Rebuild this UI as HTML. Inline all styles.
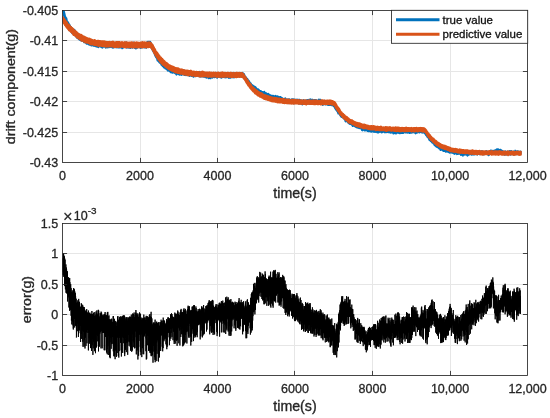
<!DOCTYPE html>
<html><head><meta charset="utf-8"><title>drift prediction</title>
<style>
html,body{margin:0;padding:0;background:#fff;}
svg{display:block}
text{font-family:"Liberation Sans",sans-serif;fill:#262626;}
.tk{font-size:12.5px;stroke:#262626;stroke-width:0.3px}
.lb{font-size:14.2px;stroke:#262626;stroke-width:0.35px}
.lg{font-size:11.5px;fill:#111;stroke:#111;stroke-width:0.3px}
</style></head><body>
<svg width="550" height="418" viewBox="0 0 550 418">
<rect width="550" height="418" fill="#fff"/>
<defs><clipPath id="c0"><rect x="62.5" y="10.5" width="465.0" height="152.0"/></clipPath><clipPath id="c1"><rect x="62.5" y="223.5" width="465.0" height="152.0"/></clipPath></defs>
<path d="M140.5,10.5V162.5M217.5,10.5V162.5M294.5,10.5V162.5M372.5,10.5V162.5M450.5,10.5V162.5M62.5,40.5H527.5M62.5,71.5H527.5M62.5,101.5H527.5M62.5,132.5H527.5" stroke="#e6e6e6" stroke-width="1" fill="none"/>
<g clip-path="url(#c0)"><path d="M62.5,6.6 L63.2,8.6 L63.8,10.8 L64.5,13.5 L65.1,16.2 L65.8,17.6 L66.4,18.2 L67.1,21.4 L67.7,21.7 L68.4,23.1 L69.1,24.2 L69.7,25.1 L70.4,26.7 L71.0,26.8 L71.7,28.3 L72.3,29.2 L73.0,29.1 L73.6,30.0 L74.3,29.6 L74.9,30.5 L75.6,32.0 L76.3,32.6 L76.9,33.2 L77.6,34.0 L78.2,33.7 L78.9,34.9 L79.5,34.8 L80.2,35.3 L80.8,36.0 L81.5,35.8 L82.2,36.8 L82.8,36.3 L83.5,37.8 L84.1,38.7 L84.8,38.2 L85.4,38.4 L86.1,39.0 L86.7,39.2 L87.4,39.0 L88.1,38.9 L88.7,39.9 L89.4,40.9 L90.0,40.2 L90.7,40.8 L91.3,41.2 L92.0,41.0 L92.6,40.6 L93.3,41.0 L93.9,41.8 L94.6,41.6 L95.3,42.8 L95.9,42.2 L96.6,42.1 L97.2,42.0 L97.9,42.3 L98.5,42.5 L99.2,42.5 L99.8,42.0 L100.5,41.7 L101.2,42.6 L101.8,42.3 L102.5,42.8 L103.1,42.9 L103.8,42.4 L104.4,42.3 L105.1,42.1 L105.7,42.5 L106.4,42.9 L107.1,42.9 L107.7,42.7 L108.4,43.1 L109.0,43.2 L109.7,42.7 L110.3,42.8 L111.0,42.7 L111.6,42.2 L112.3,42.1 L112.9,43.0 L113.6,43.2 L114.3,42.6 L114.9,43.9 L115.6,43.2 L116.2,43.7 L116.9,43.0 L117.5,42.7 L118.2,44.2 L118.8,43.7 L119.5,43.7 L120.2,42.8 L120.8,42.9 L121.5,43.4 L122.1,44.5 L122.8,43.6 L123.4,42.8 L124.1,42.8 L124.7,43.0 L125.4,42.8 L126.1,42.1 L126.7,43.5 L127.4,43.0 L128.0,44.6 L128.7,43.6 L129.3,43.0 L130.0,44.0 L130.6,43.9 L131.3,43.4 L131.9,43.3 L132.6,44.5 L133.3,42.4 L133.9,43.1 L134.6,43.3 L135.2,44.2 L135.9,43.6 L136.5,43.3 L137.2,43.5 L137.8,43.5 L138.5,43.3 L139.2,43.3 L139.8,43.3 L140.5,43.4 L141.1,43.2 L141.8,43.7 L142.4,42.5 L143.1,43.7 L143.7,43.4 L144.4,43.0 L145.1,43.5 L145.7,43.7 L146.4,43.7 L147.0,42.2 L147.7,41.7 L148.3,42.4 L149.0,41.5 L149.6,42.2 L150.3,41.8 L150.9,43.0 L151.6,44.4 L152.3,45.0 L152.9,46.9 L153.6,47.8 L154.2,49.2 L154.9,51.0 L155.5,51.7 L156.2,54.1 L156.8,55.2 L157.5,55.6 L158.2,56.6 L158.8,56.7 L159.5,58.9 L160.1,59.1 L160.8,59.7 L161.4,60.9 L162.1,61.2 L162.7,62.2 L163.4,62.5 L164.1,63.7 L164.7,63.7 L165.4,65.0 L166.0,64.6 L166.7,65.6 L167.3,66.1 L168.0,65.8 L168.6,66.4 L169.3,66.8 L169.9,67.0 L170.6,68.9 L171.3,68.0 L171.9,68.5 L172.6,68.4 L173.2,68.9 L173.9,68.8 L174.5,69.2 L175.2,69.5 L175.8,70.7 L176.5,70.3 L177.2,69.5 L177.8,69.9 L178.5,69.9 L179.1,71.0 L179.8,70.6 L180.4,70.4 L181.1,70.6 L181.7,70.4 L182.4,70.4 L183.1,69.9 L183.7,70.1 L184.4,71.1 L185.0,70.6 L185.7,71.3 L186.3,71.4 L187.0,71.9 L187.6,71.7 L188.3,70.8 L189.0,71.1 L189.6,72.1 L190.3,71.3 L190.9,71.7 L191.6,72.7 L192.2,72.9 L192.9,72.8 L193.5,73.3 L194.2,72.3 L194.8,72.3 L195.5,72.8 L196.2,71.8 L196.8,72.2 L197.5,72.0 L198.1,72.4 L198.8,72.9 L199.4,71.8 L200.1,73.4 L200.7,72.6 L201.4,72.3 L202.1,73.2 L202.7,73.6 L203.4,72.8 L204.0,73.3 L204.7,73.1 L205.3,73.7 L206.0,73.0 L206.6,74.0 L207.3,73.7 L208.0,74.0 L208.6,73.8 L209.3,74.1 L209.9,74.3 L210.6,74.5 L211.2,73.5 L211.9,72.8 L212.5,74.0 L213.2,73.5 L213.8,73.2 L214.5,74.4 L215.2,73.7 L215.8,72.6 L216.5,73.1 L217.1,73.9 L217.8,73.8 L218.4,73.4 L219.1,73.3 L219.7,73.3 L220.4,73.6 L221.1,73.5 L221.7,73.7 L222.4,73.6 L223.0,74.4 L223.7,74.2 L224.3,73.8 L225.0,73.3 L225.6,74.2 L226.3,73.8 L227.0,73.8 L227.6,73.4 L228.3,74.2 L228.9,73.8 L229.6,73.5 L230.2,74.1 L230.9,74.2 L231.5,73.3 L232.2,72.9 L232.8,74.0 L233.5,72.9 L234.2,73.5 L234.8,73.1 L235.5,73.0 L236.1,73.3 L236.8,73.9 L237.4,73.3 L238.1,73.6 L238.7,73.2 L239.4,74.6 L240.1,73.1 L240.7,72.8 L241.4,72.8 L242.0,73.6 L242.7,72.8 L243.3,74.2 L244.0,74.0 L244.6,75.3 L245.3,76.7 L246.0,77.2 L246.6,78.6 L247.3,78.7 L247.9,80.1 L248.6,80.5 L249.2,81.3 L249.9,82.7 L250.5,83.1 L251.2,84.1 L251.8,85.3 L252.5,85.1 L253.2,85.8 L253.8,86.6 L254.5,86.5 L255.1,86.8 L255.8,87.5 L256.4,88.4 L257.1,89.3 L257.7,89.1 L258.4,89.4 L259.1,90.1 L259.7,90.8 L260.4,91.3 L261.0,91.0 L261.7,91.8 L262.3,91.9 L263.0,92.2 L263.6,93.5 L264.3,91.6 L265.0,93.5 L265.6,93.0 L266.3,93.2 L266.9,93.8 L267.6,94.1 L268.2,93.6 L268.9,94.8 L269.5,94.6 L270.2,95.0 L270.8,95.3 L271.5,95.9 L272.2,95.8 L272.8,95.6 L273.5,96.1 L274.1,96.1 L274.8,96.8 L275.4,95.7 L276.1,96.4 L276.7,96.5 L277.4,96.1 L278.1,96.7 L278.7,96.7 L279.4,97.7 L280.0,96.8 L280.7,96.9 L281.3,97.8 L282.0,97.9 L282.6,98.6 L283.3,99.6 L284.0,99.3 L284.6,98.8 L285.3,98.1 L285.9,99.3 L286.6,99.4 L287.2,99.4 L287.9,99.5 L288.5,99.3 L289.2,99.1 L289.8,100.0 L290.5,99.7 L291.2,100.2 L291.8,99.1 L292.5,99.2 L293.1,99.9 L293.8,99.2 L294.4,99.9 L295.1,99.5 L295.7,100.3 L296.4,99.6 L297.1,99.5 L297.7,99.8 L298.4,99.6 L299.0,100.1 L299.7,99.6 L300.3,101.3 L301.0,100.3 L301.6,101.7 L302.3,101.2 L303.0,100.5 L303.6,100.0 L304.3,100.8 L304.9,100.7 L305.6,100.5 L306.2,100.5 L306.9,100.1 L307.5,99.8 L308.2,100.0 L308.8,99.7 L309.5,101.5 L310.2,99.1 L310.8,100.3 L311.5,100.0 L312.1,99.4 L312.8,99.9 L313.4,100.1 L314.1,100.0 L314.7,99.9 L315.4,99.8 L316.1,99.9 L316.7,100.8 L317.4,100.9 L318.0,100.6 L318.7,99.5 L319.3,100.5 L320.0,99.4 L320.6,100.1 L321.3,100.7 L322.0,100.8 L322.6,101.0 L323.3,101.6 L323.9,100.7 L324.6,100.7 L325.2,101.2 L325.9,100.8 L326.5,101.1 L327.2,101.1 L327.8,101.3 L328.5,101.1 L329.2,101.8 L329.8,101.9 L330.5,101.9 L331.1,101.3 L331.8,102.8 L332.4,101.9 L333.1,103.3 L333.7,103.8 L334.4,103.8 L335.1,104.5 L335.7,106.7 L336.4,106.8 L337.0,107.5 L337.7,109.0 L338.3,110.8 L339.0,110.8 L339.6,111.0 L340.3,112.3 L341.0,113.3 L341.6,114.3 L342.3,114.0 L342.9,114.5 L343.6,115.1 L344.2,116.6 L344.9,117.1 L345.5,117.6 L346.2,117.8 L346.8,118.6 L347.5,118.8 L348.2,119.5 L348.8,120.1 L349.5,120.7 L350.1,121.1 L350.8,121.3 L351.4,121.4 L352.1,123.0 L352.7,122.0 L353.4,122.8 L354.1,122.9 L354.7,123.1 L355.4,124.0 L356.0,124.3 L356.7,124.2 L357.3,124.2 L358.0,124.1 L358.6,125.0 L359.3,125.4 L360.0,125.0 L360.6,125.9 L361.3,125.9 L361.9,127.7 L362.6,127.3 L363.2,126.4 L363.9,127.5 L364.5,127.7 L365.2,127.5 L365.8,126.5 L366.5,128.0 L367.2,127.9 L367.8,128.2 L368.5,128.5 L369.1,127.9 L369.8,128.4 L370.4,128.6 L371.1,128.5 L371.7,128.5 L372.4,127.8 L373.1,128.9 L373.7,129.0 L374.4,129.4 L375.0,129.5 L375.7,128.6 L376.3,128.8 L377.0,129.4 L377.6,129.1 L378.3,129.6 L379.0,128.9 L379.6,128.7 L380.3,129.8 L380.9,129.2 L381.6,129.3 L382.2,128.8 L382.9,129.2 L383.5,129.5 L384.2,128.9 L384.8,129.6 L385.5,129.9 L386.2,129.6 L386.8,129.2 L387.5,129.1 L388.1,129.1 L388.8,130.0 L389.4,129.6 L390.1,129.0 L390.7,129.8 L391.4,129.6 L392.1,129.4 L392.7,130.0 L393.4,130.0 L394.0,130.8 L394.7,130.3 L395.3,129.9 L396.0,129.9 L396.6,129.3 L397.3,129.6 L398.0,130.5 L398.6,129.9 L399.3,130.6 L399.9,130.3 L400.6,130.5 L401.2,129.6 L401.9,129.9 L402.5,129.6 L403.2,129.9 L403.8,130.2 L404.5,129.4 L405.2,129.0 L405.8,129.6 L406.5,129.9 L407.1,129.4 L407.8,129.5 L408.4,129.9 L409.1,129.1 L409.7,130.0 L410.4,130.4 L411.1,129.8 L411.7,130.4 L412.4,129.0 L413.0,130.1 L413.7,129.0 L414.3,129.8 L415.0,129.7 L415.6,129.8 L416.3,129.2 L417.0,130.2 L417.6,129.3 L418.3,129.0 L418.9,129.9 L419.6,129.9 L420.2,129.8 L420.9,129.1 L421.5,129.5 L422.2,129.3 L422.9,130.0 L423.5,129.2 L424.2,130.3 L424.8,130.3 L425.5,131.7 L426.1,132.0 L426.8,133.3 L427.4,134.2 L428.1,135.5 L428.7,135.7 L429.4,136.8 L430.1,137.7 L430.7,137.9 L431.4,138.3 L432.0,139.5 L432.7,139.3 L433.3,140.6 L434.0,141.1 L434.6,142.5 L435.3,142.9 L436.0,144.4 L436.6,144.0 L437.3,143.8 L437.9,144.9 L438.6,144.8 L439.2,146.1 L439.9,145.7 L440.5,147.1 L441.2,146.5 L441.9,147.6 L442.5,147.3 L443.2,148.3 L443.8,147.7 L444.5,147.8 L445.1,148.1 L445.8,149.3 L446.4,149.0 L447.1,149.2 L447.7,149.7 L448.4,150.0 L449.1,149.7 L449.7,149.9 L450.4,149.1 L451.0,150.1 L451.7,150.4 L452.3,149.5 L453.0,150.6 L453.6,150.5 L454.3,150.5 L455.0,150.8 L455.6,150.8 L456.3,150.8 L456.9,151.2 L457.6,151.5 L458.2,151.1 L458.9,150.9 L459.5,151.0 L460.2,151.5 L460.9,152.2 L461.5,152.0 L462.2,151.5 L462.8,152.2 L463.5,151.6 L464.1,151.3 L464.8,151.7 L465.4,152.1 L466.1,152.3 L466.7,151.4 L467.4,152.8 L468.1,152.6 L468.7,152.3 L469.4,152.2 L470.0,152.1 L470.7,151.6 L471.3,151.9 L472.0,152.2 L472.6,152.2 L473.3,152.2 L474.0,152.1 L474.6,151.2 L475.3,151.2 L475.9,151.9 L476.6,152.0 L477.2,152.4 L477.9,151.1 L478.5,151.8 L479.2,151.3 L479.9,151.9 L480.5,151.3 L481.2,151.3 L481.8,151.0 L482.5,151.2 L483.1,152.7 L483.8,151.8 L484.4,152.1 L485.1,151.6 L485.7,151.7 L486.4,151.0 L487.1,151.5 L487.7,151.7 L488.4,151.6 L489.0,152.1 L489.7,151.9 L490.3,151.5 L491.0,150.3 L491.6,150.9 L492.3,150.8 L493.0,150.6 L493.6,150.9 L494.3,151.2 L494.9,150.2 L495.6,150.4 L496.2,149.8 L496.9,149.2 L497.5,149.4 L498.2,149.2 L498.9,149.8 L499.5,150.5 L500.2,149.7 L500.8,149.7 L501.5,151.1 L502.1,150.6 L502.8,151.3 L503.4,151.3 L504.1,151.8 L504.7,152.1 L505.4,151.3 L506.1,152.3 L506.7,152.2 L507.4,151.4 L508.0,151.4 L508.7,152.3 L509.3,151.3 L510.0,150.9 L510.6,151.7 L511.3,151.0 L512.0,151.7 L512.6,151.9 L513.3,151.4 L513.9,152.2 L514.6,152.0 L515.2,150.5 L515.9,151.6 L516.5,151.9 L517.2,151.1 L517.9,151.2 L518.5,151.6 L519.2,152.1 L519.8,151.6 L520.5,151.4 L520.8,151.7 L520.8,153.8 L520.5,153.6 L519.8,154.4 L519.2,154.0 L518.5,153.5 L517.9,153.7 L517.2,154.3 L516.5,154.3 L515.9,154.0 L515.2,153.5 L514.6,154.4 L513.9,154.6 L513.3,154.0 L512.6,154.4 L512.0,154.2 L511.3,153.6 L510.6,154.7 L510.0,153.8 L509.3,154.3 L508.7,154.6 L508.0,154.0 L507.4,154.1 L506.7,153.8 L506.1,154.8 L505.4,154.3 L504.7,154.9 L504.1,154.6 L503.4,153.9 L502.8,154.0 L502.1,153.2 L501.5,153.6 L500.8,152.5 L500.2,152.3 L499.5,153.1 L498.9,152.7 L498.2,152.5 L497.5,152.4 L496.9,151.7 L496.2,152.5 L495.6,153.4 L494.9,153.2 L494.3,153.5 L493.6,152.8 L493.0,153.5 L492.3,153.3 L491.6,153.3 L491.0,153.5 L490.3,154.0 L489.7,154.1 L489.0,155.1 L488.4,155.3 L487.7,154.0 L487.1,153.5 L486.4,153.5 L485.7,154.1 L485.1,153.9 L484.4,154.4 L483.8,153.9 L483.1,154.6 L482.5,153.9 L481.8,153.9 L481.2,154.2 L480.5,153.7 L479.9,154.5 L479.2,153.7 L478.5,153.4 L477.9,153.6 L477.2,154.7 L476.6,154.1 L475.9,154.0 L475.3,154.4 L474.6,153.6 L474.0,154.7 L473.3,154.4 L472.6,154.7 L472.0,154.0 L471.3,154.8 L470.7,153.8 L470.0,154.1 L469.4,154.5 L468.7,154.9 L468.1,155.1 L467.4,155.7 L466.7,153.6 L466.1,154.8 L465.4,154.4 L464.8,154.8 L464.1,154.5 L463.5,154.5 L462.8,155.8 L462.2,154.2 L461.5,154.3 L460.9,155.1 L460.2,153.4 L459.5,153.8 L458.9,153.2 L458.2,154.0 L457.6,153.3 L456.9,154.2 L456.3,153.6 L455.6,152.6 L455.0,153.6 L454.3,154.0 L453.6,153.2 L453.0,152.8 L452.3,153.0 L451.7,152.6 L451.0,152.7 L450.4,152.1 L449.7,152.8 L449.1,152.4 L448.4,152.2 L447.7,151.6 L447.1,151.6 L446.4,151.5 L445.8,151.9 L445.1,150.9 L444.5,150.9 L443.8,151.1 L443.2,151.1 L442.5,149.9 L441.9,149.6 L441.2,149.7 L440.5,150.1 L439.9,148.6 L439.2,148.7 L438.6,148.0 L437.9,147.3 L437.3,147.1 L436.6,146.8 L436.0,146.4 L435.3,145.6 L434.6,145.4 L434.0,143.9 L433.3,143.4 L432.7,142.5 L432.0,142.6 L431.4,140.7 L430.7,141.2 L430.1,140.3 L429.4,140.1 L428.7,138.6 L428.1,137.3 L427.4,137.1 L426.8,135.8 L426.1,135.2 L425.5,134.1 L424.8,133.6 L424.2,132.7 L423.5,132.4 L422.9,132.4 L422.2,132.8 L421.5,132.3 L420.9,131.8 L420.2,132.1 L419.6,132.7 L418.9,132.4 L418.3,131.6 L417.6,131.4 L417.0,132.9 L416.3,132.3 L415.6,133.5 L415.0,132.4 L414.3,132.6 L413.7,132.3 L413.0,132.4 L412.4,131.9 L411.7,132.9 L411.1,132.4 L410.4,132.8 L409.7,133.1 L409.1,131.9 L408.4,132.6 L407.8,132.8 L407.1,132.2 L406.5,132.6 L405.8,132.4 L405.2,132.6 L404.5,132.0 L403.8,132.5 L403.2,133.2 L402.5,133.1 L401.9,133.2 L401.2,133.0 L400.6,133.0 L399.9,133.4 L399.3,133.1 L398.6,132.7 L398.0,133.0 L397.3,131.9 L396.6,131.7 L396.0,133.7 L395.3,133.3 L394.7,132.7 L394.0,133.5 L393.4,133.7 L392.7,132.3 L392.1,132.7 L391.4,132.7 L390.7,132.8 L390.1,132.7 L389.4,131.7 L388.8,132.3 L388.1,132.3 L387.5,132.2 L386.8,132.1 L386.2,132.3 L385.5,132.1 L384.8,132.5 L384.2,131.8 L383.5,131.8 L382.9,132.0 L382.2,132.3 L381.6,132.5 L380.9,131.8 L380.3,131.9 L379.6,131.9 L379.0,132.2 L378.3,132.6 L377.6,132.5 L377.0,132.4 L376.3,131.7 L375.7,131.9 L375.0,132.1 L374.4,131.6 L373.7,131.9 L373.1,131.5 L372.4,131.1 L371.7,131.8 L371.1,131.1 L370.4,131.7 L369.8,131.3 L369.1,130.7 L368.5,131.4 L367.8,131.2 L367.2,130.8 L366.5,130.2 L365.8,130.1 L365.2,130.6 L364.5,130.5 L363.9,129.7 L363.2,129.0 L362.6,130.5 L361.9,130.1 L361.3,128.7 L360.6,128.4 L360.0,127.8 L359.3,128.3 L358.6,128.0 L358.0,126.8 L357.3,127.8 L356.7,127.5 L356.0,127.0 L355.4,126.8 L354.7,126.3 L354.1,125.5 L353.4,126.0 L352.7,126.2 L352.1,125.0 L351.4,124.5 L350.8,123.9 L350.1,124.2 L349.5,123.8 L348.8,123.2 L348.2,122.9 L347.5,121.7 L346.8,121.5 L346.2,121.0 L345.5,121.5 L344.9,119.5 L344.2,118.9 L343.6,118.3 L342.9,117.6 L342.3,117.1 L341.6,117.2 L341.0,116.4 L340.3,115.4 L339.6,114.3 L339.0,113.5 L338.3,113.6 L337.7,111.9 L337.0,110.9 L336.4,110.1 L335.7,109.3 L335.1,108.3 L334.4,106.6 L333.7,106.3 L333.1,105.7 L332.4,104.5 L331.8,105.4 L331.1,104.7 L330.5,105.0 L329.8,105.1 L329.2,105.2 L328.5,104.9 L327.8,105.0 L327.2,104.2 L326.5,104.3 L325.9,104.0 L325.2,104.7 L324.6,103.6 L323.9,103.2 L323.3,104.7 L322.6,105.0 L322.0,103.5 L321.3,103.7 L320.6,102.7 L320.0,102.3 L319.3,102.6 L318.7,103.1 L318.0,103.2 L317.4,102.9 L316.7,103.6 L316.1,103.0 L315.4,103.1 L314.7,102.8 L314.1,103.3 L313.4,103.1 L312.8,102.8 L312.1,102.6 L311.5,103.1 L310.8,103.5 L310.2,102.8 L309.5,104.0 L308.8,102.4 L308.2,103.3 L307.5,103.4 L306.9,103.8 L306.2,103.5 L305.6,103.0 L304.9,103.1 L304.3,103.9 L303.6,103.3 L303.0,103.2 L302.3,104.5 L301.6,104.1 L301.0,103.7 L300.3,103.7 L299.7,103.2 L299.0,103.8 L298.4,102.7 L297.7,103.0 L297.1,103.1 L296.4,103.2 L295.7,103.2 L295.1,102.6 L294.4,103.4 L293.8,102.6 L293.1,103.4 L292.5,102.7 L291.8,102.1 L291.2,102.6 L290.5,102.7 L289.8,102.9 L289.2,102.4 L288.5,103.3 L287.9,102.3 L287.2,102.6 L286.6,102.5 L285.9,102.6 L285.3,101.4 L284.6,101.6 L284.0,102.0 L283.3,102.2 L282.6,101.7 L282.0,101.3 L281.3,101.4 L280.7,100.9 L280.0,100.3 L279.4,101.3 L278.7,100.7 L278.1,99.5 L277.4,99.6 L276.7,100.2 L276.1,99.2 L275.4,99.2 L274.8,99.8 L274.1,98.6 L273.5,98.7 L272.8,99.0 L272.2,98.7 L271.5,99.0 L270.8,99.1 L270.2,98.3 L269.5,97.7 L268.9,97.8 L268.2,97.4 L267.6,96.8 L266.9,97.1 L266.3,97.2 L265.6,95.6 L265.0,96.7 L264.3,95.5 L263.6,96.1 L263.0,95.6 L262.3,95.4 L261.7,95.3 L261.0,94.3 L260.4,93.9 L259.7,93.1 L259.1,93.4 L258.4,93.0 L257.7,92.4 L257.1,92.0 L256.4,91.2 L255.8,90.5 L255.1,90.1 L254.5,89.5 L253.8,90.2 L253.2,88.9 L252.5,88.8 L251.8,87.8 L251.2,87.4 L250.5,86.7 L249.9,86.0 L249.2,84.7 L248.6,84.6 L247.9,83.5 L247.3,81.9 L246.6,82.2 L246.0,80.5 L245.3,79.4 L244.6,79.1 L244.0,78.1 L243.3,77.5 L242.7,76.8 L242.0,76.4 L241.4,76.6 L240.7,76.7 L240.1,76.4 L239.4,76.8 L238.7,76.5 L238.1,76.2 L237.4,76.2 L236.8,76.9 L236.1,77.3 L235.5,76.9 L234.8,76.6 L234.2,77.6 L233.5,77.2 L232.8,77.5 L232.2,76.7 L231.5,77.1 L230.9,77.4 L230.2,77.9 L229.6,77.1 L228.9,78.1 L228.3,77.2 L227.6,76.7 L227.0,77.4 L226.3,76.8 L225.6,77.5 L225.0,77.2 L224.3,77.3 L223.7,77.1 L223.0,77.0 L222.4,76.8 L221.7,77.8 L221.1,77.6 L220.4,77.4 L219.7,76.4 L219.1,76.9 L218.4,76.4 L217.8,76.9 L217.1,77.9 L216.5,76.6 L215.8,76.7 L215.2,77.2 L214.5,77.4 L213.8,77.0 L213.2,76.7 L212.5,77.7 L211.9,76.6 L211.2,77.0 L210.6,78.3 L209.9,78.3 L209.3,77.5 L208.6,78.3 L208.0,77.7 L207.3,76.9 L206.6,77.8 L206.0,76.9 L205.3,77.3 L204.7,76.8 L204.0,76.9 L203.4,76.7 L202.7,76.5 L202.1,76.5 L201.4,75.9 L200.7,76.2 L200.1,76.7 L199.4,75.6 L198.8,76.3 L198.1,76.0 L197.5,74.6 L196.8,76.0 L196.2,76.2 L195.5,76.4 L194.8,75.9 L194.2,75.8 L193.5,76.9 L192.9,76.3 L192.2,75.8 L191.6,76.1 L190.9,75.7 L190.3,75.1 L189.6,76.1 L189.0,75.2 L188.3,75.3 L187.6,74.9 L187.0,75.4 L186.3,74.6 L185.7,75.2 L185.0,74.5 L184.4,75.0 L183.7,74.4 L183.1,74.4 L182.4,74.1 L181.7,75.0 L181.1,73.8 L180.4,74.5 L179.8,74.9 L179.1,74.6 L178.5,74.1 L177.8,73.9 L177.2,73.1 L176.5,74.7 L175.8,73.7 L175.2,73.3 L174.5,73.0 L173.9,72.6 L173.2,72.2 L172.6,72.8 L171.9,72.6 L171.3,71.9 L170.6,72.4 L169.9,71.0 L169.3,71.0 L168.6,69.9 L168.0,70.9 L167.3,69.7 L166.7,69.4 L166.0,68.4 L165.4,68.7 L164.7,67.8 L164.1,67.7 L163.4,66.6 L162.7,66.4 L162.1,65.3 L161.4,64.9 L160.8,63.4 L160.1,63.1 L159.5,62.6 L158.8,61.7 L158.2,60.0 L157.5,60.7 L156.8,58.1 L156.2,57.6 L155.5,56.3 L154.9,54.9 L154.2,53.0 L153.6,52.1 L152.9,50.9 L152.3,49.4 L151.6,48.3 L150.9,47.4 L150.3,45.7 L149.6,46.1 L149.0,46.2 L148.3,46.1 L147.7,46.2 L147.0,46.4 L146.4,47.8 L145.7,47.7 L145.1,47.6 L144.4,47.6 L143.7,47.4 L143.1,47.4 L142.4,47.2 L141.8,47.2 L141.1,47.8 L140.5,48.0 L139.8,47.4 L139.2,47.3 L138.5,47.2 L137.8,47.1 L137.2,47.8 L136.5,47.1 L135.9,48.6 L135.2,47.8 L134.6,48.0 L133.9,47.2 L133.3,46.7 L132.6,47.8 L131.9,47.2 L131.3,47.4 L130.6,48.0 L130.0,47.9 L129.3,47.8 L128.7,47.6 L128.0,47.7 L127.4,47.2 L126.7,47.7 L126.1,45.9 L125.4,47.1 L124.7,47.2 L124.1,47.3 L123.4,46.8 L122.8,48.0 L122.1,48.4 L121.5,47.1 L120.8,47.3 L120.2,47.6 L119.5,47.5 L118.8,47.6 L118.2,47.6 L117.5,47.1 L116.9,47.6 L116.2,47.1 L115.6,47.4 L114.9,47.2 L114.3,46.8 L113.6,47.7 L112.9,47.8 L112.3,46.4 L111.6,46.1 L111.0,47.2 L110.3,46.8 L109.7,46.7 L109.0,47.4 L108.4,47.4 L107.7,46.4 L107.1,47.6 L106.4,46.6 L105.7,47.8 L105.1,46.9 L104.4,46.4 L103.8,46.3 L103.1,46.7 L102.5,47.7 L101.8,46.0 L101.2,47.2 L100.5,46.4 L99.8,46.0 L99.2,45.8 L98.5,47.3 L97.9,46.2 L97.2,46.8 L96.6,46.6 L95.9,46.0 L95.3,46.3 L94.6,45.9 L93.9,45.9 L93.3,45.8 L92.6,45.3 L92.0,45.3 L91.3,45.6 L90.7,45.1 L90.0,44.4 L89.4,44.8 L88.7,44.5 L88.1,43.7 L87.4,43.8 L86.7,43.9 L86.1,43.0 L85.4,42.7 L84.8,42.2 L84.1,42.4 L83.5,41.2 L82.8,40.5 L82.2,40.9 L81.5,40.6 L80.8,40.3 L80.2,40.3 L79.5,39.0 L78.9,39.3 L78.2,38.5 L77.6,38.2 L76.9,37.7 L76.3,37.0 L75.6,36.2 L74.9,34.9 L74.3,33.9 L73.6,33.6 L73.0,33.2 L72.3,33.5 L71.7,32.4 L71.0,30.7 L70.4,31.0 L69.7,28.7 L69.1,29.2 L68.4,26.8 L67.7,25.9 L67.1,25.4 L66.4,22.8 L65.8,21.5 L65.1,20.5 L64.5,18.3 L63.8,15.4 L63.2,12.8 L62.5,11.2Z" fill="#0072bd" stroke="#0072bd" stroke-width="1.8" stroke-linejoin="round"/>
<path d="M62.5,16.8 L63.2,17.7 L63.8,18.7 L64.5,19.5 L65.1,20.3 L65.8,21.4 L66.4,21.8 L67.1,22.9 L67.7,24.1 L68.4,24.6 L69.1,24.9 L69.7,26.0 L70.4,26.8 L71.0,27.0 L71.7,28.0 L72.3,28.1 L73.0,29.0 L73.6,29.7 L74.3,30.6 L74.9,30.7 L75.6,31.3 L76.3,31.7 L76.9,32.5 L77.6,33.4 L78.2,33.5 L78.9,33.9 L79.5,34.4 L80.2,35.0 L80.8,34.8 L81.5,35.0 L82.2,35.8 L82.8,36.1 L83.5,36.5 L84.1,37.0 L84.8,36.7 L85.4,37.8 L86.1,37.7 L86.7,37.8 L87.4,38.3 L88.1,38.4 L88.7,38.9 L89.4,38.6 L90.0,38.9 L90.7,39.9 L91.3,39.5 L92.0,39.8 L92.6,40.1 L93.3,40.4 L93.9,40.3 L94.6,40.0 L95.3,40.5 L95.9,40.7 L96.6,40.9 L97.2,41.0 L97.9,40.7 L98.5,40.8 L99.2,41.3 L99.8,40.9 L100.5,41.4 L101.2,41.6 L101.8,41.2 L102.5,41.4 L103.1,41.2 L103.8,41.7 L104.4,41.3 L105.1,41.7 L105.7,41.7 L106.4,42.1 L107.1,41.9 L107.7,42.0 L108.4,42.0 L109.0,42.2 L109.7,41.7 L110.3,42.2 L111.0,42.1 L111.6,42.0 L112.3,42.0 L112.9,41.6 L113.6,42.1 L114.3,42.3 L114.9,42.4 L115.6,42.3 L116.2,42.0 L116.9,42.2 L117.5,41.9 L118.2,42.0 L118.8,42.2 L119.5,41.9 L120.2,42.7 L120.8,42.4 L121.5,42.2 L122.1,42.1 L122.8,42.6 L123.4,42.5 L124.1,42.9 L124.7,42.1 L125.4,42.5 L126.1,42.3 L126.7,42.3 L127.4,42.4 L128.0,42.4 L128.7,43.0 L129.3,42.6 L130.0,42.6 L130.6,42.6 L131.3,42.3 L131.9,42.3 L132.6,43.0 L133.3,42.7 L133.9,42.7 L134.6,42.3 L135.2,42.8 L135.9,42.6 L136.5,42.3 L137.2,42.4 L137.8,42.6 L138.5,42.7 L139.2,42.8 L139.8,43.0 L140.5,42.8 L141.1,42.3 L141.8,42.8 L142.4,42.0 L143.1,42.7 L143.7,42.5 L144.4,42.2 L145.1,43.0 L145.7,42.5 L146.4,42.7 L147.0,42.4 L147.7,42.7 L148.3,42.5 L149.0,42.2 L149.6,42.4 L150.3,42.8 L150.9,42.9 L151.6,44.2 L152.3,44.4 L152.9,45.9 L153.6,47.0 L154.2,48.4 L154.9,49.2 L155.5,50.7 L156.2,51.8 L156.8,52.3 L157.5,53.2 L158.2,54.2 L158.8,55.3 L159.5,56.0 L160.1,57.2 L160.8,57.5 L161.4,58.2 L162.1,58.7 L162.7,59.5 L163.4,60.6 L164.1,60.8 L164.7,61.5 L165.4,62.4 L166.0,62.7 L166.7,63.1 L167.3,63.6 L168.0,64.2 L168.6,64.9 L169.3,65.1 L169.9,65.4 L170.6,65.8 L171.3,66.2 L171.9,66.3 L172.6,66.7 L173.2,66.8 L173.9,67.3 L174.5,67.5 L175.2,68.1 L175.8,67.9 L176.5,68.3 L177.2,68.3 L177.8,68.3 L178.5,68.5 L179.1,69.2 L179.8,69.3 L180.4,69.6 L181.1,69.3 L181.7,69.7 L182.4,69.6 L183.1,70.3 L183.7,70.1 L184.4,70.2 L185.0,70.4 L185.7,70.7 L186.3,70.7 L187.0,70.4 L187.6,70.8 L188.3,70.8 L189.0,70.9 L189.6,71.3 L190.3,71.1 L190.9,70.6 L191.6,71.5 L192.2,71.6 L192.9,72.0 L193.5,71.6 L194.2,71.6 L194.8,72.4 L195.5,71.9 L196.2,71.8 L196.8,72.2 L197.5,72.0 L198.1,71.9 L198.8,72.0 L199.4,72.7 L200.1,72.3 L200.7,72.1 L201.4,71.8 L202.1,72.2 L202.7,71.5 L203.4,72.7 L204.0,72.1 L204.7,72.4 L205.3,72.5 L206.0,72.5 L206.6,72.4 L207.3,72.4 L208.0,72.9 L208.6,73.0 L209.3,72.3 L209.9,72.7 L210.6,72.7 L211.2,72.5 L211.9,72.9 L212.5,72.8 L213.2,72.6 L213.8,72.6 L214.5,72.8 L215.2,72.6 L215.8,72.8 L216.5,72.9 L217.1,73.2 L217.8,72.4 L218.4,72.5 L219.1,72.9 L219.7,72.9 L220.4,73.1 L221.1,72.6 L221.7,72.8 L222.4,72.3 L223.0,73.3 L223.7,72.8 L224.3,72.9 L225.0,72.8 L225.6,72.9 L226.3,72.9 L227.0,72.9 L227.6,72.8 L228.3,72.8 L228.9,73.2 L229.6,73.2 L230.2,72.8 L230.9,72.8 L231.5,73.0 L232.2,73.3 L232.8,73.3 L233.5,72.8 L234.2,73.1 L234.8,73.3 L235.5,73.0 L236.1,73.0 L236.8,72.7 L237.4,73.0 L238.1,73.2 L238.7,73.0 L239.4,72.8 L240.1,73.2 L240.7,73.2 L241.4,72.9 L242.0,72.9 L242.7,73.6 L243.3,73.9 L244.0,75.1 L244.6,76.0 L245.3,77.0 L246.0,78.2 L246.6,79.0 L247.3,80.2 L247.9,80.9 L248.6,82.5 L249.2,82.7 L249.9,83.7 L250.5,84.4 L251.2,85.4 L251.8,86.6 L252.5,87.0 L253.2,87.6 L253.8,88.2 L254.5,89.1 L255.1,89.2 L255.8,89.9 L256.4,90.3 L257.1,91.0 L257.7,91.3 L258.4,91.8 L259.1,92.1 L259.7,92.8 L260.4,93.1 L261.0,93.1 L261.7,93.3 L262.3,93.9 L263.0,94.3 L263.6,94.6 L264.3,95.0 L265.0,95.4 L265.6,95.2 L266.3,95.8 L266.9,95.8 L267.6,96.3 L268.2,96.3 L268.9,96.5 L269.5,96.8 L270.2,97.1 L270.8,97.0 L271.5,97.4 L272.2,97.6 L272.8,97.4 L273.5,98.0 L274.1,98.0 L274.8,97.8 L275.4,97.9 L276.1,98.0 L276.7,98.2 L277.4,98.8 L278.1,98.3 L278.7,99.0 L279.4,98.5 L280.0,98.7 L280.7,98.8 L281.3,98.9 L282.0,98.9 L282.6,99.2 L283.3,98.8 L284.0,99.3 L284.6,99.6 L285.3,99.3 L285.9,99.9 L286.6,99.5 L287.2,99.5 L287.9,100.0 L288.5,99.4 L289.2,99.8 L289.8,100.0 L290.5,100.2 L291.2,99.9 L291.8,99.6 L292.5,100.2 L293.1,100.0 L293.8,99.8 L294.4,100.1 L295.1,99.7 L295.7,100.2 L296.4,100.1 L297.1,100.2 L297.7,100.2 L298.4,100.0 L299.0,100.3 L299.7,100.5 L300.3,101.0 L301.0,100.3 L301.6,100.3 L302.3,100.5 L303.0,100.4 L303.6,100.6 L304.3,100.3 L304.9,100.7 L305.6,100.3 L306.2,100.4 L306.9,100.4 L307.5,100.9 L308.2,100.8 L308.8,100.2 L309.5,100.5 L310.2,100.4 L310.8,101.2 L311.5,100.6 L312.1,100.7 L312.8,100.6 L313.4,100.3 L314.1,100.7 L314.7,100.5 L315.4,100.7 L316.1,100.3 L316.7,100.8 L317.4,100.9 L318.0,100.7 L318.7,100.7 L319.3,100.8 L320.0,100.8 L320.6,100.6 L321.3,100.3 L322.0,100.2 L322.6,100.6 L323.3,100.4 L323.9,100.8 L324.6,100.5 L325.2,100.8 L325.9,101.0 L326.5,100.8 L327.2,100.4 L327.8,100.4 L328.5,100.9 L329.2,100.6 L329.8,100.3 L330.5,100.7 L331.1,100.6 L331.8,101.0 L332.4,101.0 L333.1,101.3 L333.7,101.7 L334.4,102.0 L335.1,102.7 L335.7,103.6 L336.4,105.1 L337.0,106.0 L337.7,107.0 L338.3,108.2 L339.0,108.5 L339.6,109.9 L340.3,111.0 L341.0,111.9 L341.6,112.5 L342.3,113.8 L342.9,113.8 L343.6,114.5 L344.2,115.0 L344.9,115.7 L345.5,116.2 L346.2,116.7 L346.8,117.0 L347.5,117.8 L348.2,118.2 L348.8,118.8 L349.5,119.3 L350.1,119.6 L350.8,119.9 L351.4,120.4 L352.1,120.3 L352.7,120.9 L353.4,121.2 L354.1,122.0 L354.7,122.0 L355.4,122.3 L356.0,122.5 L356.7,122.7 L357.3,123.1 L358.0,122.9 L358.6,123.7 L359.3,123.2 L360.0,123.5 L360.6,124.2 L361.3,124.0 L361.9,124.4 L362.6,124.6 L363.2,124.4 L363.9,125.1 L364.5,124.5 L365.2,125.2 L365.8,125.0 L366.5,125.4 L367.2,125.6 L367.8,125.4 L368.5,126.2 L369.1,126.0 L369.8,126.4 L370.4,126.2 L371.1,126.0 L371.7,126.1 L372.4,126.4 L373.1,126.0 L373.7,126.1 L374.4,126.2 L375.0,126.8 L375.7,126.6 L376.3,126.8 L377.0,126.9 L377.6,126.5 L378.3,126.9 L379.0,127.0 L379.6,127.1 L380.3,127.1 L380.9,126.5 L381.6,126.9 L382.2,127.4 L382.9,127.6 L383.5,127.3 L384.2,127.5 L384.8,127.6 L385.5,127.1 L386.2,127.1 L386.8,127.4 L387.5,127.3 L388.1,127.5 L388.8,127.4 L389.4,127.1 L390.1,127.3 L390.7,127.2 L391.4,128.2 L392.1,127.9 L392.7,127.6 L393.4,127.5 L394.0,127.9 L394.7,127.6 L395.3,127.3 L396.0,127.4 L396.6,127.7 L397.3,127.6 L398.0,127.5 L398.6,127.6 L399.3,127.8 L399.9,128.0 L400.6,127.9 L401.2,128.2 L401.9,127.7 L402.5,127.9 L403.2,127.9 L403.8,128.1 L404.5,128.2 L405.2,127.8 L405.8,128.0 L406.5,127.6 L407.1,128.2 L407.8,127.9 L408.4,128.2 L409.1,128.0 L409.7,128.3 L410.4,128.1 L411.1,127.8 L411.7,128.1 L412.4,128.2 L413.0,128.5 L413.7,127.9 L414.3,128.1 L415.0,128.1 L415.6,128.2 L416.3,127.8 L417.0,127.9 L417.6,128.4 L418.3,128.1 L418.9,127.9 L419.6,128.1 L420.2,127.8 L420.9,128.1 L421.5,128.0 L422.2,128.3 L422.9,128.0 L423.5,128.3 L424.2,128.3 L424.8,128.8 L425.5,129.5 L426.1,130.1 L426.8,131.3 L427.4,132.2 L428.1,133.1 L428.7,133.7 L429.4,134.9 L430.1,135.2 L430.7,136.7 L431.4,137.0 L432.0,137.9 L432.7,138.6 L433.3,138.4 L434.0,139.4 L434.6,140.3 L435.3,141.0 L436.0,140.8 L436.6,141.5 L437.3,142.4 L437.9,142.5 L438.6,143.0 L439.2,143.3 L439.9,143.9 L440.5,144.2 L441.2,144.8 L441.9,144.8 L442.5,145.1 L443.2,145.7 L443.8,145.4 L444.5,145.6 L445.1,145.8 L445.8,146.7 L446.4,146.3 L447.1,146.9 L447.7,146.9 L448.4,147.3 L449.1,147.5 L449.7,147.5 L450.4,147.9 L451.0,148.4 L451.7,148.4 L452.3,148.8 L453.0,148.7 L453.6,149.0 L454.3,149.1 L455.0,148.8 L455.6,149.0 L456.3,149.4 L456.9,149.1 L457.6,149.4 L458.2,149.6 L458.9,149.8 L459.5,149.4 L460.2,150.1 L460.9,149.6 L461.5,149.8 L462.2,150.0 L462.8,149.9 L463.5,150.4 L464.1,150.2 L464.8,150.4 L465.4,150.2 L466.1,150.3 L466.7,150.5 L467.4,150.2 L468.1,150.6 L468.7,151.1 L469.4,150.7 L470.0,150.7 L470.7,150.8 L471.3,151.0 L472.0,150.5 L472.6,150.2 L473.3,150.8 L474.0,150.8 L474.6,150.9 L475.3,150.9 L475.9,150.7 L476.6,151.0 L477.2,151.5 L477.9,150.9 L478.5,151.2 L479.2,150.8 L479.9,151.0 L480.5,151.2 L481.2,151.4 L481.8,151.2 L482.5,151.2 L483.1,151.4 L483.8,151.2 L484.4,151.7 L485.1,151.2 L485.7,151.5 L486.4,151.3 L487.1,151.6 L487.7,151.4 L488.4,151.2 L489.0,151.3 L489.7,150.9 L490.3,151.4 L491.0,151.4 L491.6,151.0 L492.3,151.2 L493.0,151.7 L493.6,151.4 L494.3,151.7 L494.9,151.2 L495.6,151.6 L496.2,151.4 L496.9,151.3 L497.5,151.5 L498.2,151.9 L498.9,151.3 L499.5,151.1 L500.2,151.6 L500.8,151.5 L501.5,151.8 L502.1,151.6 L502.8,151.9 L503.4,151.8 L504.1,151.3 L504.7,151.7 L505.4,151.7 L506.1,151.8 L506.7,151.7 L507.4,151.8 L508.0,151.3 L508.7,151.7 L509.3,151.6 L510.0,151.8 L510.6,152.2 L511.3,151.6 L512.0,151.7 L512.6,151.7 L513.3,151.5 L513.9,152.0 L514.6,152.0 L515.2,151.9 L515.9,151.5 L516.5,152.0 L517.2,151.7 L517.9,151.9 L518.5,151.6 L519.2,152.0 L519.8,151.8 L520.5,151.7 L520.8,151.8 L520.8,154.7 L520.5,154.7 L519.8,154.6 L519.2,155.0 L518.5,154.7 L517.9,154.3 L517.2,154.2 L516.5,154.4 L515.9,154.0 L515.2,154.8 L514.6,154.7 L513.9,155.0 L513.3,154.3 L512.6,154.4 L512.0,154.5 L511.3,154.5 L510.6,154.2 L510.0,154.6 L509.3,154.5 L508.7,154.0 L508.0,155.1 L507.4,154.3 L506.7,154.4 L506.1,154.7 L505.4,154.3 L504.7,154.8 L504.1,154.4 L503.4,154.4 L502.8,154.8 L502.1,154.1 L501.5,154.7 L500.8,154.4 L500.2,153.9 L499.5,154.6 L498.9,154.6 L498.2,155.0 L497.5,154.0 L496.9,154.5 L496.2,154.0 L495.6,154.8 L494.9,154.1 L494.3,154.5 L493.6,154.4 L493.0,154.3 L492.3,154.5 L491.6,154.8 L491.0,154.3 L490.3,154.0 L489.7,154.1 L489.0,154.2 L488.4,154.3 L487.7,154.2 L487.1,154.3 L486.4,154.3 L485.7,154.3 L485.1,154.1 L484.4,154.2 L483.8,154.6 L483.1,154.5 L482.5,154.7 L481.8,154.3 L481.2,154.6 L480.5,154.3 L479.9,153.7 L479.2,153.9 L478.5,154.1 L477.9,153.7 L477.2,154.4 L476.6,153.9 L475.9,153.7 L475.3,154.0 L474.6,153.9 L474.0,154.0 L473.3,154.0 L472.6,153.5 L472.0,153.8 L471.3,153.9 L470.7,153.7 L470.0,153.8 L469.4,153.1 L468.7,153.6 L468.1,153.2 L467.4,153.0 L466.7,153.1 L466.1,153.2 L465.4,153.4 L464.8,153.1 L464.1,153.1 L463.5,152.8 L462.8,153.0 L462.2,152.9 L461.5,152.7 L460.9,152.9 L460.2,152.9 L459.5,152.3 L458.9,152.3 L458.2,152.5 L457.6,152.4 L456.9,151.8 L456.3,152.0 L455.6,151.8 L455.0,151.6 L454.3,151.9 L453.6,151.8 L453.0,151.3 L452.3,151.6 L451.7,151.2 L451.0,151.4 L450.4,151.1 L449.7,151.0 L449.1,150.0 L448.4,150.2 L447.7,150.1 L447.1,149.6 L446.4,149.3 L445.8,149.3 L445.1,149.1 L444.5,149.0 L443.8,148.5 L443.2,148.5 L442.5,148.2 L441.9,147.2 L441.2,147.9 L440.5,146.8 L439.9,146.9 L439.2,146.6 L438.6,146.0 L437.9,145.6 L437.3,145.2 L436.6,145.0 L436.0,144.1 L435.3,143.9 L434.6,143.1 L434.0,142.6 L433.3,141.8 L432.7,141.5 L432.0,140.6 L431.4,140.4 L430.7,139.4 L430.1,138.7 L429.4,138.0 L428.7,137.0 L428.1,136.7 L427.4,135.2 L426.8,134.2 L426.1,133.2 L425.5,132.0 L424.8,131.9 L424.2,131.6 L423.5,131.3 L422.9,131.1 L422.2,131.6 L421.5,131.0 L420.9,131.3 L420.2,131.0 L419.6,130.6 L418.9,131.3 L418.3,131.2 L417.6,131.5 L417.0,131.2 L416.3,131.1 L415.6,131.0 L415.0,131.4 L414.3,131.3 L413.7,131.4 L413.0,131.0 L412.4,131.0 L411.7,131.6 L411.1,131.0 L410.4,130.9 L409.7,131.0 L409.1,131.0 L408.4,130.8 L407.8,131.0 L407.1,131.2 L406.5,130.5 L405.8,131.3 L405.2,131.0 L404.5,131.2 L403.8,131.2 L403.2,131.0 L402.5,131.1 L401.9,130.9 L401.2,131.3 L400.6,131.3 L399.9,131.0 L399.3,131.2 L398.6,131.1 L398.0,130.7 L397.3,130.8 L396.6,131.2 L396.0,131.0 L395.3,131.0 L394.7,130.8 L394.0,130.9 L393.4,130.6 L392.7,130.6 L392.1,130.6 L391.4,130.9 L390.7,130.5 L390.1,130.5 L389.4,130.3 L388.8,130.3 L388.1,130.4 L387.5,130.5 L386.8,130.8 L386.2,131.1 L385.5,130.7 L384.8,130.2 L384.2,130.4 L383.5,130.1 L382.9,130.3 L382.2,130.1 L381.6,130.3 L380.9,130.3 L380.3,130.1 L379.6,130.2 L379.0,130.2 L378.3,130.1 L377.6,129.8 L377.0,130.0 L376.3,130.0 L375.7,130.3 L375.0,129.6 L374.4,129.1 L373.7,129.5 L373.1,129.6 L372.4,129.4 L371.7,129.5 L371.1,128.9 L370.4,129.4 L369.8,129.3 L369.1,128.5 L368.5,128.9 L367.8,128.4 L367.2,128.7 L366.5,128.2 L365.8,128.2 L365.2,128.3 L364.5,128.0 L363.9,128.4 L363.2,127.9 L362.6,127.9 L361.9,127.5 L361.3,127.4 L360.6,127.5 L360.0,126.7 L359.3,126.9 L358.6,126.6 L358.0,126.6 L357.3,126.2 L356.7,126.0 L356.0,125.8 L355.4,125.7 L354.7,124.9 L354.1,124.8 L353.4,124.3 L352.7,124.2 L352.1,123.7 L351.4,123.5 L350.8,122.9 L350.1,122.8 L349.5,122.1 L348.8,122.6 L348.2,121.8 L347.5,120.9 L346.8,120.4 L346.2,120.3 L345.5,119.6 L344.9,118.9 L344.2,118.6 L343.6,117.9 L342.9,117.4 L342.3,116.8 L341.6,115.4 L341.0,115.1 L340.3,114.5 L339.6,113.4 L339.0,112.1 L338.3,111.5 L337.7,110.6 L337.0,109.4 L336.4,108.7 L335.7,107.5 L335.1,106.2 L334.4,105.4 L333.7,105.0 L333.1,104.4 L332.4,104.2 L331.8,104.6 L331.1,104.0 L330.5,104.0 L329.8,104.2 L329.2,104.3 L328.5,104.1 L327.8,104.0 L327.2,103.9 L326.5,104.3 L325.9,104.0 L325.2,104.1 L324.6,103.9 L323.9,104.0 L323.3,104.2 L322.6,104.1 L322.0,104.2 L321.3,104.4 L320.6,104.5 L320.0,104.0 L319.3,103.8 L318.7,104.2 L318.0,104.1 L317.4,104.2 L316.7,104.1 L316.1,103.7 L315.4,104.2 L314.7,103.6 L314.1,104.2 L313.4,104.0 L312.8,104.0 L312.1,103.9 L311.5,104.1 L310.8,104.1 L310.2,103.3 L309.5,103.7 L308.8,104.0 L308.2,103.6 L307.5,103.9 L306.9,103.9 L306.2,104.6 L305.6,103.7 L304.9,104.0 L304.3,103.8 L303.6,103.9 L303.0,104.0 L302.3,103.6 L301.6,104.0 L301.0,103.9 L300.3,103.7 L299.7,103.7 L299.0,103.6 L298.4,103.8 L297.7,103.6 L297.1,103.6 L296.4,103.4 L295.7,103.6 L295.1,103.5 L294.4,103.3 L293.8,103.7 L293.1,103.7 L292.5,103.4 L291.8,103.6 L291.2,103.7 L290.5,103.1 L289.8,103.5 L289.2,103.2 L288.5,103.3 L287.9,102.7 L287.2,103.4 L286.6,102.9 L285.9,102.8 L285.3,103.0 L284.6,103.2 L284.0,102.8 L283.3,102.9 L282.6,102.9 L282.0,102.3 L281.3,102.5 L280.7,102.5 L280.0,102.5 L279.4,102.5 L278.7,102.4 L278.1,102.1 L277.4,102.4 L276.7,101.8 L276.1,101.6 L275.4,101.9 L274.8,101.6 L274.1,101.4 L273.5,101.4 L272.8,101.4 L272.2,100.9 L271.5,101.3 L270.8,100.9 L270.2,100.6 L269.5,100.6 L268.9,99.9 L268.2,99.7 L267.6,100.0 L266.9,99.6 L266.3,99.2 L265.6,99.4 L265.0,98.8 L264.3,99.1 L263.6,98.4 L263.0,97.9 L262.3,97.7 L261.7,97.3 L261.0,97.1 L260.4,96.1 L259.7,96.6 L259.1,96.1 L258.4,95.5 L257.7,95.4 L257.1,94.8 L256.4,93.8 L255.8,93.8 L255.1,93.4 L254.5,92.5 L253.8,91.6 L253.2,91.5 L252.5,90.5 L251.8,89.7 L251.2,89.1 L250.5,88.2 L249.9,87.6 L249.2,86.3 L248.6,85.8 L247.9,84.9 L247.3,83.7 L246.6,82.9 L246.0,81.6 L245.3,80.4 L244.6,79.5 L244.0,78.4 L243.3,77.6 L242.7,77.4 L242.0,77.1 L241.4,77.0 L240.7,76.8 L240.1,76.8 L239.4,76.9 L238.7,76.8 L238.1,76.8 L237.4,76.9 L236.8,77.1 L236.1,77.3 L235.5,76.8 L234.8,77.1 L234.2,76.7 L233.5,76.6 L232.8,76.9 L232.2,76.9 L231.5,77.2 L230.9,77.0 L230.2,76.6 L229.6,77.0 L228.9,76.7 L228.3,76.6 L227.6,76.9 L227.0,76.6 L226.3,76.3 L225.6,76.8 L225.0,76.7 L224.3,76.9 L223.7,76.6 L223.0,76.9 L222.4,76.6 L221.7,76.6 L221.1,77.1 L220.4,76.4 L219.7,76.5 L219.1,77.0 L218.4,76.8 L217.8,76.8 L217.1,76.4 L216.5,76.9 L215.8,76.3 L215.2,76.5 L214.5,76.3 L213.8,76.5 L213.2,76.4 L212.5,76.6 L211.9,76.8 L211.2,76.5 L210.6,76.7 L209.9,76.6 L209.3,76.3 L208.6,76.7 L208.0,76.9 L207.3,76.5 L206.6,75.8 L206.0,76.3 L205.3,76.4 L204.7,76.2 L204.0,76.4 L203.4,76.4 L202.7,76.2 L202.1,76.3 L201.4,76.5 L200.7,76.0 L200.1,76.5 L199.4,76.4 L198.8,76.1 L198.1,75.7 L197.5,75.9 L196.8,76.1 L196.2,76.1 L195.5,75.9 L194.8,75.9 L194.2,75.7 L193.5,75.6 L192.9,75.5 L192.2,75.8 L191.6,75.5 L190.9,75.1 L190.3,74.9 L189.6,75.2 L189.0,75.4 L188.3,75.3 L187.6,75.3 L187.0,74.8 L186.3,74.6 L185.7,74.7 L185.0,74.6 L184.4,74.6 L183.7,74.4 L183.1,74.3 L182.4,73.8 L181.7,73.5 L181.1,73.8 L180.4,73.7 L179.8,73.3 L179.1,73.1 L178.5,72.9 L177.8,73.1 L177.2,72.5 L176.5,72.5 L175.8,72.5 L175.2,72.3 L174.5,71.8 L173.9,71.4 L173.2,71.3 L172.6,70.8 L171.9,70.8 L171.3,70.2 L170.6,70.1 L169.9,69.6 L169.3,69.4 L168.6,69.0 L168.0,68.3 L167.3,68.1 L166.7,67.6 L166.0,66.9 L165.4,66.7 L164.7,65.9 L164.1,65.3 L163.4,65.0 L162.7,64.7 L162.1,63.6 L161.4,63.1 L160.8,62.5 L160.1,61.7 L159.5,60.7 L158.8,59.9 L158.2,59.1 L157.5,58.2 L156.8,57.0 L156.2,56.1 L155.5,55.2 L154.9,53.7 L154.2,53.0 L153.6,51.4 L152.9,50.3 L152.3,49.2 L151.6,48.3 L150.9,47.2 L150.3,47.0 L149.6,47.0 L149.0,47.1 L148.3,47.2 L147.7,47.0 L147.0,47.0 L146.4,47.5 L145.7,47.3 L145.1,47.2 L144.4,47.1 L143.7,47.1 L143.1,47.1 L142.4,47.6 L141.8,47.2 L141.1,47.2 L140.5,47.2 L139.8,47.2 L139.2,47.3 L138.5,47.3 L137.8,47.5 L137.2,47.2 L136.5,47.4 L135.9,47.5 L135.2,46.9 L134.6,47.4 L133.9,46.9 L133.3,47.2 L132.6,47.5 L131.9,46.9 L131.3,46.9 L130.6,47.4 L130.0,47.2 L129.3,47.2 L128.7,47.4 L128.0,46.5 L127.4,47.2 L126.7,47.2 L126.1,46.9 L125.4,47.5 L124.7,46.7 L124.1,47.0 L123.4,46.8 L122.8,46.9 L122.1,46.5 L121.5,46.5 L120.8,46.9 L120.2,46.8 L119.5,46.7 L118.8,46.9 L118.2,46.8 L117.5,47.1 L116.9,46.6 L116.2,46.8 L115.6,47.0 L114.9,46.9 L114.3,47.2 L113.6,46.2 L112.9,46.7 L112.3,46.2 L111.6,46.4 L111.0,46.5 L110.3,46.5 L109.7,46.1 L109.0,46.4 L108.4,46.7 L107.7,46.4 L107.1,46.4 L106.4,46.3 L105.7,46.8 L105.1,46.2 L104.4,46.0 L103.8,46.0 L103.1,46.1 L102.5,46.4 L101.8,46.1 L101.2,45.9 L100.5,45.7 L99.8,45.8 L99.2,45.6 L98.5,46.1 L97.9,45.3 L97.2,45.5 L96.6,45.1 L95.9,45.3 L95.3,45.1 L94.6,45.0 L93.9,44.7 L93.3,44.7 L92.6,44.2 L92.0,44.2 L91.3,44.5 L90.7,44.2 L90.0,44.0 L89.4,43.5 L88.7,42.8 L88.1,42.9 L87.4,42.6 L86.7,42.7 L86.1,42.4 L85.4,42.4 L84.8,41.7 L84.1,41.8 L83.5,41.0 L82.8,40.8 L82.2,40.5 L81.5,40.7 L80.8,39.6 L80.2,39.4 L79.5,39.1 L78.9,38.4 L78.2,38.3 L77.6,37.8 L76.9,37.4 L76.3,36.8 L75.6,35.8 L74.9,35.5 L74.3,34.6 L73.6,34.9 L73.0,33.9 L72.3,32.8 L71.7,32.6 L71.0,32.0 L70.4,31.1 L69.7,30.4 L69.1,30.4 L68.4,29.2 L67.7,28.5 L67.1,27.9 L66.4,27.0 L65.8,25.9 L65.1,25.2 L64.5,24.0 L63.8,23.2 L63.2,22.2 L62.5,21.6Z" fill="#d95319" stroke="#d95319" stroke-width="2.0" stroke-linejoin="round"/>
</g>
<path d="M140.5,162.5v-4.6M140.5,10.5v4.6M217.5,162.5v-4.6M217.5,10.5v4.6M294.5,162.5v-4.6M294.5,10.5v4.6M372.5,162.5v-4.6M372.5,10.5v4.6M450.5,162.5v-4.6M450.5,10.5v4.6M62.5,40.5h4.6M527.5,40.5h-4.6M62.5,71.5h4.6M527.5,71.5h-4.6M62.5,101.5h4.6M527.5,101.5h-4.6M62.5,132.5h4.6M527.5,132.5h-4.6" stroke="#262626" stroke-width="0.85" fill="none"/>
<rect x="62.5" y="10.5" width="465.0" height="152.0" fill="none" stroke="#262626" stroke-width="0.85"/>
<text class="tk" x="58.2" y="14.9" text-anchor="end">-0.405</text>
<text class="tk" x="58.2" y="44.9" text-anchor="end">-0.41</text>
<text class="tk" x="58.2" y="75.9" text-anchor="end">-0.415</text>
<text class="tk" x="58.2" y="105.9" text-anchor="end">-0.42</text>
<text class="tk" x="58.2" y="136.9" text-anchor="end">-0.425</text>
<text class="tk" x="58.2" y="166.9" text-anchor="end">-0.43</text>
<text class="tk" x="62.5" y="179.5" text-anchor="middle">0</text>
<text class="tk" x="140.0" y="179.5" text-anchor="middle">2000</text>
<text class="tk" x="217.5" y="179.5" text-anchor="middle">4000</text>
<text class="tk" x="295.0" y="179.5" text-anchor="middle">6000</text>
<text class="tk" x="372.5" y="179.5" text-anchor="middle">8000</text>
<text class="tk" x="450.0" y="179.5" text-anchor="middle">10,000</text>
<text class="tk" x="527.5" y="179.5" text-anchor="middle">12,000</text>
<rect x="391.5" y="10.3" width="136.2" height="33" fill="#fff" stroke="#262626" stroke-width="0.85"/>
<path d="M396,19.8H439.5" stroke="#0072bd" stroke-width="3.1"/>
<path d="M396,34.3H439.5" stroke="#d95319" stroke-width="3.1"/>
<text class="lg" x="442.5" y="23.6">true value</text>
<text class="lg" x="442.5" y="38.2">predictive value</text>
<text class="lb" x="295" y="197.5" text-anchor="middle">time(s)</text>
<text class="lb" transform="translate(15.0,86.6) rotate(-90) scale(1,0.93)" text-anchor="middle">drift component(g)</text>
<path d="M140.5,223.5V375.5M217.5,223.5V375.5M294.5,223.5V375.5M372.5,223.5V375.5M450.5,223.5V375.5M62.5,253.5H527.5M62.5,284.5H527.5M62.5,314.5H527.5M62.5,345.5H527.5" stroke="#e6e6e6" stroke-width="1" fill="none"/>
<path d="M62.5,262.8 L62.6,264.7 L62.6,262.7 L62.7,271.7 L62.7,264.3 L62.8,258.6 L62.8,262.2 L62.9,261.6 L62.9,259.8 L63.0,274.9 L63.0,257.8 L63.1,257.8 L63.1,265.3 L63.2,254.8 L63.2,253.6 L63.3,268.1 L63.3,276.8 L63.4,273.8 L63.4,256.7 L63.5,256.1 L63.5,266.4 L63.6,257.6 L63.6,253.5 L63.7,258.2 L63.7,266.7 L63.8,259.9 L63.8,261.3 L63.9,262.0 L63.9,256.5 L64.0,263.9 L64.0,255.7 L64.1,265.9 L64.1,260.1 L64.2,267.0 L64.2,274.9 L64.3,266.0 L64.3,256.6 L64.4,272.7 L64.4,257.3 L64.5,265.1 L64.5,266.6 L64.6,265.3 L64.6,270.4 L64.7,286.1 L64.7,267.5 L64.8,258.6 L64.8,268.9 L64.9,277.7 L64.9,266.8 L65.0,259.8 L65.0,274.5 L65.1,285.3 L65.1,279.3 L65.2,270.7 L65.2,284.6 L65.3,284.0 L65.4,289.0 L65.4,289.4 L65.5,280.4 L65.5,276.6 L65.6,283.3 L65.6,284.8 L65.7,275.7 L65.7,269.4 L65.8,284.5 L65.8,270.2 L65.9,264.4 L65.9,270.7 L66.0,284.6 L66.0,292.8 L66.1,278.5 L66.1,285.4 L66.2,281.9 L66.2,280.7 L66.3,281.8 L66.3,286.1 L66.4,276.6 L66.4,267.5 L66.5,292.8 L66.5,283.0 L66.6,269.4 L66.6,285.0 L66.7,280.8 L66.7,279.9 L66.8,271.7 L66.8,271.1 L66.9,287.8 L66.9,279.4 L67.0,293.8 L67.0,279.3 L67.1,272.0 L67.1,285.5 L67.2,276.6 L67.2,283.1 L67.3,271.2 L67.3,288.6 L67.4,274.4 L67.4,278.2 L67.5,279.3 L67.5,282.1 L67.6,291.0 L67.6,301.5 L67.7,279.7 L67.7,280.1 L67.8,287.7 L67.8,279.1 L67.9,277.3 L67.9,294.8 L68.0,288.1 L68.0,281.4 L68.1,277.1 L68.1,283.3 L68.2,281.9 L68.3,279.6 L68.3,296.5 L68.4,296.1 L68.4,280.7 L68.5,287.3 L68.5,284.7 L68.6,285.1 L68.6,290.1 L68.7,277.7 L68.7,292.2 L68.8,296.5 L68.8,295.7 L68.9,295.9 L68.9,307.5 L69.0,284.3 L69.0,279.8 L69.1,280.0 L69.1,281.6 L69.2,279.7 L69.2,298.1 L69.3,291.0 L69.3,285.6 L69.4,283.9 L69.4,279.1 L69.5,280.2 L69.5,292.9 L69.6,289.5 L69.6,286.1 L69.7,278.0 L69.7,310.9 L69.8,296.4 L69.8,293.3 L69.9,291.1 L69.9,282.2 L70.0,293.9 L70.0,308.7 L70.1,287.7 L70.1,289.5 L70.2,298.5 L70.2,285.8 L70.3,294.6 L70.3,310.0 L70.4,300.0 L70.4,301.8 L70.5,300.6 L70.5,286.4 L70.6,299.3 L70.6,295.7 L70.7,309.1 L70.7,284.1 L70.8,296.1 L70.8,292.8 L70.9,299.6 L70.9,297.1 L71.0,308.8 L71.1,315.8 L71.1,288.1 L71.2,288.2 L71.2,300.1 L71.3,306.2 L71.3,302.2 L71.4,308.0 L71.4,320.5 L71.5,316.8 L71.5,310.7 L71.6,316.2 L71.6,293.8 L71.7,292.1 L71.7,295.3 L71.8,305.8 L71.8,324.4 L71.9,319.9 L71.9,320.2 L72.0,304.3 L72.0,306.3 L72.1,298.5 L72.1,302.9 L72.2,295.9 L72.2,292.4 L72.3,294.0 L72.3,290.4 L72.4,311.1 L72.4,312.5 L72.5,293.8 L72.5,310.0 L72.6,319.4 L72.6,309.0 L72.7,305.7 L72.7,321.5 L72.8,300.8 L72.8,301.0 L72.9,312.8 L72.9,298.7 L73.0,325.4 L73.0,315.7 L73.1,298.5 L73.1,294.1 L73.2,297.7 L73.2,311.1 L73.3,329.5 L73.3,312.9 L73.4,328.3 L73.4,320.6 L73.5,298.5 L73.5,295.8 L73.6,288.1 L73.6,312.4 L73.7,302.9 L73.7,298.0 L73.8,295.1 L73.8,314.3 L73.9,306.5 L74.0,305.9 L74.0,288.8 L74.1,296.0 L74.1,289.3 L74.2,313.4 L74.2,311.5 L74.3,297.8 L74.3,292.8 L74.4,318.7 L74.4,289.9 L74.5,318.5 L74.5,307.4 L74.6,297.9 L74.6,304.9 L74.7,327.5 L74.7,291.6 L74.8,291.3 L74.8,318.7 L74.9,293.4 L74.9,300.3 L75.0,312.0 L75.0,307.6 L75.1,301.1 L75.1,302.7 L75.2,307.5 L75.2,314.9 L75.3,318.8 L75.3,292.8 L75.4,298.5 L75.4,315.8 L75.5,314.9 L75.5,325.8 L75.6,315.1 L75.6,296.2 L75.7,312.2 L75.7,307.9 L75.8,320.2 L75.8,323.5 L75.9,307.6 L75.9,316.6 L76.0,314.1 L76.0,315.0 L76.1,305.9 L76.1,315.1 L76.2,298.7 L76.2,298.9 L76.3,303.5 L76.3,304.0 L76.4,337.5 L76.4,337.0 L76.5,336.3 L76.5,317.0 L76.6,318.2 L76.6,320.8 L76.7,302.9 L76.8,310.9 L76.8,307.7 L76.9,307.6 L76.9,326.3 L77.0,307.1 L77.0,320.6 L77.1,302.5 L77.1,303.7 L77.2,320.2 L77.2,305.2 L77.3,331.2 L77.3,309.2 L77.4,315.4 L77.4,319.8 L77.5,314.0 L77.5,304.1 L77.6,318.8 L77.6,307.0 L77.7,301.6 L77.7,300.4 L77.8,319.7 L77.8,312.5 L77.9,306.3 L77.9,302.2 L78.0,323.5 L78.0,319.0 L78.1,318.4 L78.1,310.3 L78.2,305.5 L78.2,310.0 L78.3,317.1 L78.3,316.1 L78.4,303.9 L78.4,337.0 L78.5,314.8 L78.5,334.3 L78.6,316.1 L78.6,313.6 L78.7,298.9 L78.7,306.6 L78.8,317.5 L78.8,333.2 L78.9,324.5 L78.9,317.3 L79.0,328.3 L79.0,311.3 L79.1,323.1 L79.1,304.7 L79.2,320.2 L79.2,314.5 L79.3,303.7 L79.3,321.4 L79.4,306.3 L79.4,330.5 L79.5,301.8 L79.5,309.4 L79.6,321.0 L79.7,323.7 L79.7,322.8 L79.8,312.8 L79.8,319.1 L79.9,309.1 L79.9,313.3 L80.0,314.4 L80.0,313.1 L80.1,307.9 L80.1,323.6 L80.2,318.5 L80.2,311.5 L80.3,310.9 L80.3,306.6 L80.4,315.0 L80.4,312.2 L80.5,324.9 L80.5,307.1 L80.6,309.4 L80.6,342.0 L80.7,310.6 L80.7,311.8 L80.8,325.5 L80.8,309.5 L80.9,308.3 L80.9,312.1 L81.0,313.3 L81.0,315.8 L81.1,321.4 L81.1,308.1 L81.2,309.5 L81.2,325.8 L81.3,303.2 L81.3,333.9 L81.4,318.4 L81.4,324.1 L81.5,310.5 L81.5,316.4 L81.6,323.6 L81.6,338.9 L81.7,304.0 L81.7,314.1 L81.8,318.3 L81.8,319.4 L81.9,330.6 L81.9,320.5 L82.0,323.4 L82.0,309.9 L82.1,307.3 L82.1,317.7 L82.2,317.5 L82.2,316.1 L82.3,325.8 L82.3,306.7 L82.4,320.0 L82.5,325.5 L82.5,325.0 L82.6,323.6 L82.6,312.4 L82.7,312.0 L82.7,304.9 L82.8,341.7 L82.8,309.4 L82.9,308.9 L82.9,334.1 L83.0,346.8 L83.0,322.3 L83.1,330.1 L83.1,311.0 L83.2,318.3 L83.2,328.4 L83.3,313.6 L83.3,329.8 L83.4,325.9 L83.4,306.8 L83.5,328.4 L83.5,319.6 L83.6,328.8 L83.6,331.6 L83.7,322.8 L83.7,324.7 L83.8,314.1 L83.8,313.0 L83.9,318.7 L83.9,316.2 L84.0,320.2 L84.0,307.2 L84.1,346.6 L84.1,307.2 L84.2,314.1 L84.2,311.7 L84.3,339.7 L84.3,332.0 L84.4,331.6 L84.4,334.6 L84.5,336.4 L84.5,330.6 L84.6,312.2 L84.6,309.8 L84.7,312.6 L84.7,309.7 L84.8,311.8 L84.8,337.5 L84.9,328.4 L84.9,325.9 L85.0,348.5 L85.0,310.5 L85.1,324.1 L85.1,323.3 L85.2,327.3 L85.2,321.5 L85.3,333.7 L85.4,336.3 L85.4,337.6 L85.5,315.4 L85.5,331.7 L85.6,311.5 L85.6,324.6 L85.7,318.0 L85.7,318.3 L85.8,320.9 L85.8,316.1 L85.9,324.9 L85.9,322.3 L86.0,319.7 L86.0,345.9 L86.1,321.7 L86.1,324.7 L86.2,312.1 L86.2,311.1 L86.3,311.9 L86.3,317.0 L86.4,319.3 L86.4,317.2 L86.5,324.8 L86.5,322.7 L86.6,332.4 L86.6,319.6 L86.7,329.9 L86.7,309.1 L86.8,318.7 L86.8,316.2 L86.9,329.8 L86.9,315.2 L87.0,317.9 L87.0,343.3 L87.1,318.1 L87.1,312.1 L87.2,313.1 L87.2,319.6 L87.3,316.5 L87.3,320.5 L87.4,313.0 L87.4,329.2 L87.5,315.0 L87.5,316.2 L87.6,321.9 L87.6,327.1 L87.7,327.4 L87.7,320.3 L87.8,326.7 L87.8,322.8 L87.9,316.4 L87.9,332.9 L88.0,316.0 L88.0,326.0 L88.1,321.9 L88.2,321.1 L88.2,317.5 L88.3,325.8 L88.3,333.7 L88.4,350.4 L88.4,310.5 L88.5,312.5 L88.5,317.0 L88.6,317.1 L88.6,319.4 L88.7,323.9 L88.7,315.7 L88.8,313.6 L88.8,324.0 L88.9,326.3 L88.9,330.5 L89.0,322.2 L89.0,313.0 L89.1,319.3 L89.1,326.5 L89.2,320.5 L89.2,338.2 L89.3,332.6 L89.3,330.2 L89.4,317.6 L89.4,343.7 L89.5,322.0 L89.5,317.0 L89.6,323.1 L89.6,327.9 L89.7,318.0 L89.7,320.6 L89.8,312.5 L89.8,324.4 L89.9,313.5 L89.9,320.1 L90.0,315.6 L90.0,331.1 L90.1,322.8 L90.1,341.8 L90.2,319.5 L90.2,315.1 L90.3,331.9 L90.3,331.9 L90.4,325.2 L90.4,316.1 L90.5,314.5 L90.5,348.1 L90.6,324.3 L90.6,320.4 L90.7,325.2 L90.7,314.3 L90.8,317.7 L90.8,334.1 L90.9,322.9 L91.0,322.5 L91.0,333.9 L91.1,322.1 L91.1,313.9 L91.2,327.3 L91.2,323.6 L91.3,319.1 L91.3,324.8 L91.4,319.7 L91.4,328.1 L91.5,351.0 L91.5,315.1 L91.6,329.0 L91.6,331.2 L91.7,327.7 L91.7,324.9 L91.8,319.1 L91.8,345.4 L91.9,311.0 L91.9,312.3 L92.0,327.6 L92.0,344.9 L92.1,314.7 L92.1,319.0 L92.2,314.1 L92.2,326.5 L92.3,325.0 L92.3,323.6 L92.4,315.9 L92.4,339.2 L92.5,329.3 L92.5,322.0 L92.6,321.1 L92.6,324.0 L92.7,320.5 L92.7,322.7 L92.8,326.8 L92.8,315.8 L92.9,314.4 L92.9,354.9 L93.0,320.2 L93.0,331.4 L93.1,323.2 L93.1,324.6 L93.2,321.6 L93.2,348.3 L93.3,332.9 L93.3,316.1 L93.4,320.2 L93.4,323.3 L93.5,330.2 L93.5,321.4 L93.6,318.6 L93.6,313.0 L93.7,332.5 L93.7,323.1 L93.8,321.8 L93.9,341.4 L93.9,334.8 L94.0,329.5 L94.0,319.8 L94.1,341.6 L94.1,317.5 L94.2,333.2 L94.2,312.0 L94.3,328.5 L94.3,332.4 L94.4,316.3 L94.4,319.2 L94.5,350.8 L94.5,337.7 L94.6,324.2 L94.6,321.6 L94.7,316.5 L94.7,323.0 L94.8,317.8 L94.8,333.4 L94.9,351.3 L94.9,322.1 L95.0,315.7 L95.0,321.8 L95.1,333.7 L95.1,326.9 L95.2,323.6 L95.2,321.8 L95.3,318.2 L95.3,317.0 L95.4,322.2 L95.4,340.7 L95.5,332.3 L95.5,353.2 L95.6,320.6 L95.6,344.6 L95.7,318.0 L95.7,319.0 L95.8,317.6 L95.8,321.4 L95.9,314.7 L95.9,330.6 L96.0,331.9 L96.0,311.5 L96.1,319.7 L96.1,317.2 L96.2,326.4 L96.2,332.4 L96.3,330.9 L96.3,313.3 L96.4,330.4 L96.4,321.9 L96.5,347.5 L96.5,319.4 L96.6,323.6 L96.7,320.9 L96.7,325.2 L96.8,315.1 L96.8,334.9 L96.9,310.4 L96.9,329.4 L97.0,325.0 L97.0,314.1 L97.1,332.1 L97.1,316.7 L97.2,324.0 L97.2,320.1 L97.3,323.8 L97.3,315.1 L97.4,317.1 L97.4,316.6 L97.5,320.2 L97.5,335.8 L97.6,319.7 L97.6,319.5 L97.7,341.3 L97.7,327.3 L97.8,320.8 L97.8,323.7 L97.9,323.2 L97.9,322.9 L98.0,329.5 L98.0,330.5 L98.1,313.3 L98.1,320.4 L98.2,331.3 L98.2,316.5 L98.3,346.4 L98.3,309.8 L98.4,324.5 L98.4,327.9 L98.5,351.4 L98.5,317.4 L98.6,325.2 L98.6,327.0 L98.7,315.1 L98.7,310.6 L98.8,314.0 L98.8,321.3 L98.9,319.7 L98.9,315.9 L99.0,326.1 L99.0,326.7 L99.1,326.5 L99.1,326.7 L99.2,327.5 L99.2,324.6 L99.3,332.5 L99.3,325.4 L99.4,324.5 L99.4,346.7 L99.5,319.0 L99.6,332.4 L99.6,326.1 L99.7,321.3 L99.7,320.3 L99.8,321.3 L99.8,333.8 L99.9,321.0 L99.9,316.9 L100.0,331.6 L100.0,318.4 L100.1,321.9 L100.1,321.6 L100.2,318.0 L100.2,313.0 L100.3,330.5 L100.3,332.2 L100.4,314.8 L100.4,321.9 L100.5,330.9 L100.5,314.2 L100.6,314.5 L100.6,330.6 L100.7,328.3 L100.7,314.2 L100.8,327.6 L100.8,321.5 L100.9,325.1 L100.9,316.7 L101.0,320.4 L101.0,348.4 L101.1,311.6 L101.1,320.7 L101.2,329.5 L101.2,324.6 L101.3,322.5 L101.3,314.3 L101.4,326.6 L101.4,318.1 L101.5,319.3 L101.5,318.2 L101.6,312.6 L101.6,329.8 L101.7,323.7 L101.7,328.4 L101.8,331.2 L101.8,326.8 L101.9,316.0 L101.9,317.8 L102.0,314.5 L102.0,329.7 L102.1,317.7 L102.1,329.9 L102.2,348.3 L102.2,331.1 L102.3,315.6 L102.4,329.2 L102.4,332.2 L102.5,323.9 L102.5,321.1 L102.6,326.1 L102.6,332.8 L102.7,317.2 L102.7,327.4 L102.8,322.8 L102.8,332.3 L102.9,318.5 L102.9,315.4 L103.0,325.4 L103.0,326.6 L103.1,324.4 L103.1,322.7 L103.2,319.2 L103.2,328.0 L103.3,324.0 L103.3,333.0 L103.4,318.1 L103.4,316.4 L103.5,328.1 L103.5,330.2 L103.6,327.5 L103.6,323.9 L103.7,317.0 L103.7,314.5 L103.8,323.5 L103.8,332.4 L103.9,318.4 L103.9,328.1 L104.0,329.7 L104.0,330.6 L104.1,328.3 L104.1,326.3 L104.2,327.8 L104.2,350.2 L104.3,324.4 L104.3,331.2 L104.4,329.6 L104.4,316.0 L104.5,320.7 L104.5,318.8 L104.6,313.9 L104.6,314.9 L104.7,322.2 L104.7,318.2 L104.8,332.7 L104.8,319.4 L104.9,350.3 L104.9,339.1 L105.0,327.6 L105.0,333.1 L105.1,329.0 L105.1,312.0 L105.2,315.7 L105.3,316.9 L105.3,320.5 L105.4,323.0 L105.4,318.2 L105.5,315.7 L105.5,324.6 L105.6,337.0 L105.6,322.9 L105.7,318.1 L105.7,319.3 L105.8,318.0 L105.8,314.9 L105.9,326.7 L105.9,327.6 L106.0,332.8 L106.0,322.1 L106.1,317.3 L106.1,317.0 L106.2,324.1 L106.2,329.4 L106.3,316.0 L106.3,329.7 L106.4,318.4 L106.4,343.7 L106.5,352.5 L106.5,327.1 L106.6,315.3 L106.6,350.4 L106.7,332.6 L106.7,322.8 L106.8,332.7 L106.8,319.8 L106.9,328.8 L106.9,333.7 L107.0,349.1 L107.0,332.7 L107.1,332.5 L107.1,332.2 L107.2,354.2 L107.2,315.4 L107.3,320.1 L107.3,312.5 L107.4,320.5 L107.4,327.7 L107.5,326.4 L107.5,318.5 L107.6,333.4 L107.6,330.5 L107.7,326.1 L107.7,328.1 L107.8,329.7 L107.8,311.9 L107.9,327.8 L107.9,346.1 L108.0,318.5 L108.1,316.1 L108.1,325.0 L108.2,330.3 L108.2,331.3 L108.3,329.9 L108.3,355.0 L108.4,334.6 L108.4,323.8 L108.5,330.1 L108.5,320.7 L108.6,322.7 L108.6,328.7 L108.7,332.5 L108.7,331.3 L108.8,335.9 L108.8,319.2 L108.9,321.3 L108.9,322.8 L109.0,315.4 L109.0,335.7 L109.1,327.8 L109.1,319.4 L109.2,325.0 L109.2,326.3 L109.3,331.6 L109.3,332.7 L109.4,321.4 L109.4,324.2 L109.5,357.2 L109.5,327.0 L109.6,329.6 L109.6,337.3 L109.7,327.0 L109.7,320.1 L109.8,328.2 L109.8,322.2 L109.9,322.3 L109.9,324.3 L110.0,342.2 L110.0,322.3 L110.1,334.1 L110.1,319.3 L110.2,358.2 L110.2,331.2 L110.3,323.9 L110.3,319.7 L110.4,323.9 L110.4,336.7 L110.5,326.2 L110.5,326.0 L110.6,321.0 L110.6,331.2 L110.7,323.8 L110.7,324.0 L110.8,320.1 L110.8,321.3 L110.9,321.6 L111.0,337.6 L111.0,330.0 L111.1,337.2 L111.1,324.9 L111.2,348.8 L111.2,336.5 L111.3,333.5 L111.3,330.7 L111.4,332.0 L111.4,318.7 L111.5,337.2 L111.5,336.8 L111.6,332.4 L111.6,338.3 L111.7,325.0 L111.7,324.6 L111.8,322.8 L111.8,319.3 L111.9,344.2 L111.9,327.5 L112.0,327.2 L112.0,323.3 L112.1,343.7 L112.1,337.4 L112.2,324.6 L112.2,335.9 L112.3,323.8 L112.3,328.8 L112.4,330.6 L112.4,321.9 L112.5,335.4 L112.5,322.4 L112.6,326.0 L112.6,330.4 L112.7,336.9 L112.7,336.3 L112.8,326.5 L112.8,331.6 L112.9,324.7 L112.9,326.8 L113.0,325.6 L113.0,328.9 L113.1,326.3 L113.1,337.1 L113.2,316.3 L113.2,334.3 L113.3,351.3 L113.3,334.7 L113.4,316.7 L113.4,316.1 L113.5,326.4 L113.5,329.7 L113.6,333.3 L113.6,327.8 L113.7,333.0 L113.8,333.1 L113.8,356.2 L113.9,323.4 L113.9,325.9 L114.0,335.2 L114.0,326.2 L114.1,329.9 L114.1,322.9 L114.2,329.4 L114.2,337.0 L114.3,332.5 L114.3,336.7 L114.4,335.8 L114.4,356.4 L114.5,322.6 L114.5,318.8 L114.6,337.9 L114.6,333.0 L114.7,320.6 L114.7,335.0 L114.8,330.4 L114.8,324.0 L114.9,328.5 L114.9,334.9 L115.0,332.2 L115.0,332.3 L115.1,326.2 L115.1,359.2 L115.2,326.5 L115.2,334.2 L115.3,332.7 L115.3,323.7 L115.4,332.7 L115.4,350.5 L115.5,337.2 L115.5,342.2 L115.6,334.7 L115.6,334.8 L115.7,326.4 L115.7,321.0 L115.8,325.3 L115.8,339.4 L115.9,322.7 L115.9,340.1 L116.0,335.0 L116.0,335.7 L116.1,322.2 L116.1,339.7 L116.2,337.7 L116.2,332.1 L116.3,331.7 L116.3,355.1 L116.4,326.1 L116.4,333.7 L116.5,356.8 L116.6,334.9 L116.6,329.2 L116.7,326.2 L116.7,337.0 L116.8,331.5 L116.8,334.5 L116.9,331.7 L116.9,336.5 L117.0,334.4 L117.0,337.5 L117.1,332.4 L117.1,334.6 L117.2,353.0 L117.2,331.3 L117.3,337.3 L117.3,321.8 L117.4,321.9 L117.4,328.2 L117.5,316.8 L117.5,331.1 L117.6,335.8 L117.6,330.7 L117.7,325.7 L117.7,323.5 L117.8,336.9 L117.8,330.6 L117.9,319.0 L117.9,316.0 L118.0,327.8 L118.0,327.0 L118.1,337.3 L118.1,324.5 L118.2,324.7 L118.2,319.7 L118.3,332.7 L118.3,356.2 L118.4,321.2 L118.4,331.6 L118.5,324.0 L118.5,323.2 L118.6,334.8 L118.6,320.0 L118.7,354.6 L118.7,354.2 L118.8,357.6 L118.8,324.1 L118.9,328.6 L118.9,321.0 L119.0,335.4 L119.0,330.0 L119.1,335.5 L119.1,335.2 L119.2,351.1 L119.2,333.0 L119.3,337.8 L119.3,324.6 L119.4,317.1 L119.5,328.0 L119.5,322.3 L119.6,331.1 L119.6,335.9 L119.7,330.2 L119.7,324.7 L119.8,329.3 L119.8,329.3 L119.9,318.4 L119.9,332.0 L120.0,323.4 L120.0,323.9 L120.1,320.1 L120.1,333.2 L120.2,332.4 L120.2,322.3 L120.3,325.7 L120.3,316.4 L120.4,326.6 L120.4,330.0 L120.5,326.2 L120.5,342.8 L120.6,332.9 L120.6,332.0 L120.7,321.1 L120.7,328.2 L120.8,329.5 L120.8,319.6 L120.9,329.6 L120.9,332.8 L121.0,329.1 L121.0,335.0 L121.1,322.8 L121.1,316.5 L121.2,332.3 L121.2,350.4 L121.3,327.8 L121.3,330.3 L121.4,356.5 L121.4,350.2 L121.5,326.5 L121.5,325.4 L121.6,318.3 L121.6,352.4 L121.7,324.3 L121.7,325.9 L121.8,316.8 L121.8,321.5 L121.9,329.6 L121.9,329.5 L122.0,324.8 L122.0,331.8 L122.1,323.7 L122.1,327.7 L122.2,320.9 L122.3,319.8 L122.3,329.2 L122.4,333.8 L122.4,336.6 L122.5,320.2 L122.5,318.1 L122.6,325.1 L122.6,330.3 L122.7,316.7 L122.7,352.9 L122.8,328.2 L122.8,316.1 L122.9,321.8 L122.9,333.9 L123.0,322.1 L123.0,337.7 L123.1,315.6 L123.1,320.6 L123.2,323.4 L123.2,324.2 L123.3,315.8 L123.3,325.5 L123.4,328.1 L123.4,322.2 L123.5,326.7 L123.5,326.9 L123.6,338.0 L123.6,335.6 L123.7,343.2 L123.7,332.7 L123.8,315.5 L123.8,327.3 L123.9,334.9 L123.9,318.9 L124.0,322.7 L124.0,330.9 L124.1,318.7 L124.1,320.2 L124.2,316.1 L124.2,315.4 L124.3,325.2 L124.3,322.0 L124.4,333.3 L124.4,330.4 L124.5,322.2 L124.5,321.2 L124.6,316.2 L124.6,353.9 L124.7,322.4 L124.7,356.1 L124.8,335.5 L124.8,331.2 L124.9,321.0 L124.9,321.6 L125.0,323.7 L125.0,321.7 L125.1,332.8 L125.2,336.1 L125.2,326.1 L125.3,323.0 L125.3,323.2 L125.4,334.5 L125.4,341.2 L125.5,349.8 L125.5,338.8 L125.6,323.4 L125.6,323.4 L125.7,333.4 L125.7,335.2 L125.8,320.6 L125.8,323.5 L125.9,324.3 L125.9,317.2 L126.0,322.9 L126.0,318.4 L126.1,327.6 L126.1,334.5 L126.2,319.2 L126.2,327.1 L126.3,327.3 L126.3,352.1 L126.4,319.6 L126.4,324.9 L126.5,330.2 L126.5,334.8 L126.6,334.2 L126.6,333.6 L126.7,342.5 L126.7,319.0 L126.8,333.7 L126.8,322.9 L126.9,342.2 L126.9,317.1 L127.0,333.3 L127.0,326.7 L127.1,317.5 L127.1,329.0 L127.2,333.7 L127.2,329.9 L127.3,326.7 L127.3,321.4 L127.4,342.4 L127.4,335.1 L127.5,322.4 L127.5,332.1 L127.6,332.5 L127.6,334.8 L127.7,354.8 L127.7,329.0 L127.8,326.9 L127.8,326.1 L127.9,329.4 L128.0,322.4 L128.0,324.3 L128.1,334.2 L128.1,320.0 L128.2,334.6 L128.2,331.1 L128.3,319.2 L128.3,326.8 L128.4,326.0 L128.4,329.1 L128.5,325.3 L128.5,334.9 L128.6,325.6 L128.6,318.1 L128.7,322.7 L128.7,322.1 L128.8,319.6 L128.8,317.2 L128.9,332.6 L128.9,341.4 L129.0,319.2 L129.0,319.1 L129.1,345.8 L129.1,325.3 L129.2,342.2 L129.2,330.3 L129.3,325.1 L129.3,324.5 L129.4,329.2 L129.4,322.8 L129.5,321.8 L129.5,331.6 L129.6,316.7 L129.6,326.8 L129.7,316.9 L129.7,318.5 L129.8,320.6 L129.8,320.4 L129.9,326.6 L129.9,326.7 L130.0,332.2 L130.0,329.5 L130.1,316.9 L130.1,322.7 L130.2,346.7 L130.2,332.8 L130.3,323.1 L130.3,316.8 L130.4,318.1 L130.4,328.5 L130.5,350.7 L130.5,325.1 L130.6,326.5 L130.6,328.9 L130.7,324.1 L130.7,320.4 L130.8,327.0 L130.9,317.6 L130.9,327.7 L131.0,322.5 L131.0,322.7 L131.1,326.0 L131.1,327.6 L131.2,321.9 L131.2,331.1 L131.3,314.6 L131.3,332.3 L131.4,335.9 L131.4,348.2 L131.5,319.5 L131.5,330.0 L131.6,324.4 L131.6,332.9 L131.7,351.8 L131.7,322.5 L131.8,323.3 L131.8,341.2 L131.9,324.5 L131.9,322.6 L132.0,329.1 L132.0,331.2 L132.1,328.2 L132.1,317.1 L132.2,321.6 L132.2,332.7 L132.3,326.9 L132.3,350.6 L132.4,338.9 L132.4,328.8 L132.5,321.0 L132.5,329.4 L132.6,320.3 L132.6,333.2 L132.7,327.8 L132.7,319.1 L132.8,313.4 L132.8,331.9 L132.9,319.8 L132.9,332.7 L133.0,333.1 L133.0,318.6 L133.1,332.2 L133.1,316.9 L133.2,327.8 L133.2,314.2 L133.3,334.1 L133.3,314.1 L133.4,325.0 L133.4,320.1 L133.5,340.5 L133.5,332.7 L133.6,322.7 L133.7,347.2 L133.7,331.5 L133.8,323.9 L133.8,320.4 L133.9,342.4 L133.9,325.4 L134.0,317.2 L134.0,333.0 L134.1,312.5 L134.1,319.0 L134.2,326.4 L134.2,341.0 L134.3,318.3 L134.3,322.5 L134.4,323.2 L134.4,332.1 L134.5,321.0 L134.5,323.0 L134.6,319.9 L134.6,348.4 L134.7,323.1 L134.7,328.7 L134.8,321.7 L134.8,317.9 L134.9,317.5 L134.9,328.6 L135.0,317.4 L135.0,347.8 L135.1,327.9 L135.1,328.5 L135.2,315.0 L135.2,315.7 L135.3,318.3 L135.3,319.8 L135.4,322.9 L135.4,316.8 L135.5,331.4 L135.5,316.5 L135.6,330.7 L135.6,318.7 L135.7,324.9 L135.7,321.8 L135.8,312.6 L135.8,315.5 L135.9,321.7 L135.9,310.0 L136.0,313.5 L136.0,319.7 L136.1,313.4 L136.1,337.2 L136.2,327.1 L136.2,330.4 L136.3,316.4 L136.3,354.4 L136.4,330.5 L136.4,318.4 L136.5,315.7 L136.6,326.2 L136.6,317.1 L136.7,350.2 L136.7,341.8 L136.8,321.3 L136.8,350.9 L136.9,314.4 L136.9,321.9 L137.0,331.9 L137.0,349.5 L137.1,333.1 L137.1,321.8 L137.2,316.0 L137.2,319.7 L137.3,321.5 L137.3,333.0 L137.4,333.5 L137.4,320.4 L137.5,320.2 L137.5,324.2 L137.6,321.1 L137.6,332.4 L137.7,315.0 L137.7,335.1 L137.8,313.3 L137.8,336.1 L137.9,324.2 L137.9,359.5 L138.0,332.7 L138.0,330.0 L138.1,347.4 L138.1,328.9 L138.2,317.3 L138.2,327.4 L138.3,316.8 L138.3,327.2 L138.4,333.9 L138.4,318.6 L138.5,323.1 L138.5,323.5 L138.6,355.8 L138.6,327.6 L138.7,332.5 L138.7,347.1 L138.8,317.9 L138.8,320.1 L138.9,324.9 L138.9,329.8 L139.0,322.2 L139.0,334.7 L139.1,324.6 L139.1,334.2 L139.2,330.3 L139.2,314.1 L139.3,332.2 L139.4,323.1 L139.4,333.6 L139.5,312.4 L139.5,330.7 L139.6,330.2 L139.6,321.0 L139.7,317.8 L139.7,320.1 L139.8,324.1 L139.8,334.2 L139.9,326.0 L139.9,333.7 L140.0,340.9 L140.0,333.3 L140.1,326.5 L140.1,328.1 L140.2,328.4 L140.2,334.2 L140.3,332.0 L140.3,327.2 L140.4,351.8 L140.4,326.3 L140.5,328.6 L140.5,313.7 L140.6,316.4 L140.6,344.4 L140.7,330.0 L140.7,318.5 L140.8,319.4 L140.8,330.3 L140.9,355.2 L140.9,349.4 L141.0,336.2 L141.0,331.3 L141.1,328.1 L141.1,319.4 L141.2,333.3 L141.2,331.1 L141.3,321.5 L141.3,332.8 L141.4,332.2 L141.4,332.1 L141.5,323.5 L141.5,330.3 L141.6,327.6 L141.6,321.3 L141.7,320.3 L141.7,321.9 L141.8,357.1 L141.8,317.6 L141.9,329.7 L141.9,334.3 L142.0,333.6 L142.0,332.8 L142.1,322.8 L142.1,320.9 L142.2,324.5 L142.3,329.5 L142.3,333.3 L142.4,324.6 L142.4,348.2 L142.5,337.9 L142.5,323.2 L142.6,318.4 L142.6,328.6 L142.7,324.5 L142.7,334.4 L142.8,327.2 L142.8,328.2 L142.9,329.6 L142.9,323.8 L143.0,322.1 L143.0,328.6 L143.1,354.0 L143.1,337.3 L143.2,328.2 L143.2,335.0 L143.3,318.3 L143.3,322.6 L143.4,322.6 L143.4,335.8 L143.5,327.7 L143.5,336.5 L143.6,328.4 L143.6,322.0 L143.7,347.1 L143.7,354.3 L143.8,335.3 L143.8,314.6 L143.9,335.1 L143.9,325.4 L144.0,318.0 L144.0,334.4 L144.1,325.8 L144.1,324.5 L144.2,336.5 L144.2,326.0 L144.3,320.8 L144.3,324.4 L144.4,328.2 L144.4,335.4 L144.5,333.1 L144.5,324.6 L144.6,334.0 L144.6,328.6 L144.7,322.0 L144.7,320.3 L144.8,317.5 L144.8,320.8 L144.9,320.6 L144.9,320.2 L145.0,320.0 L145.1,324.4 L145.1,317.5 L145.2,321.3 L145.2,328.5 L145.3,326.4 L145.3,329.0 L145.4,329.9 L145.4,331.3 L145.5,321.9 L145.5,332.0 L145.6,333.5 L145.6,331.5 L145.7,328.0 L145.7,320.0 L145.8,322.1 L145.8,326.7 L145.9,323.9 L145.9,351.2 L146.0,322.8 L146.0,327.3 L146.1,333.6 L146.1,338.3 L146.2,315.8 L146.2,321.8 L146.3,342.6 L146.3,359.5 L146.4,352.4 L146.4,347.2 L146.5,336.4 L146.5,328.9 L146.6,332.6 L146.6,323.4 L146.7,358.8 L146.7,324.7 L146.8,324.0 L146.8,316.5 L146.9,330.3 L146.9,322.3 L147.0,325.6 L147.0,329.1 L147.1,336.0 L147.1,328.2 L147.2,330.7 L147.2,326.3 L147.3,332.2 L147.3,318.1 L147.4,316.3 L147.4,320.7 L147.5,323.5 L147.5,322.1 L147.6,329.8 L147.6,345.2 L147.7,329.2 L147.7,325.4 L147.8,320.4 L147.9,320.6 L147.9,326.7 L148.0,320.9 L148.0,324.7 L148.1,333.7 L148.1,321.6 L148.2,317.9 L148.2,334.5 L148.3,332.0 L148.3,318.6 L148.4,333.2 L148.4,327.8 L148.5,320.1 L148.5,350.9 L148.6,324.9 L148.6,334.7 L148.7,335.6 L148.7,318.2 L148.8,333.0 L148.8,317.1 L148.9,333.7 L148.9,325.1 L149.0,317.5 L149.0,323.3 L149.1,321.8 L149.1,328.8 L149.2,329.0 L149.2,322.6 L149.3,329.0 L149.3,315.2 L149.4,319.5 L149.4,350.8 L149.5,343.2 L149.5,321.4 L149.6,318.9 L149.6,325.3 L149.7,334.0 L149.7,333.3 L149.8,329.5 L149.8,330.4 L149.9,314.0 L149.9,316.2 L150.0,349.4 L150.0,352.6 L150.1,318.0 L150.1,316.2 L150.2,336.1 L150.2,322.9 L150.3,353.1 L150.3,322.4 L150.4,317.2 L150.4,331.7 L150.5,328.9 L150.5,318.6 L150.6,316.9 L150.6,329.8 L150.7,329.8 L150.8,350.2 L150.8,339.9 L150.9,325.3 L150.9,330.8 L151.0,323.6 L151.0,319.7 L151.1,311.8 L151.1,321.1 L151.2,322.4 L151.2,355.7 L151.3,345.4 L151.3,356.2 L151.4,318.4 L151.4,321.3 L151.5,325.4 L151.5,317.1 L151.6,323.7 L151.6,336.0 L151.7,336.2 L151.7,333.8 L151.8,323.8 L151.8,328.7 L151.9,334.5 L151.9,318.4 L152.0,351.7 L152.0,329.5 L152.1,332.0 L152.1,324.3 L152.2,326.7 L152.2,339.6 L152.3,346.1 L152.3,335.9 L152.4,330.7 L152.4,339.2 L152.5,355.3 L152.5,327.3 L152.6,338.6 L152.6,331.7 L152.7,331.8 L152.7,336.4 L152.8,327.0 L152.8,332.1 L152.9,335.9 L152.9,325.0 L153.0,362.7 L153.0,335.7 L153.1,337.4 L153.1,334.3 L153.2,346.0 L153.2,322.7 L153.3,337.1 L153.3,339.9 L153.4,338.2 L153.4,330.8 L153.5,323.0 L153.6,329.5 L153.6,339.0 L153.7,334.0 L153.7,323.9 L153.8,339.4 L153.8,351.6 L153.9,335.1 L153.9,322.4 L154.0,332.0 L154.0,336.0 L154.1,323.9 L154.1,326.4 L154.2,338.5 L154.2,331.9 L154.3,337.0 L154.3,336.6 L154.4,331.7 L154.4,330.1 L154.5,343.7 L154.5,349.2 L154.6,334.8 L154.6,324.1 L154.7,336.6 L154.7,336.9 L154.8,338.1 L154.8,357.2 L154.9,337.8 L154.9,326.4 L155.0,322.6 L155.0,359.8 L155.1,319.6 L155.1,327.0 L155.2,328.0 L155.2,362.2 L155.3,355.5 L155.3,351.7 L155.4,325.5 L155.4,360.1 L155.5,324.0 L155.5,328.8 L155.6,327.1 L155.6,350.7 L155.7,325.1 L155.7,333.7 L155.8,326.9 L155.8,350.8 L155.9,331.1 L155.9,330.3 L156.0,339.6 L156.0,326.4 L156.1,332.9 L156.1,337.0 L156.2,332.1 L156.2,342.0 L156.3,342.2 L156.3,324.9 L156.4,341.2 L156.5,340.5 L156.5,325.7 L156.6,322.0 L156.6,330.1 L156.7,321.6 L156.7,334.0 L156.8,361.1 L156.8,348.5 L156.9,341.7 L156.9,329.2 L157.0,342.2 L157.0,341.4 L157.1,353.8 L157.1,333.1 L157.2,336.5 L157.2,325.6 L157.3,327.9 L157.3,333.8 L157.4,330.1 L157.4,322.9 L157.5,326.2 L157.5,340.5 L157.6,331.5 L157.6,328.1 L157.7,325.3 L157.7,334.9 L157.8,332.3 L157.8,337.3 L157.9,337.6 L157.9,324.3 L158.0,326.9 L158.0,333.4 L158.1,332.7 L158.1,332.1 L158.2,333.7 L158.2,332.5 L158.3,338.8 L158.3,334.4 L158.4,329.9 L158.4,332.3 L158.5,361.5 L158.5,346.5 L158.6,325.4 L158.6,352.8 L158.7,341.2 L158.7,322.4 L158.8,335.2 L158.8,338.7 L158.9,336.2 L158.9,354.8 L159.0,335.3 L159.0,322.1 L159.1,338.1 L159.1,330.2 L159.2,328.6 L159.3,325.7 L159.3,329.6 L159.4,328.8 L159.4,357.5 L159.5,327.0 L159.5,328.0 L159.6,326.9 L159.6,328.6 L159.7,331.0 L159.7,337.8 L159.8,339.5 L159.8,334.1 L159.9,332.5 L159.9,348.8 L160.0,339.4 L160.0,344.0 L160.1,334.6 L160.1,329.9 L160.2,337.2 L160.2,338.6 L160.3,331.0 L160.3,325.9 L160.4,329.7 L160.4,326.8 L160.5,322.4 L160.5,331.7 L160.6,330.8 L160.6,330.5 L160.7,322.9 L160.7,351.0 L160.8,327.7 L160.8,326.7 L160.9,326.2 L160.9,328.0 L161.0,329.3 L161.0,333.3 L161.1,319.7 L161.1,321.4 L161.2,327.5 L161.2,331.7 L161.3,326.4 L161.3,321.9 L161.4,335.5 L161.4,328.6 L161.5,323.1 L161.5,334.5 L161.6,321.0 L161.6,321.6 L161.7,322.5 L161.7,323.3 L161.8,329.5 L161.8,334.5 L161.9,325.8 L161.9,334.2 L162.0,324.3 L162.0,325.9 L162.1,329.2 L162.2,333.4 L162.2,346.7 L162.3,326.9 L162.3,325.2 L162.4,325.9 L162.4,333.3 L162.5,325.5 L162.5,323.3 L162.6,325.1 L162.6,326.7 L162.7,351.3 L162.7,327.7 L162.8,332.6 L162.8,332.6 L162.9,328.3 L162.9,330.1 L163.0,321.0 L163.0,325.0 L163.1,348.1 L163.1,320.2 L163.2,326.5 L163.2,317.6 L163.3,320.7 L163.3,320.4 L163.4,332.0 L163.4,326.9 L163.5,321.9 L163.5,333.0 L163.6,336.4 L163.6,330.6 L163.7,333.3 L163.7,321.6 L163.8,321.6 L163.8,333.0 L163.9,341.3 L163.9,328.0 L164.0,340.3 L164.0,322.8 L164.1,324.4 L164.1,321.9 L164.2,328.1 L164.2,329.6 L164.3,320.4 L164.3,331.6 L164.4,323.6 L164.4,327.2 L164.5,321.0 L164.5,325.1 L164.6,321.7 L164.6,328.6 L164.7,325.3 L164.7,334.4 L164.8,323.6 L164.8,339.0 L164.9,335.5 L165.0,326.2 L165.0,334.9 L165.1,336.7 L165.1,324.0 L165.2,330.5 L165.2,328.4 L165.3,329.4 L165.3,334.1 L165.4,333.8 L165.4,326.0 L165.5,338.4 L165.5,335.8 L165.6,325.9 L165.6,325.6 L165.7,330.5 L165.7,328.1 L165.8,326.4 L165.8,332.9 L165.9,344.4 L165.9,325.0 L166.0,323.2 L166.0,327.9 L166.1,329.0 L166.1,334.0 L166.2,335.0 L166.2,329.2 L166.3,330.4 L166.3,329.5 L166.4,321.6 L166.4,329.9 L166.5,331.1 L166.5,325.9 L166.6,319.1 L166.6,327.3 L166.7,334.2 L166.7,327.8 L166.8,349.2 L166.8,323.4 L166.9,331.6 L166.9,327.7 L167.0,345.3 L167.0,328.0 L167.1,324.4 L167.1,337.5 L167.2,346.8 L167.2,339.9 L167.3,329.4 L167.3,332.5 L167.4,328.4 L167.4,333.0 L167.5,332.3 L167.5,321.1 L167.6,325.1 L167.6,321.6 L167.7,332.4 L167.7,320.6 L167.8,323.2 L167.9,328.0 L167.9,317.5 L168.0,332.2 L168.0,322.6 L168.1,320.6 L168.1,320.9 L168.2,325.3 L168.2,326.2 L168.3,317.4 L168.3,321.0 L168.4,322.1 L168.4,319.0 L168.5,320.6 L168.5,321.0 L168.6,324.4 L168.6,324.9 L168.7,329.7 L168.7,332.8 L168.8,321.2 L168.8,318.4 L168.9,319.4 L168.9,321.3 L169.0,319.6 L169.0,319.5 L169.1,337.3 L169.1,326.5 L169.2,330.3 L169.2,332.1 L169.3,332.6 L169.3,324.0 L169.4,330.6 L169.4,345.2 L169.5,328.7 L169.5,328.6 L169.6,318.3 L169.6,331.5 L169.7,323.5 L169.7,319.7 L169.8,325.2 L169.8,326.5 L169.9,325.8 L169.9,341.0 L170.0,331.4 L170.0,337.5 L170.1,328.0 L170.1,327.1 L170.2,324.5 L170.2,324.6 L170.3,328.9 L170.3,319.6 L170.4,327.5 L170.4,321.8 L170.5,325.6 L170.5,314.3 L170.6,321.7 L170.7,327.4 L170.7,322.4 L170.8,319.8 L170.8,318.8 L170.9,329.2 L170.9,338.7 L171.0,326.7 L171.0,320.6 L171.1,329.0 L171.1,322.6 L171.2,332.8 L171.2,328.5 L171.3,316.0 L171.3,325.8 L171.4,314.2 L171.4,327.0 L171.5,313.3 L171.5,317.9 L171.6,324.0 L171.6,314.1 L171.7,321.1 L171.7,320.8 L171.8,329.2 L171.8,318.3 L171.9,325.8 L171.9,322.1 L172.0,314.2 L172.0,336.9 L172.1,327.1 L172.1,324.0 L172.2,322.9 L172.2,317.8 L172.3,324.1 L172.3,327.9 L172.4,327.0 L172.4,321.6 L172.5,318.8 L172.5,323.2 L172.6,317.2 L172.6,324.8 L172.7,326.7 L172.7,316.4 L172.8,327.8 L172.8,322.1 L172.9,325.5 L172.9,326.5 L173.0,340.2 L173.0,330.9 L173.1,326.1 L173.1,323.2 L173.2,327.2 L173.2,326.8 L173.3,322.2 L173.3,329.5 L173.4,331.6 L173.5,317.3 L173.5,320.0 L173.6,326.2 L173.6,330.9 L173.7,322.6 L173.7,318.5 L173.8,327.8 L173.8,330.4 L173.9,317.7 L173.9,326.5 L174.0,324.3 L174.0,331.3 L174.1,321.1 L174.1,320.2 L174.2,344.0 L174.2,317.6 L174.3,325.9 L174.3,322.3 L174.4,324.1 L174.4,341.8 L174.5,326.5 L174.5,336.7 L174.6,322.3 L174.6,324.9 L174.7,320.9 L174.7,321.5 L174.8,312.6 L174.8,323.3 L174.9,326.1 L174.9,323.3 L175.0,322.2 L175.0,325.8 L175.1,319.8 L175.1,339.7 L175.2,324.5 L175.2,319.4 L175.3,343.6 L175.3,327.5 L175.4,339.5 L175.4,336.5 L175.5,323.8 L175.5,319.5 L175.6,325.7 L175.6,335.4 L175.7,313.6 L175.7,316.6 L175.8,320.4 L175.8,326.1 L175.9,314.4 L175.9,323.1 L176.0,326.6 L176.0,329.1 L176.1,322.5 L176.1,319.6 L176.2,326.5 L176.2,313.9 L176.3,317.8 L176.4,325.0 L176.4,319.3 L176.5,326.9 L176.5,319.5 L176.6,322.3 L176.6,340.8 L176.7,318.9 L176.7,319.7 L176.8,325.2 L176.8,318.7 L176.9,326.1 L176.9,322.9 L177.0,319.9 L177.0,340.3 L177.1,318.5 L177.1,345.8 L177.2,322.6 L177.2,325.3 L177.3,313.8 L177.3,313.5 L177.4,324.3 L177.4,339.5 L177.5,324.7 L177.5,314.7 L177.6,317.4 L177.6,325.1 L177.7,310.5 L177.7,318.0 L177.8,315.0 L177.8,315.1 L177.9,324.9 L177.9,316.8 L178.0,316.4 L178.0,312.8 L178.1,311.7 L178.1,323.8 L178.2,327.4 L178.2,328.1 L178.3,316.2 L178.3,314.1 L178.4,319.7 L178.4,318.1 L178.5,314.5 L178.5,325.9 L178.6,318.9 L178.6,325.8 L178.7,318.5 L178.7,316.5 L178.8,343.3 L178.8,324.0 L178.9,319.7 L178.9,326.1 L179.0,320.4 L179.0,324.0 L179.1,319.4 L179.2,324.6 L179.2,320.6 L179.3,328.3 L179.3,322.4 L179.4,319.2 L179.4,322.9 L179.5,317.5 L179.5,322.4 L179.6,315.9 L179.6,330.5 L179.7,325.7 L179.7,315.0 L179.8,315.7 L179.8,320.2 L179.9,321.2 L179.9,345.5 L180.0,324.7 L180.0,312.4 L180.1,319.7 L180.1,317.3 L180.2,325.8 L180.2,322.5 L180.3,325.5 L180.3,323.4 L180.4,313.4 L180.4,315.6 L180.5,316.0 L180.5,312.7 L180.6,324.7 L180.6,324.8 L180.7,324.4 L180.7,310.1 L180.8,327.7 L180.8,337.0 L180.9,313.8 L180.9,316.1 L181.0,321.8 L181.0,329.7 L181.1,314.8 L181.1,308.9 L181.2,324.1 L181.2,314.5 L181.3,319.4 L181.3,326.1 L181.4,314.6 L181.4,313.0 L181.5,324.7 L181.5,327.9 L181.6,334.2 L181.6,312.2 L181.7,312.4 L181.7,318.1 L181.8,328.9 L181.8,319.4 L181.9,327.2 L181.9,328.2 L182.0,318.9 L182.1,325.9 L182.1,324.4 L182.2,323.3 L182.2,317.7 L182.3,326.4 L182.3,324.5 L182.4,318.4 L182.4,317.1 L182.5,314.8 L182.5,312.4 L182.6,319.3 L182.6,322.9 L182.7,346.3 L182.7,321.7 L182.8,316.2 L182.8,322.2 L182.9,312.1 L182.9,314.3 L183.0,312.5 L183.0,314.6 L183.1,322.9 L183.1,334.7 L183.2,321.8 L183.2,323.2 L183.3,316.8 L183.3,314.2 L183.4,309.5 L183.4,315.9 L183.5,345.5 L183.5,323.5 L183.6,319.5 L183.6,317.2 L183.7,323.1 L183.7,312.9 L183.8,313.6 L183.8,324.6 L183.9,344.6 L183.9,324.6 L184.0,308.3 L184.0,308.8 L184.1,318.6 L184.1,315.1 L184.2,313.6 L184.2,320.1 L184.3,322.9 L184.3,321.8 L184.4,322.8 L184.4,312.1 L184.5,337.0 L184.5,319.3 L184.6,343.3 L184.6,318.4 L184.7,310.3 L184.7,317.4 L184.8,315.2 L184.9,320.7 L184.9,317.2 L185.0,313.3 L185.0,311.8 L185.1,323.6 L185.1,311.0 L185.2,319.4 L185.2,328.0 L185.3,311.1 L185.3,315.9 L185.4,308.9 L185.4,324.6 L185.5,335.0 L185.5,324.9 L185.6,316.5 L185.6,320.1 L185.7,311.8 L185.7,342.4 L185.8,321.3 L185.8,316.1 L185.9,317.7 L185.9,322.2 L186.0,314.1 L186.0,328.6 L186.1,319.3 L186.1,325.2 L186.2,321.1 L186.2,314.4 L186.3,325.5 L186.3,314.7 L186.4,330.1 L186.4,313.9 L186.5,315.6 L186.5,323.7 L186.6,314.0 L186.6,325.5 L186.7,323.7 L186.7,326.2 L186.8,332.2 L186.8,318.0 L186.9,343.5 L186.9,316.6 L187.0,318.7 L187.0,320.2 L187.1,310.6 L187.1,319.1 L187.2,318.9 L187.2,321.2 L187.3,331.3 L187.3,310.4 L187.4,321.6 L187.4,323.7 L187.5,318.0 L187.5,323.5 L187.6,325.4 L187.6,309.6 L187.7,324.9 L187.8,315.0 L187.8,318.7 L187.9,325.7 L187.9,311.5 L188.0,309.0 L188.0,316.5 L188.1,305.7 L188.1,308.5 L188.2,323.6 L188.2,319.3 L188.3,307.0 L188.3,321.4 L188.4,334.4 L188.4,317.2 L188.5,336.4 L188.5,310.2 L188.6,336.4 L188.6,308.9 L188.7,314.4 L188.7,317.0 L188.8,310.1 L188.8,311.9 L188.9,311.3 L188.9,324.3 L189.0,338.0 L189.0,309.7 L189.1,315.4 L189.1,306.1 L189.2,321.1 L189.2,312.3 L189.3,306.6 L189.3,313.3 L189.4,322.7 L189.4,314.7 L189.5,319.2 L189.5,317.3 L189.6,323.4 L189.6,309.5 L189.7,318.4 L189.7,322.2 L189.8,322.8 L189.8,322.1 L189.9,316.1 L189.9,323.3 L190.0,319.7 L190.0,323.8 L190.1,324.6 L190.1,336.8 L190.2,311.4 L190.2,326.1 L190.3,313.3 L190.3,320.1 L190.4,310.6 L190.4,310.5 L190.5,324.1 L190.6,326.4 L190.6,315.2 L190.7,318.2 L190.7,311.1 L190.8,310.7 L190.8,345.5 L190.9,324.7 L190.9,312.9 L191.0,310.9 L191.0,317.9 L191.1,312.6 L191.1,324.3 L191.2,336.7 L191.2,321.5 L191.3,314.0 L191.3,319.6 L191.4,319.5 L191.4,310.4 L191.5,321.4 L191.5,328.7 L191.6,314.8 L191.6,323.6 L191.7,341.8 L191.7,310.6 L191.8,331.3 L191.8,318.5 L191.9,316.2 L191.9,313.3 L192.0,310.2 L192.0,315.8 L192.1,310.6 L192.1,306.7 L192.2,321.8 L192.2,321.3 L192.3,329.3 L192.3,315.6 L192.4,317.0 L192.4,323.3 L192.5,320.7 L192.5,306.7 L192.6,320.5 L192.6,312.2 L192.7,317.7 L192.7,308.7 L192.8,314.5 L192.8,306.8 L192.9,316.4 L192.9,314.1 L193.0,310.4 L193.0,321.5 L193.1,313.8 L193.1,333.5 L193.2,319.1 L193.2,319.4 L193.3,308.7 L193.3,334.1 L193.4,307.4 L193.5,341.1 L193.5,315.6 L193.6,322.2 L193.6,311.7 L193.7,309.8 L193.7,306.3 L193.8,310.3 L193.8,316.9 L193.9,334.5 L193.9,320.0 L194.0,305.0 L194.0,337.7 L194.1,305.3 L194.1,320.8 L194.2,315.5 L194.2,317.3 L194.3,310.9 L194.3,305.7 L194.4,321.3 L194.4,313.1 L194.5,318.9 L194.5,321.7 L194.6,316.3 L194.6,315.6 L194.7,318.1 L194.7,308.9 L194.8,335.9 L194.8,316.9 L194.9,314.5 L194.9,312.6 L195.0,316.4 L195.0,316.0 L195.1,314.6 L195.1,321.3 L195.2,337.3 L195.2,321.7 L195.3,320.2 L195.3,311.9 L195.4,316.8 L195.4,319.5 L195.5,316.8 L195.5,310.6 L195.6,313.7 L195.6,336.4 L195.7,318.7 L195.7,315.5 L195.8,317.7 L195.8,319.4 L195.9,319.9 L195.9,306.4 L196.0,315.5 L196.0,321.7 L196.1,308.0 L196.1,317.6 L196.2,312.1 L196.3,311.4 L196.3,318.0 L196.4,335.1 L196.4,323.0 L196.5,320.9 L196.5,321.0 L196.6,316.7 L196.6,316.0 L196.7,321.1 L196.7,322.4 L196.8,313.4 L196.8,311.4 L196.9,314.3 L196.9,315.8 L197.0,324.6 L197.0,322.0 L197.1,325.5 L197.1,324.8 L197.2,323.7 L197.2,337.2 L197.3,327.8 L197.3,322.0 L197.4,324.1 L197.4,316.2 L197.5,325.4 L197.5,332.1 L197.6,311.7 L197.6,324.4 L197.7,316.2 L197.7,312.6 L197.8,324.9 L197.8,315.7 L197.9,323.3 L197.9,325.1 L198.0,316.9 L198.0,316.0 L198.1,309.2 L198.1,314.2 L198.2,324.4 L198.2,325.2 L198.3,311.4 L198.3,323.1 L198.4,315.4 L198.4,317.2 L198.5,314.0 L198.5,322.8 L198.6,319.8 L198.6,320.4 L198.7,321.2 L198.7,316.4 L198.8,323.4 L198.8,311.1 L198.9,317.8 L198.9,317.6 L199.0,317.9 L199.1,319.3 L199.1,320.5 L199.2,314.5 L199.2,318.3 L199.3,309.0 L199.3,324.3 L199.4,322.5 L199.4,309.4 L199.5,310.4 L199.5,313.7 L199.6,319.6 L199.6,323.8 L199.7,322.5 L199.7,308.7 L199.8,311.8 L199.8,323.6 L199.9,324.6 L199.9,318.0 L200.0,316.4 L200.0,317.1 L200.1,310.3 L200.1,321.4 L200.2,314.6 L200.2,339.4 L200.3,313.3 L200.3,311.7 L200.4,312.2 L200.4,315.1 L200.5,310.9 L200.5,319.3 L200.6,312.7 L200.6,322.6 L200.7,321.7 L200.7,322.8 L200.8,317.8 L200.8,336.3 L200.9,313.8 L200.9,309.2 L201.0,320.5 L201.0,318.1 L201.1,313.6 L201.1,317.3 L201.2,321.7 L201.2,330.5 L201.3,310.3 L201.3,315.0 L201.4,312.2 L201.4,323.0 L201.5,322.1 L201.5,311.4 L201.6,314.4 L201.6,308.1 L201.7,315.5 L201.7,306.3 L201.8,321.6 L201.8,307.9 L201.9,306.8 L202.0,309.5 L202.0,310.7 L202.1,318.6 L202.1,328.5 L202.2,309.7 L202.2,321.4 L202.3,314.1 L202.3,337.4 L202.4,309.4 L202.4,319.7 L202.5,319.3 L202.5,336.3 L202.6,322.8 L202.6,308.0 L202.7,319.5 L202.7,309.4 L202.8,319.0 L202.8,309.1 L202.9,335.6 L202.9,320.3 L203.0,309.5 L203.0,310.3 L203.1,313.2 L203.1,316.6 L203.2,307.8 L203.2,313.3 L203.3,311.4 L203.3,310.7 L203.4,327.7 L203.4,316.2 L203.5,317.2 L203.5,309.8 L203.6,305.0 L203.6,318.8 L203.7,321.9 L203.7,334.5 L203.8,322.2 L203.8,317.7 L203.9,308.0 L203.9,323.1 L204.0,311.7 L204.0,321.4 L204.1,322.3 L204.1,314.5 L204.2,309.2 L204.2,321.9 L204.3,316.6 L204.3,314.1 L204.4,333.7 L204.4,323.1 L204.5,320.8 L204.5,318.5 L204.6,321.5 L204.6,318.4 L204.7,315.8 L204.8,322.6 L204.8,316.8 L204.9,319.3 L204.9,313.8 L205.0,319.7 L205.0,322.5 L205.1,314.7 L205.1,321.0 L205.2,323.4 L205.2,318.0 L205.3,314.8 L205.3,314.1 L205.4,309.4 L205.4,314.1 L205.5,313.1 L205.5,313.3 L205.6,314.1 L205.6,311.5 L205.7,319.3 L205.7,314.8 L205.8,318.3 L205.8,306.1 L205.9,319.8 L205.9,310.4 L206.0,311.3 L206.0,317.2 L206.1,319.2 L206.1,317.2 L206.2,315.6 L206.2,311.0 L206.3,308.9 L206.3,311.3 L206.4,310.1 L206.4,315.5 L206.5,331.5 L206.5,317.2 L206.6,310.9 L206.6,305.8 L206.7,320.7 L206.7,315.3 L206.8,310.2 L206.8,319.2 L206.9,311.3 L206.9,320.9 L207.0,318.0 L207.0,329.6 L207.1,307.6 L207.1,310.9 L207.2,321.0 L207.2,305.1 L207.3,314.6 L207.3,308.3 L207.4,314.4 L207.4,320.3 L207.5,315.7 L207.5,308.3 L207.6,315.4 L207.7,322.5 L207.7,307.9 L207.8,310.9 L207.8,319.6 L207.9,318.1 L207.9,320.9 L208.0,308.1 L208.0,314.1 L208.1,303.2 L208.1,314.8 L208.2,307.3 L208.2,315.5 L208.3,320.1 L208.3,310.2 L208.4,302.7 L208.4,313.0 L208.5,317.0 L208.5,316.2 L208.6,317.6 L208.6,303.4 L208.7,311.9 L208.7,307.7 L208.8,308.8 L208.8,307.2 L208.9,304.8 L208.9,319.8 L209.0,314.3 L209.0,308.4 L209.1,309.5 L209.1,301.5 L209.2,318.6 L209.2,300.1 L209.3,308.9 L209.3,317.8 L209.4,304.4 L209.4,314.1 L209.5,306.8 L209.5,317.4 L209.6,304.1 L209.6,308.7 L209.7,334.3 L209.7,305.5 L209.8,313.0 L209.8,313.6 L209.9,316.4 L209.9,318.0 L210.0,304.7 L210.0,305.3 L210.1,307.7 L210.1,301.8 L210.2,315.9 L210.2,316.6 L210.3,326.1 L210.3,307.1 L210.4,311.1 L210.5,319.2 L210.5,311.9 L210.6,315.5 L210.6,316.3 L210.7,306.3 L210.7,301.2 L210.8,307.9 L210.8,311.2 L210.9,318.8 L210.9,308.1 L211.0,317.1 L211.0,313.3 L211.1,302.8 L211.1,330.7 L211.2,310.3 L211.2,332.3 L211.3,316.3 L211.3,325.0 L211.4,308.6 L211.4,322.8 L211.5,303.6 L211.5,311.1 L211.6,314.4 L211.6,332.7 L211.7,300.7 L211.7,312.8 L211.8,305.9 L211.8,313.2 L211.9,312.0 L211.9,303.0 L212.0,320.9 L212.0,303.5 L212.1,304.2 L212.1,313.7 L212.2,308.1 L212.2,328.6 L212.3,312.3 L212.3,303.5 L212.4,301.5 L212.4,313.8 L212.5,308.5 L212.5,299.9 L212.6,305.0 L212.6,309.4 L212.7,309.8 L212.7,314.0 L212.8,313.7 L212.8,331.9 L212.9,332.2 L212.9,308.9 L213.0,300.5 L213.0,304.3 L213.1,335.0 L213.1,313.3 L213.2,314.8 L213.2,314.2 L213.3,315.2 L213.4,318.0 L213.4,312.7 L213.5,329.5 L213.5,315.4 L213.6,305.7 L213.6,309.7 L213.7,314.5 L213.7,306.7 L213.8,317.3 L213.8,316.7 L213.9,313.9 L213.9,307.8 L214.0,314.4 L214.0,333.1 L214.1,314.8 L214.1,308.4 L214.2,319.3 L214.2,312.1 L214.3,317.3 L214.3,329.8 L214.4,318.2 L214.4,309.1 L214.5,323.0 L214.5,317.5 L214.6,334.5 L214.6,309.5 L214.7,308.8 L214.7,312.1 L214.8,318.5 L214.8,307.3 L214.9,319.0 L214.9,310.4 L215.0,320.0 L215.0,307.2 L215.1,313.6 L215.1,312.9 L215.2,316.8 L215.2,318.5 L215.3,313.6 L215.3,315.7 L215.4,308.7 L215.4,307.0 L215.5,314.1 L215.5,306.6 L215.6,307.7 L215.6,313.5 L215.7,306.0 L215.7,306.4 L215.8,315.2 L215.8,312.2 L215.9,323.1 L215.9,304.3 L216.0,316.7 L216.0,312.4 L216.1,306.8 L216.2,307.9 L216.2,317.0 L216.3,308.2 L216.3,320.5 L216.4,319.7 L216.4,310.1 L216.5,310.4 L216.5,321.2 L216.6,319.7 L216.6,321.8 L216.7,325.4 L216.7,314.5 L216.8,311.5 L216.8,331.9 L216.9,306.9 L216.9,304.2 L217.0,318.2 L217.0,312.0 L217.1,331.9 L217.1,336.1 L217.2,313.2 L217.2,308.5 L217.3,321.6 L217.3,316.3 L217.4,316.3 L217.4,307.7 L217.5,333.3 L217.5,314.7 L217.6,312.6 L217.6,316.6 L217.7,319.8 L217.7,319.8 L217.8,307.8 L217.8,308.0 L217.9,312.2 L217.9,317.4 L218.0,308.4 L218.0,309.7 L218.1,311.2 L218.1,315.0 L218.2,305.1 L218.2,317.0 L218.3,315.5 L218.3,315.6 L218.4,316.5 L218.4,318.8 L218.5,314.2 L218.5,316.9 L218.6,319.6 L218.6,312.6 L218.7,312.9 L218.7,308.2 L218.8,310.2 L218.8,316.1 L218.9,320.3 L218.9,304.7 L219.0,315.0 L219.1,316.9 L219.1,313.4 L219.2,302.9 L219.2,307.7 L219.3,308.2 L219.3,321.3 L219.4,316.5 L219.4,305.8 L219.5,314.2 L219.5,320.3 L219.6,336.6 L219.6,321.8 L219.7,312.8 L219.7,306.8 L219.8,320.0 L219.8,320.9 L219.9,302.6 L219.9,309.6 L220.0,310.2 L220.0,310.6 L220.1,319.7 L220.1,310.2 L220.2,305.3 L220.2,317.1 L220.3,313.2 L220.3,318.3 L220.4,315.7 L220.4,321.3 L220.5,312.9 L220.5,312.7 L220.6,320.6 L220.6,303.7 L220.7,310.9 L220.7,321.4 L220.8,321.4 L220.8,322.4 L220.9,316.1 L220.9,318.4 L221.0,319.6 L221.0,315.3 L221.1,312.4 L221.1,312.5 L221.2,308.3 L221.2,309.9 L221.3,317.2 L221.3,304.2 L221.4,332.4 L221.4,301.0 L221.5,313.9 L221.5,306.9 L221.6,318.4 L221.6,317.4 L221.7,306.7 L221.7,311.8 L221.8,312.2 L221.9,323.9 L221.9,304.0 L222.0,317.5 L222.0,315.9 L222.1,314.2 L222.1,309.5 L222.2,314.5 L222.2,313.8 L222.3,308.0 L222.3,310.3 L222.4,320.1 L222.4,308.3 L222.5,311.8 L222.5,302.2 L222.6,315.2 L222.6,310.4 L222.7,319.9 L222.7,305.1 L222.8,300.6 L222.8,319.8 L222.9,321.2 L222.9,315.9 L223.0,310.9 L223.0,303.7 L223.1,303.4 L223.1,316.8 L223.2,332.3 L223.2,311.0 L223.3,315.4 L223.3,308.5 L223.4,316.0 L223.4,306.7 L223.5,323.1 L223.5,316.6 L223.6,311.4 L223.6,312.1 L223.7,303.2 L223.7,308.4 L223.8,307.8 L223.8,310.5 L223.9,306.0 L223.9,319.9 L224.0,317.6 L224.0,317.4 L224.1,309.7 L224.1,314.4 L224.2,308.8 L224.2,329.9 L224.3,332.6 L224.3,317.0 L224.4,319.0 L224.4,314.5 L224.5,315.2 L224.5,321.1 L224.6,313.5 L224.7,307.3 L224.7,306.1 L224.8,319.3 L224.8,305.6 L224.9,302.5 L224.9,324.6 L225.0,302.9 L225.0,309.8 L225.1,306.7 L225.1,307.4 L225.2,315.4 L225.2,307.5 L225.3,318.4 L225.3,316.1 L225.4,316.7 L225.4,305.1 L225.5,297.4 L225.5,305.4 L225.6,307.6 L225.6,305.3 L225.7,334.0 L225.7,311.7 L225.8,311.0 L225.8,314.5 L225.9,316.2 L225.9,307.3 L226.0,317.3 L226.0,307.7 L226.1,321.5 L226.1,307.2 L226.2,305.0 L226.2,326.2 L226.3,301.7 L226.3,316.3 L226.4,304.1 L226.4,316.8 L226.5,321.0 L226.5,321.7 L226.6,306.1 L226.6,326.0 L226.7,321.9 L226.7,328.6 L226.8,296.7 L226.8,297.0 L226.9,330.4 L226.9,306.5 L227.0,301.5 L227.0,304.6 L227.1,300.0 L227.1,314.6 L227.2,303.2 L227.2,307.1 L227.3,309.5 L227.3,318.3 L227.4,316.3 L227.4,305.4 L227.5,305.9 L227.6,317.9 L227.6,314.9 L227.7,300.6 L227.7,298.9 L227.8,318.3 L227.8,304.7 L227.9,301.9 L227.9,319.3 L228.0,304.0 L228.0,302.0 L228.1,316.8 L228.1,310.2 L228.2,297.3 L228.2,331.6 L228.3,325.7 L228.3,309.3 L228.4,310.8 L228.4,305.3 L228.5,302.5 L228.5,310.1 L228.6,300.4 L228.6,312.9 L228.7,303.0 L228.7,331.0 L228.8,327.8 L228.8,301.3 L228.9,305.4 L228.9,302.9 L229.0,335.6 L229.0,311.3 L229.1,310.7 L229.1,306.4 L229.2,325.8 L229.2,319.7 L229.3,300.3 L229.3,307.5 L229.4,312.3 L229.4,303.5 L229.5,312.7 L229.5,304.6 L229.6,310.5 L229.6,318.7 L229.7,315.1 L229.7,306.5 L229.8,325.9 L229.8,306.9 L229.9,314.7 L229.9,299.7 L230.0,318.1 L230.0,304.7 L230.1,336.0 L230.1,313.8 L230.2,333.9 L230.2,315.9 L230.3,326.1 L230.4,317.8 L230.4,301.1 L230.5,325.3 L230.5,312.3 L230.6,317.5 L230.6,308.1 L230.7,303.6 L230.7,319.6 L230.8,322.8 L230.8,318.1 L230.9,324.6 L230.9,299.1 L231.0,307.6 L231.0,335.6 L231.1,305.4 L231.1,314.9 L231.2,310.9 L231.2,326.0 L231.3,317.3 L231.3,302.4 L231.4,314.2 L231.4,313.2 L231.5,307.3 L231.5,302.9 L231.6,318.7 L231.6,313.1 L231.7,325.6 L231.7,331.4 L231.8,309.6 L231.8,313.6 L231.9,326.4 L231.9,306.7 L232.0,320.4 L232.0,308.7 L232.1,311.8 L232.1,313.3 L232.2,306.3 L232.2,308.3 L232.3,309.8 L232.3,309.2 L232.4,304.4 L232.4,316.8 L232.5,301.8 L232.5,308.0 L232.6,303.9 L232.6,314.3 L232.7,311.5 L232.7,305.6 L232.8,318.8 L232.8,314.2 L232.9,317.4 L232.9,305.7 L233.0,311.2 L233.0,314.8 L233.1,310.9 L233.1,318.0 L233.2,319.7 L233.3,302.9 L233.3,309.6 L233.4,310.6 L233.4,313.0 L233.5,306.0 L233.5,314.0 L233.6,302.6 L233.6,305.1 L233.7,316.1 L233.7,313.8 L233.8,315.3 L233.8,305.8 L233.9,315.3 L233.9,306.8 L234.0,310.7 L234.0,318.4 L234.1,314.9 L234.1,328.3 L234.2,319.1 L234.2,305.4 L234.3,306.1 L234.3,317.6 L234.4,310.2 L234.4,316.9 L234.5,305.5 L234.5,305.9 L234.6,313.0 L234.6,311.5 L234.7,315.6 L234.7,313.7 L234.8,319.7 L234.8,325.4 L234.9,311.4 L234.9,315.1 L235.0,305.6 L235.0,301.7 L235.1,315.7 L235.1,310.5 L235.2,313.8 L235.2,307.8 L235.3,311.7 L235.3,306.7 L235.4,304.6 L235.4,303.2 L235.5,316.9 L235.5,309.3 L235.6,315.4 L235.6,319.1 L235.7,307.2 L235.7,328.9 L235.8,311.6 L235.8,330.8 L235.9,319.6 L235.9,317.2 L236.0,303.5 L236.1,302.0 L236.1,318.1 L236.2,320.7 L236.2,320.1 L236.3,317.6 L236.3,318.3 L236.4,314.1 L236.4,320.1 L236.5,317.0 L236.5,305.9 L236.6,310.7 L236.6,306.4 L236.7,319.4 L236.7,304.1 L236.8,312.0 L236.8,315.1 L236.9,310.8 L236.9,318.9 L237.0,309.4 L237.0,310.3 L237.1,307.9 L237.1,318.1 L237.2,313.8 L237.2,315.4 L237.3,313.3 L237.3,310.3 L237.4,303.5 L237.4,315.6 L237.5,327.9 L237.5,306.1 L237.6,313.3 L237.6,313.2 L237.7,303.7 L237.7,312.2 L237.8,314.0 L237.8,316.6 L237.9,323.3 L237.9,302.7 L238.0,311.5 L238.0,318.4 L238.1,311.5 L238.1,313.6 L238.2,302.2 L238.2,327.1 L238.3,308.8 L238.3,304.6 L238.4,316.9 L238.4,323.2 L238.5,316.4 L238.5,307.6 L238.6,328.3 L238.6,318.3 L238.7,300.8 L238.7,309.5 L238.8,312.2 L238.8,316.9 L238.9,310.0 L239.0,308.5 L239.0,305.4 L239.1,298.1 L239.1,305.3 L239.2,309.0 L239.2,302.6 L239.3,315.3 L239.3,329.0 L239.4,308.2 L239.4,312.8 L239.5,318.1 L239.5,321.0 L239.6,309.9 L239.6,303.4 L239.7,308.8 L239.7,306.3 L239.8,303.0 L239.8,325.3 L239.9,310.4 L239.9,329.6 L240.0,302.2 L240.0,306.1 L240.1,303.2 L240.1,314.0 L240.2,313.7 L240.2,305.5 L240.3,314.4 L240.3,310.0 L240.4,316.9 L240.4,316.2 L240.5,316.1 L240.5,326.2 L240.6,319.0 L240.6,312.2 L240.7,313.7 L240.7,302.7 L240.8,310.6 L240.8,315.1 L240.9,316.7 L240.9,304.5 L241.0,318.8 L241.0,306.7 L241.1,304.5 L241.1,301.6 L241.2,299.8 L241.2,316.5 L241.3,311.3 L241.3,302.9 L241.4,309.8 L241.4,311.9 L241.5,317.2 L241.5,314.7 L241.6,307.6 L241.6,316.1 L241.7,314.0 L241.8,305.2 L241.8,316.3 L241.9,315.3 L241.9,319.0 L242.0,314.8 L242.0,317.7 L242.1,310.1 L242.1,316.1 L242.2,304.0 L242.2,302.0 L242.3,302.1 L242.3,313.3 L242.4,313.3 L242.4,326.8 L242.5,311.1 L242.5,307.4 L242.6,334.3 L242.6,323.3 L242.7,312.9 L242.7,304.8 L242.8,326.9 L242.8,307.5 L242.9,318.8 L242.9,318.2 L243.0,304.1 L243.0,307.3 L243.1,305.0 L243.1,331.5 L243.2,315.9 L243.2,303.1 L243.3,327.0 L243.3,331.1 L243.4,302.9 L243.4,306.8 L243.5,307.1 L243.5,306.1 L243.6,305.5 L243.6,301.2 L243.7,306.4 L243.7,317.1 L243.8,312.7 L243.8,306.2 L243.9,313.6 L243.9,321.6 L244.0,322.0 L244.0,323.9 L244.1,316.3 L244.1,307.6 L244.2,307.7 L244.2,320.2 L244.3,316.3 L244.3,323.3 L244.4,322.5 L244.4,318.5 L244.5,321.5 L244.5,315.6 L244.6,324.0 L244.7,315.8 L244.7,317.2 L244.8,325.0 L244.8,321.7 L244.9,317.3 L244.9,308.1 L245.0,307.7 L245.0,323.4 L245.1,305.6 L245.1,318.1 L245.2,318.7 L245.2,312.6 L245.3,310.0 L245.3,317.0 L245.4,324.8 L245.4,303.7 L245.5,331.1 L245.5,313.5 L245.6,309.6 L245.6,301.4 L245.7,320.0 L245.7,316.3 L245.8,329.6 L245.8,325.0 L245.9,307.6 L245.9,310.3 L246.0,338.3 L246.0,316.1 L246.1,306.3 L246.1,312.3 L246.2,311.7 L246.2,324.2 L246.3,307.4 L246.3,322.9 L246.4,323.7 L246.4,311.1 L246.5,315.5 L246.5,326.0 L246.6,323.0 L246.6,309.3 L246.7,338.1 L246.7,313.1 L246.8,321.8 L246.8,322.8 L246.9,331.9 L246.9,316.0 L247.0,315.2 L247.0,306.6 L247.1,300.4 L247.1,332.0 L247.2,308.5 L247.2,312.3 L247.3,305.2 L247.3,309.0 L247.4,299.3 L247.5,303.8 L247.5,321.6 L247.6,322.6 L247.6,316.5 L247.7,318.2 L247.7,330.2 L247.8,325.7 L247.8,303.4 L247.9,307.1 L247.9,333.9 L248.0,319.4 L248.0,321.2 L248.1,306.3 L248.1,305.1 L248.2,305.5 L248.2,325.8 L248.3,308.3 L248.3,311.0 L248.4,325.3 L248.4,302.3 L248.5,313.7 L248.5,312.3 L248.6,305.2 L248.6,314.6 L248.7,319.5 L248.7,304.8 L248.8,305.1 L248.8,313.3 L248.9,316.8 L248.9,318.6 L249.0,321.9 L249.0,319.0 L249.1,312.4 L249.1,312.1 L249.2,313.5 L249.2,310.4 L249.3,319.5 L249.3,305.5 L249.4,318.5 L249.4,305.3 L249.5,308.5 L249.5,313.0 L249.6,321.9 L249.6,322.5 L249.7,319.4 L249.7,313.0 L249.8,315.6 L249.8,304.8 L249.9,314.4 L249.9,319.8 L250.0,314.6 L250.0,311.7 L250.1,308.7 L250.1,328.3 L250.2,310.3 L250.2,313.9 L250.3,321.4 L250.4,309.8 L250.4,334.6 L250.5,317.1 L250.5,305.6 L250.6,313.8 L250.6,297.8 L250.7,318.1 L250.7,316.2 L250.8,301.3 L250.8,326.9 L250.9,301.2 L250.9,316.0 L251.0,315.2 L251.0,313.4 L251.1,318.3 L251.1,332.6 L251.2,306.4 L251.2,318.0 L251.3,310.4 L251.3,294.1 L251.4,299.7 L251.4,301.5 L251.5,313.6 L251.5,302.0 L251.6,312.9 L251.6,300.4 L251.7,327.8 L251.7,292.7 L251.8,297.7 L251.8,303.7 L251.9,330.7 L251.9,311.9 L252.0,302.2 L252.0,330.0 L252.1,329.8 L252.1,318.5 L252.2,303.5 L252.2,297.7 L252.3,299.9 L252.3,292.1 L252.4,292.9 L252.4,328.0 L252.5,300.9 L252.5,311.5 L252.6,293.6 L252.6,314.4 L252.7,309.3 L252.7,320.6 L252.8,308.0 L252.8,297.3 L252.9,316.1 L252.9,305.0 L253.0,303.9 L253.0,309.4 L253.1,305.8 L253.2,290.7 L253.2,294.4 L253.3,290.3 L253.3,305.5 L253.4,303.7 L253.4,310.6 L253.5,284.0 L253.5,302.8 L253.6,311.6 L253.6,293.3 L253.7,298.2 L253.7,303.5 L253.8,297.0 L253.8,299.8 L253.9,312.2 L253.9,296.3 L254.0,296.9 L254.0,303.8 L254.1,303.9 L254.1,310.8 L254.2,302.2 L254.2,296.7 L254.3,282.9 L254.3,297.3 L254.4,295.9 L254.4,294.2 L254.5,304.8 L254.5,291.3 L254.6,287.4 L254.6,286.5 L254.7,291.6 L254.7,286.3 L254.8,301.2 L254.8,288.4 L254.9,290.7 L254.9,314.4 L255.0,302.0 L255.0,299.8 L255.1,297.4 L255.1,298.5 L255.2,290.4 L255.2,303.3 L255.3,292.6 L255.3,305.4 L255.4,294.1 L255.4,291.8 L255.5,309.8 L255.5,301.5 L255.6,294.8 L255.6,296.9 L255.7,292.2 L255.7,288.2 L255.8,291.9 L255.8,293.2 L255.9,288.3 L256.0,282.8 L256.0,297.9 L256.1,288.4 L256.1,299.5 L256.2,298.0 L256.2,298.8 L256.3,283.9 L256.3,292.6 L256.4,295.4 L256.4,284.4 L256.5,303.3 L256.5,296.2 L256.6,294.7 L256.6,301.4 L256.7,294.8 L256.7,283.9 L256.8,277.4 L256.8,287.3 L256.9,291.0 L256.9,278.4 L257.0,290.9 L257.0,294.5 L257.1,287.3 L257.1,292.0 L257.2,299.7 L257.2,288.8 L257.3,276.2 L257.3,289.4 L257.4,290.9 L257.4,283.6 L257.5,288.8 L257.5,288.0 L257.6,280.5 L257.6,284.7 L257.7,298.1 L257.7,281.8 L257.8,286.7 L257.8,298.3 L257.9,289.0 L257.9,282.7 L258.0,285.4 L258.0,290.1 L258.1,288.8 L258.1,299.2 L258.2,289.2 L258.2,291.2 L258.3,284.8 L258.3,290.3 L258.4,291.1 L258.4,277.3 L258.5,299.3 L258.5,298.7 L258.6,290.1 L258.6,288.7 L258.7,302.6 L258.7,289.7 L258.8,282.9 L258.9,293.3 L258.9,280.8 L259.0,293.6 L259.0,279.0 L259.1,292.7 L259.1,282.0 L259.2,280.1 L259.2,281.5 L259.3,291.1 L259.3,290.5 L259.4,279.6 L259.4,284.5 L259.5,281.7 L259.5,289.6 L259.6,287.5 L259.6,292.2 L259.7,288.3 L259.7,271.9 L259.8,292.3 L259.8,280.1 L259.9,296.1 L259.9,282.0 L260.0,287.2 L260.0,280.0 L260.1,290.1 L260.1,280.3 L260.2,278.3 L260.2,290.9 L260.3,279.5 L260.3,278.4 L260.4,287.9 L260.4,288.3 L260.5,284.2 L260.5,281.8 L260.6,292.5 L260.6,276.6 L260.7,272.6 L260.7,279.1 L260.8,281.6 L260.8,281.2 L260.9,280.8 L260.9,279.2 L261.0,287.7 L261.0,284.7 L261.1,290.2 L261.1,297.0 L261.2,283.4 L261.2,285.7 L261.3,289.7 L261.3,278.3 L261.4,276.4 L261.4,284.9 L261.5,284.1 L261.5,286.2 L261.6,285.4 L261.7,280.1 L261.7,291.8 L261.8,292.7 L261.8,280.2 L261.9,299.0 L261.9,292.1 L262.0,285.3 L262.0,285.3 L262.1,290.5 L262.1,278.6 L262.2,277.9 L262.2,286.7 L262.3,273.6 L262.3,279.0 L262.4,277.5 L262.4,278.3 L262.5,290.7 L262.5,282.1 L262.6,277.7 L262.6,300.4 L262.7,278.3 L262.7,291.8 L262.8,279.9 L262.8,281.8 L262.9,282.0 L262.9,275.5 L263.0,286.1 L263.0,274.6 L263.1,290.7 L263.1,282.3 L263.2,281.2 L263.2,275.0 L263.3,284.4 L263.3,292.9 L263.4,294.2 L263.4,299.2 L263.5,291.1 L263.5,299.9 L263.6,292.0 L263.6,286.7 L263.7,282.6 L263.7,289.9 L263.8,287.1 L263.8,284.6 L263.9,287.2 L263.9,295.4 L264.0,283.2 L264.0,277.5 L264.1,304.4 L264.1,296.1 L264.2,304.0 L264.2,283.3 L264.3,301.9 L264.3,282.2 L264.4,276.9 L264.4,277.4 L264.5,282.3 L264.6,293.4 L264.6,286.8 L264.7,293.2 L264.7,286.3 L264.8,301.9 L264.8,284.0 L264.9,289.9 L264.9,288.3 L265.0,277.8 L265.0,283.1 L265.1,285.8 L265.1,271.4 L265.2,276.6 L265.2,281.7 L265.3,303.4 L265.3,300.0 L265.4,274.1 L265.4,281.9 L265.5,296.6 L265.5,278.0 L265.6,291.3 L265.6,287.6 L265.7,295.4 L265.7,287.6 L265.8,287.1 L265.8,279.6 L265.9,293.3 L265.9,279.6 L266.0,284.0 L266.0,297.5 L266.1,278.1 L266.1,292.2 L266.2,289.1 L266.2,279.0 L266.3,289.3 L266.3,288.1 L266.4,295.0 L266.4,297.0 L266.5,279.9 L266.5,295.3 L266.6,279.7 L266.6,292.1 L266.7,296.7 L266.7,293.8 L266.8,285.5 L266.8,305.8 L266.9,294.6 L266.9,284.3 L267.0,291.7 L267.0,295.1 L267.1,285.1 L267.1,291.7 L267.2,285.0 L267.2,294.0 L267.3,301.2 L267.4,282.1 L267.4,293.8 L267.5,297.1 L267.5,286.4 L267.6,280.9 L267.6,289.7 L267.7,292.1 L267.7,284.6 L267.8,279.0 L267.8,290.4 L267.9,282.3 L267.9,285.7 L268.0,292.1 L268.0,280.1 L268.1,287.2 L268.1,280.8 L268.2,289.5 L268.2,285.1 L268.3,299.6 L268.3,281.5 L268.4,289.3 L268.4,305.8 L268.5,288.0 L268.5,276.9 L268.6,302.2 L268.6,293.0 L268.7,299.1 L268.7,286.0 L268.8,294.9 L268.8,291.2 L268.9,294.3 L268.9,289.2 L269.0,294.1 L269.0,295.8 L269.1,276.2 L269.1,275.6 L269.2,293.9 L269.2,304.7 L269.3,280.0 L269.3,286.5 L269.4,293.4 L269.4,277.5 L269.5,290.4 L269.5,285.1 L269.6,292.5 L269.6,276.8 L269.7,289.0 L269.7,282.3 L269.8,289.2 L269.8,277.9 L269.9,296.3 L269.9,294.8 L270.0,283.8 L270.0,285.2 L270.1,295.0 L270.1,290.7 L270.2,286.0 L270.3,301.5 L270.3,282.3 L270.4,306.2 L270.4,294.0 L270.5,303.1 L270.5,290.0 L270.6,271.7 L270.6,294.3 L270.7,279.5 L270.7,278.2 L270.8,292.1 L270.8,305.1 L270.9,307.6 L270.9,295.4 L271.0,290.4 L271.0,295.3 L271.1,289.7 L271.1,295.3 L271.2,295.1 L271.2,277.8 L271.3,278.0 L271.3,277.5 L271.4,290.8 L271.4,303.6 L271.5,301.5 L271.5,279.7 L271.6,295.8 L271.6,293.6 L271.7,278.4 L271.7,280.7 L271.8,277.6 L271.8,296.3 L271.9,293.7 L271.9,280.2 L272.0,294.1 L272.0,283.1 L272.1,290.0 L272.1,288.6 L272.2,281.2 L272.2,301.5 L272.3,281.1 L272.3,292.6 L272.4,281.6 L272.4,281.1 L272.5,277.9 L272.5,284.0 L272.6,286.6 L272.6,283.9 L272.7,292.8 L272.7,305.5 L272.8,278.6 L272.8,288.7 L272.9,277.4 L272.9,294.2 L273.0,271.6 L273.1,307.7 L273.1,281.3 L273.2,299.7 L273.2,293.5 L273.3,282.3 L273.3,300.5 L273.4,274.4 L273.4,286.0 L273.5,274.3 L273.5,289.5 L273.6,277.4 L273.6,273.1 L273.7,297.7 L273.7,289.0 L273.8,290.8 L273.8,288.6 L273.9,270.0 L273.9,291.4 L274.0,271.4 L274.0,282.4 L274.1,290.4 L274.1,289.8 L274.2,271.1 L274.2,293.1 L274.3,295.4 L274.3,284.8 L274.4,294.7 L274.4,283.6 L274.5,301.3 L274.5,276.3 L274.6,292.3 L274.6,279.8 L274.7,294.1 L274.7,277.3 L274.8,287.8 L274.8,275.6 L274.9,285.8 L274.9,285.0 L275.0,300.5 L275.0,294.1 L275.1,296.8 L275.1,287.5 L275.2,301.2 L275.2,286.6 L275.3,285.1 L275.3,269.9 L275.4,293.1 L275.4,285.1 L275.5,280.5 L275.5,278.7 L275.6,282.9 L275.6,287.7 L275.7,302.6 L275.7,274.1 L275.8,295.2 L275.8,276.1 L275.9,273.8 L276.0,278.5 L276.0,281.4 L276.1,278.2 L276.1,294.9 L276.2,282.6 L276.2,287.9 L276.3,280.7 L276.3,283.2 L276.4,294.8 L276.4,282.9 L276.5,280.6 L276.5,280.4 L276.6,295.6 L276.6,289.0 L276.7,292.1 L276.7,280.4 L276.8,285.1 L276.8,281.1 L276.9,293.1 L276.9,277.6 L277.0,288.2 L277.0,278.1 L277.1,282.9 L277.1,285.1 L277.2,291.8 L277.2,294.0 L277.3,290.6 L277.3,290.3 L277.4,291.4 L277.4,287.6 L277.5,288.2 L277.5,292.4 L277.6,285.0 L277.6,278.0 L277.7,292.4 L277.7,290.3 L277.8,272.2 L277.8,277.4 L277.9,292.9 L277.9,288.7 L278.0,276.3 L278.0,299.7 L278.1,302.5 L278.1,284.1 L278.2,302.3 L278.2,282.5 L278.3,286.6 L278.3,283.2 L278.4,289.9 L278.4,287.3 L278.5,290.6 L278.5,284.3 L278.6,293.1 L278.6,279.0 L278.7,274.3 L278.8,281.7 L278.8,281.5 L278.9,290.7 L278.9,282.1 L279.0,283.0 L279.0,286.0 L279.1,272.4 L279.1,305.2 L279.2,305.7 L279.2,280.4 L279.3,282.2 L279.3,292.9 L279.4,292.1 L279.4,282.7 L279.5,291.1 L279.5,290.4 L279.6,304.8 L279.6,292.6 L279.7,278.4 L279.7,280.3 L279.8,295.6 L279.8,285.7 L279.9,278.3 L279.9,290.0 L280.0,299.3 L280.0,278.6 L280.1,289.0 L280.1,287.1 L280.2,278.7 L280.2,296.0 L280.3,280.9 L280.3,302.5 L280.4,277.8 L280.4,286.1 L280.5,295.8 L280.5,277.6 L280.6,278.8 L280.6,283.7 L280.7,290.3 L280.7,277.2 L280.8,279.6 L280.8,304.7 L280.9,288.9 L280.9,282.4 L281.0,280.3 L281.0,306.7 L281.1,292.4 L281.1,285.8 L281.2,281.9 L281.2,281.8 L281.3,280.6 L281.3,282.1 L281.4,288.7 L281.4,294.5 L281.5,286.6 L281.6,278.4 L281.6,301.4 L281.7,287.7 L281.7,280.0 L281.8,278.9 L281.8,277.3 L281.9,296.2 L281.9,297.1 L282.0,290.2 L282.0,281.7 L282.1,296.9 L282.1,286.1 L282.2,290.8 L282.2,287.1 L282.3,294.4 L282.3,282.2 L282.4,292.9 L282.4,293.1 L282.5,298.2 L282.5,290.2 L282.6,287.4 L282.6,287.3 L282.7,274.9 L282.7,287.1 L282.8,290.6 L282.8,281.4 L282.9,277.7 L282.9,285.1 L283.0,294.8 L283.0,293.2 L283.1,280.5 L283.1,308.0 L283.2,281.4 L283.2,280.0 L283.3,286.3 L283.3,277.9 L283.4,288.0 L283.4,278.5 L283.5,293.0 L283.5,299.6 L283.6,298.1 L283.6,292.9 L283.7,276.1 L283.7,290.3 L283.8,295.1 L283.8,282.4 L283.9,292.5 L283.9,308.8 L284.0,277.3 L284.0,287.4 L284.1,290.4 L284.1,298.9 L284.2,300.1 L284.2,285.4 L284.3,288.1 L284.3,300.9 L284.4,285.2 L284.5,285.8 L284.5,291.1 L284.6,294.0 L284.6,291.0 L284.7,289.3 L284.7,289.0 L284.8,308.2 L284.8,280.4 L284.9,298.1 L284.9,280.9 L285.0,303.4 L285.0,301.3 L285.1,289.4 L285.1,312.9 L285.2,298.8 L285.2,305.4 L285.3,285.5 L285.3,309.7 L285.4,290.3 L285.4,300.6 L285.5,302.7 L285.5,302.9 L285.6,312.8 L285.6,288.6 L285.7,293.4 L285.7,289.5 L285.8,315.0 L285.8,290.7 L285.9,295.9 L285.9,284.1 L286.0,288.7 L286.0,289.4 L286.1,300.9 L286.1,305.0 L286.2,298.4 L286.2,287.8 L286.3,308.0 L286.3,303.3 L286.4,303.6 L286.4,298.5 L286.5,309.8 L286.5,312.4 L286.6,307.9 L286.6,288.8 L286.7,295.6 L286.7,305.9 L286.8,301.4 L286.8,293.9 L286.9,305.1 L286.9,301.9 L287.0,305.5 L287.0,289.5 L287.1,300.5 L287.1,305.3 L287.2,297.6 L287.3,289.5 L287.3,294.5 L287.4,294.4 L287.4,305.8 L287.5,310.0 L287.5,293.8 L287.6,316.2 L287.6,294.9 L287.7,309.3 L287.7,302.5 L287.8,299.9 L287.8,300.5 L287.9,303.8 L287.9,293.3 L288.0,290.9 L288.0,298.6 L288.1,297.9 L288.1,299.9 L288.2,309.8 L288.2,291.2 L288.3,295.5 L288.3,303.5 L288.4,290.0 L288.4,307.6 L288.5,305.4 L288.5,294.3 L288.6,314.2 L288.6,300.1 L288.7,297.5 L288.7,302.8 L288.8,299.9 L288.8,296.7 L288.9,301.8 L288.9,300.0 L289.0,294.5 L289.0,303.3 L289.1,298.0 L289.1,314.6 L289.2,302.3 L289.2,316.5 L289.3,305.4 L289.3,295.1 L289.4,296.8 L289.4,293.1 L289.5,302.6 L289.5,289.7 L289.6,311.2 L289.6,302.6 L289.7,307.7 L289.7,310.6 L289.8,305.0 L289.8,295.6 L289.9,299.4 L289.9,292.7 L290.0,301.4 L290.0,307.7 L290.1,303.8 L290.2,301.2 L290.2,309.9 L290.3,290.2 L290.3,299.0 L290.4,300.4 L290.4,297.0 L290.5,304.7 L290.5,300.7 L290.6,297.8 L290.6,309.2 L290.7,307.9 L290.7,299.5 L290.8,295.4 L290.8,304.3 L290.9,311.0 L290.9,310.7 L291.0,308.9 L291.0,304.4 L291.1,309.3 L291.1,309.5 L291.2,298.3 L291.2,311.6 L291.3,311.4 L291.3,310.3 L291.4,311.7 L291.4,304.3 L291.5,312.1 L291.5,302.5 L291.6,310.2 L291.6,298.4 L291.7,306.8 L291.7,315.5 L291.8,312.0 L291.8,310.8 L291.9,300.7 L291.9,307.1 L292.0,299.7 L292.0,293.7 L292.1,316.0 L292.1,301.1 L292.2,303.2 L292.2,315.8 L292.3,302.9 L292.3,298.7 L292.4,311.2 L292.4,303.2 L292.5,310.7 L292.5,318.5 L292.6,300.1 L292.6,300.3 L292.7,308.0 L292.7,302.6 L292.8,312.0 L292.8,308.0 L292.9,297.1 L293.0,299.6 L293.0,294.2 L293.1,314.5 L293.1,300.1 L293.2,301.8 L293.2,294.6 L293.3,316.8 L293.3,298.0 L293.4,304.3 L293.4,296.2 L293.5,297.6 L293.5,299.3 L293.6,305.8 L293.6,311.6 L293.7,296.3 L293.7,297.1 L293.8,305.1 L293.8,297.9 L293.9,310.5 L293.9,294.0 L294.0,304.0 L294.0,317.3 L294.1,305.9 L294.1,308.7 L294.2,306.5 L294.2,300.7 L294.3,302.1 L294.3,307.7 L294.4,306.9 L294.4,319.8 L294.5,294.1 L294.5,318.7 L294.6,318.8 L294.6,304.4 L294.7,311.9 L294.7,305.6 L294.8,304.5 L294.8,321.1 L294.9,302.3 L294.9,297.4 L295.0,302.8 L295.0,299.9 L295.1,320.7 L295.1,298.1 L295.2,299.0 L295.2,321.1 L295.3,312.0 L295.3,315.1 L295.4,310.6 L295.4,304.5 L295.5,312.1 L295.5,312.0 L295.6,305.3 L295.6,308.1 L295.7,304.6 L295.7,317.9 L295.8,308.1 L295.9,295.5 L295.9,299.0 L296.0,317.2 L296.0,305.7 L296.1,307.0 L296.1,303.8 L296.2,308.9 L296.2,308.8 L296.3,305.9 L296.3,319.6 L296.4,306.1 L296.4,309.5 L296.5,301.6 L296.5,313.1 L296.6,315.2 L296.6,310.6 L296.7,301.1 L296.7,302.4 L296.8,294.9 L296.8,305.5 L296.9,303.2 L296.9,293.1 L297.0,306.4 L297.0,306.2 L297.1,311.8 L297.1,304.6 L297.2,302.8 L297.2,306.9 L297.3,306.3 L297.3,308.8 L297.4,301.2 L297.4,320.6 L297.5,314.0 L297.5,308.9 L297.6,301.1 L297.6,299.5 L297.7,309.9 L297.7,313.6 L297.8,301.5 L297.8,315.1 L297.9,296.3 L297.9,308.6 L298.0,301.9 L298.0,306.3 L298.1,321.8 L298.1,315.3 L298.2,304.0 L298.2,310.1 L298.3,316.5 L298.3,308.2 L298.4,310.7 L298.4,304.4 L298.5,300.6 L298.5,303.7 L298.6,301.0 L298.7,310.0 L298.7,304.3 L298.8,307.0 L298.8,315.9 L298.9,320.0 L298.9,298.6 L299.0,314.2 L299.0,302.9 L299.1,313.1 L299.1,310.0 L299.2,323.0 L299.2,306.2 L299.3,302.0 L299.3,313.6 L299.4,309.6 L299.4,311.9 L299.5,313.4 L299.5,305.3 L299.6,311.7 L299.6,317.4 L299.7,309.0 L299.7,324.2 L299.8,307.6 L299.8,322.4 L299.9,316.6 L299.9,307.3 L300.0,320.7 L300.0,308.3 L300.1,315.8 L300.1,304.3 L300.2,306.8 L300.2,311.0 L300.3,307.6 L300.3,304.8 L300.4,307.8 L300.4,297.6 L300.5,312.5 L300.5,316.8 L300.6,305.5 L300.6,303.5 L300.7,320.5 L300.7,304.0 L300.8,310.8 L300.8,306.5 L300.9,324.4 L300.9,314.0 L301.0,312.9 L301.0,300.0 L301.1,316.0 L301.1,312.7 L301.2,308.9 L301.2,312.8 L301.3,316.0 L301.3,305.3 L301.4,320.1 L301.4,320.2 L301.5,329.3 L301.6,314.2 L301.6,329.8 L301.7,306.0 L301.7,327.2 L301.8,316.6 L301.8,308.2 L301.9,321.3 L301.9,320.3 L302.0,315.7 L302.0,309.0 L302.1,302.9 L302.1,309.5 L302.2,313.4 L302.2,320.8 L302.3,311.3 L302.3,311.9 L302.4,321.8 L302.4,322.6 L302.5,303.8 L302.5,309.5 L302.6,308.8 L302.6,311.2 L302.7,329.0 L302.7,319.1 L302.8,304.0 L302.8,313.2 L302.9,322.5 L302.9,305.8 L303.0,321.1 L303.0,314.9 L303.1,318.5 L303.1,311.1 L303.2,317.2 L303.2,313.6 L303.3,309.7 L303.3,318.0 L303.4,313.5 L303.4,310.4 L303.5,331.3 L303.5,316.5 L303.6,327.5 L303.6,327.2 L303.7,323.6 L303.7,309.8 L303.8,313.2 L303.8,317.1 L303.9,317.2 L303.9,323.4 L304.0,318.7 L304.0,311.9 L304.1,311.3 L304.1,314.5 L304.2,306.0 L304.2,324.0 L304.3,321.8 L304.4,321.5 L304.4,307.8 L304.5,321.1 L304.5,310.4 L304.6,307.6 L304.6,323.5 L304.7,306.1 L304.7,324.5 L304.8,312.1 L304.8,312.4 L304.9,321.2 L304.9,329.5 L305.0,315.0 L305.0,317.7 L305.1,307.9 L305.1,307.7 L305.2,320.5 L305.2,331.6 L305.3,322.4 L305.3,321.3 L305.4,319.7 L305.4,331.9 L305.5,318.4 L305.5,302.2 L305.6,306.9 L305.6,318.6 L305.7,302.6 L305.7,322.2 L305.8,311.7 L305.8,313.5 L305.9,310.3 L305.9,329.7 L306.0,322.4 L306.0,322.0 L306.1,316.8 L306.1,314.5 L306.2,326.2 L306.2,315.7 L306.3,321.1 L306.3,316.7 L306.4,319.9 L306.4,303.5 L306.5,312.9 L306.5,308.5 L306.6,314.1 L306.6,330.8 L306.7,314.3 L306.7,314.6 L306.8,322.3 L306.8,317.4 L306.9,315.4 L306.9,306.5 L307.0,306.5 L307.0,307.3 L307.1,320.9 L307.2,315.3 L307.2,315.0 L307.3,311.6 L307.3,315.3 L307.4,309.4 L307.4,304.2 L307.5,328.7 L307.5,303.0 L307.6,320.4 L307.6,312.3 L307.7,304.6 L307.7,323.1 L307.8,318.9 L307.8,302.6 L307.9,332.5 L307.9,311.8 L308.0,325.7 L308.0,310.4 L308.1,304.5 L308.1,322.9 L308.2,304.2 L308.2,311.0 L308.3,307.4 L308.3,333.0 L308.4,314.6 L308.4,316.3 L308.5,312.6 L308.5,315.4 L308.6,316.9 L308.6,316.2 L308.7,323.4 L308.7,312.4 L308.8,323.4 L308.8,319.8 L308.9,324.9 L308.9,323.7 L309.0,323.4 L309.0,310.3 L309.1,324.6 L309.1,323.2 L309.2,312.9 L309.2,309.6 L309.3,315.2 L309.3,320.9 L309.4,312.4 L309.4,311.3 L309.5,311.8 L309.5,314.7 L309.6,330.8 L309.6,324.1 L309.7,312.4 L309.7,310.2 L309.8,303.5 L309.8,322.9 L309.9,310.6 L309.9,305.5 L310.0,310.8 L310.1,303.1 L310.1,306.5 L310.2,319.0 L310.2,317.9 L310.3,310.0 L310.3,324.6 L310.4,323.0 L310.4,310.8 L310.5,332.4 L310.5,330.9 L310.6,330.7 L310.6,329.9 L310.7,312.5 L310.7,321.9 L310.8,309.1 L310.8,333.2 L310.9,312.8 L310.9,323.9 L311.0,317.7 L311.0,315.1 L311.1,317.5 L311.1,317.3 L311.2,324.5 L311.2,310.0 L311.3,319.3 L311.3,333.5 L311.4,314.0 L311.4,316.9 L311.5,314.6 L311.5,314.6 L311.6,312.6 L311.6,322.6 L311.7,312.6 L311.7,323.2 L311.8,314.5 L311.8,318.9 L311.9,312.1 L311.9,315.2 L312.0,323.5 L312.0,316.0 L312.1,323.0 L312.1,323.9 L312.2,327.1 L312.2,317.3 L312.3,327.0 L312.3,326.4 L312.4,315.7 L312.4,307.3 L312.5,313.1 L312.5,333.5 L312.6,325.8 L312.6,321.2 L312.7,316.4 L312.7,329.5 L312.8,325.2 L312.9,323.5 L312.9,320.6 L313.0,309.5 L313.0,333.6 L313.1,321.4 L313.1,311.5 L313.2,325.3 L313.2,322.3 L313.3,320.4 L313.3,316.2 L313.4,315.1 L313.4,317.3 L313.5,321.3 L313.5,314.4 L313.6,318.8 L313.6,315.2 L313.7,314.6 L313.7,318.5 L313.8,313.1 L313.8,318.9 L313.9,331.3 L313.9,314.6 L314.0,336.5 L314.0,319.3 L314.1,328.8 L314.1,313.0 L314.2,322.0 L314.2,315.0 L314.3,313.7 L314.3,328.8 L314.4,323.1 L314.4,316.6 L314.5,321.8 L314.5,317.6 L314.6,318.6 L314.6,310.3 L314.7,326.3 L314.7,324.3 L314.8,334.8 L314.8,315.2 L314.9,321.4 L314.9,324.8 L315.0,319.0 L315.0,326.1 L315.1,322.2 L315.1,323.2 L315.2,314.5 L315.2,328.1 L315.3,328.6 L315.3,319.4 L315.4,319.4 L315.4,328.2 L315.5,322.2 L315.5,322.4 L315.6,326.5 L315.6,310.7 L315.7,322.5 L315.8,327.3 L315.8,327.5 L315.9,328.2 L315.9,328.0 L316.0,323.7 L316.0,316.4 L316.1,326.2 L316.1,336.9 L316.2,327.1 L316.2,312.7 L316.3,317.1 L316.3,335.0 L316.4,315.3 L316.4,324.5 L316.5,329.5 L316.5,309.9 L316.6,324.3 L316.6,314.6 L316.7,312.3 L316.7,314.0 L316.8,320.5 L316.8,322.4 L316.9,318.0 L316.9,314.0 L317.0,316.1 L317.0,315.0 L317.1,320.0 L317.1,322.4 L317.2,316.7 L317.2,330.7 L317.3,333.7 L317.3,318.3 L317.4,324.0 L317.4,317.6 L317.5,325.8 L317.5,327.2 L317.6,324.3 L317.6,315.6 L317.7,312.3 L317.7,321.6 L317.8,322.6 L317.8,326.6 L317.9,317.7 L317.9,326.1 L318.0,311.3 L318.0,328.1 L318.1,330.5 L318.1,315.6 L318.2,328.5 L318.2,324.6 L318.3,315.1 L318.3,335.6 L318.4,329.6 L318.4,334.9 L318.5,317.6 L318.6,330.9 L318.6,330.5 L318.7,329.0 L318.7,325.4 L318.8,325.2 L318.8,323.1 L318.9,315.3 L318.9,324.7 L319.0,331.0 L319.0,310.9 L319.1,323.2 L319.1,316.0 L319.2,312.8 L319.2,317.3 L319.3,325.0 L319.3,325.3 L319.4,324.0 L319.4,319.6 L319.5,323.9 L319.5,323.9 L319.6,335.5 L319.6,325.2 L319.7,323.8 L319.7,314.5 L319.8,326.6 L319.8,326.1 L319.9,317.5 L319.9,329.5 L320.0,318.0 L320.0,328.2 L320.1,316.0 L320.1,316.7 L320.2,328.5 L320.2,321.6 L320.3,309.2 L320.3,324.0 L320.4,325.8 L320.4,326.2 L320.5,328.2 L320.5,328.4 L320.6,318.9 L320.6,321.3 L320.7,312.8 L320.7,320.6 L320.8,326.8 L320.8,335.4 L320.9,332.7 L320.9,325.9 L321.0,321.3 L321.0,328.2 L321.1,310.3 L321.1,310.3 L321.2,338.2 L321.2,321.6 L321.3,328.1 L321.3,319.9 L321.4,312.8 L321.5,329.0 L321.5,318.6 L321.6,325.9 L321.6,323.3 L321.7,320.4 L321.7,318.2 L321.8,324.3 L321.8,326.1 L321.9,327.0 L321.9,322.6 L322.0,316.1 L322.0,333.3 L322.1,317.1 L322.1,320.3 L322.2,336.3 L322.2,317.6 L322.3,324.7 L322.3,319.0 L322.4,338.0 L322.4,326.8 L322.5,326.8 L322.5,326.7 L322.6,329.7 L322.6,338.7 L322.7,318.2 L322.7,330.2 L322.8,320.3 L322.8,322.5 L322.9,312.6 L322.9,323.2 L323.0,314.2 L323.0,340.3 L323.1,322.3 L323.1,314.7 L323.2,324.0 L323.2,322.4 L323.3,315.5 L323.3,325.3 L323.4,320.9 L323.4,333.1 L323.5,320.9 L323.5,333.0 L323.6,330.0 L323.6,323.2 L323.7,320.5 L323.7,328.0 L323.8,331.1 L323.8,332.8 L323.9,324.4 L323.9,323.7 L324.0,320.0 L324.0,322.8 L324.1,330.4 L324.1,328.3 L324.2,317.8 L324.3,334.5 L324.3,327.1 L324.4,337.9 L324.4,325.3 L324.5,326.0 L324.5,327.2 L324.6,314.2 L324.6,321.9 L324.7,329.4 L324.7,321.3 L324.8,325.6 L324.8,335.6 L324.9,337.0 L324.9,324.2 L325.0,334.8 L325.0,324.4 L325.1,332.5 L325.1,331.8 L325.2,334.2 L325.2,327.9 L325.3,342.4 L325.3,340.5 L325.4,320.5 L325.4,336.6 L325.5,327.8 L325.5,326.2 L325.6,326.0 L325.6,337.8 L325.7,330.1 L325.7,324.9 L325.8,321.0 L325.8,331.4 L325.9,328.4 L325.9,320.4 L326.0,323.6 L326.0,319.2 L326.1,331.8 L326.1,315.4 L326.2,330.2 L326.2,328.3 L326.3,322.3 L326.3,330.0 L326.4,326.8 L326.4,337.1 L326.5,320.6 L326.5,323.2 L326.6,337.5 L326.6,326.8 L326.7,325.8 L326.7,342.0 L326.8,338.9 L326.8,331.6 L326.9,322.6 L326.9,322.3 L327.0,319.3 L327.0,325.5 L327.1,316.5 L327.2,335.3 L327.2,340.8 L327.3,326.2 L327.3,323.4 L327.4,324.1 L327.4,314.5 L327.5,337.9 L327.5,320.7 L327.6,321.6 L327.6,337.1 L327.7,323.7 L327.7,319.9 L327.8,317.7 L327.8,332.2 L327.9,329.9 L327.9,328.8 L328.0,331.8 L328.0,331.2 L328.1,318.3 L328.1,334.8 L328.2,341.1 L328.2,329.4 L328.3,333.7 L328.3,322.5 L328.4,335.4 L328.4,334.4 L328.5,328.3 L328.5,332.1 L328.6,330.6 L328.6,327.1 L328.7,320.7 L328.7,328.2 L328.8,342.4 L328.8,327.4 L328.9,317.6 L328.9,328.1 L329.0,341.6 L329.0,334.3 L329.1,333.3 L329.1,323.1 L329.2,331.8 L329.2,324.9 L329.3,319.4 L329.3,335.8 L329.4,335.0 L329.4,328.5 L329.5,325.1 L329.5,336.6 L329.6,324.8 L329.6,334.4 L329.7,326.8 L329.7,324.9 L329.8,319.7 L329.8,333.8 L329.9,337.1 L330.0,335.7 L330.0,337.4 L330.1,335.1 L330.1,329.3 L330.2,347.2 L330.2,333.9 L330.3,326.3 L330.3,320.6 L330.4,325.7 L330.4,346.6 L330.5,339.7 L330.5,344.6 L330.6,337.0 L330.6,342.9 L330.7,326.6 L330.7,345.6 L330.8,333.9 L330.8,338.9 L330.9,332.3 L330.9,319.2 L331.0,336.2 L331.0,339.1 L331.1,329.8 L331.1,338.6 L331.2,329.4 L331.2,328.2 L331.3,332.2 L331.3,342.3 L331.4,333.5 L331.4,333.0 L331.5,325.7 L331.5,325.7 L331.6,339.2 L331.6,345.4 L331.7,330.4 L331.7,333.7 L331.8,338.4 L331.8,318.5 L331.9,325.1 L331.9,336.1 L332.0,335.0 L332.0,332.9 L332.1,332.9 L332.1,330.3 L332.2,325.1 L332.2,337.1 L332.3,338.7 L332.3,332.7 L332.4,333.0 L332.4,339.9 L332.5,330.3 L332.5,325.3 L332.6,329.3 L332.6,329.0 L332.7,334.1 L332.8,329.6 L332.8,338.7 L332.9,326.1 L332.9,341.2 L333.0,331.2 L333.0,333.7 L333.1,345.5 L333.1,327.3 L333.2,352.8 L333.2,330.2 L333.3,329.0 L333.3,329.5 L333.4,331.9 L333.4,341.4 L333.5,325.5 L333.5,335.9 L333.6,332.4 L333.6,337.9 L333.7,348.7 L333.7,331.9 L333.8,354.9 L333.8,332.7 L333.9,342.5 L333.9,341.5 L334.0,336.6 L334.0,351.8 L334.1,339.7 L334.1,344.0 L334.2,332.1 L334.2,335.9 L334.3,343.1 L334.3,330.6 L334.4,334.8 L334.4,342.5 L334.5,333.7 L334.5,328.7 L334.6,334.8 L334.6,335.3 L334.7,329.5 L334.7,323.1 L334.8,338.2 L334.8,343.3 L334.9,347.0 L334.9,328.8 L335.0,331.8 L335.0,354.9 L335.1,333.5 L335.1,344.0 L335.2,343.8 L335.2,355.1 L335.3,354.0 L335.3,342.9 L335.4,344.3 L335.4,347.4 L335.5,346.8 L335.5,332.9 L335.6,342.8 L335.7,347.0 L335.7,341.4 L335.8,342.9 L335.8,342.0 L335.9,333.3 L335.9,343.7 L336.0,339.3 L336.0,330.7 L336.1,342.9 L336.1,345.6 L336.2,340.0 L336.2,337.0 L336.3,331.9 L336.3,337.4 L336.4,334.4 L336.4,330.9 L336.5,324.3 L336.5,341.4 L336.6,341.5 L336.6,337.7 L336.7,332.7 L336.7,357.4 L336.8,346.2 L336.8,336.9 L336.9,329.7 L336.9,341.1 L337.0,336.1 L337.0,342.0 L337.1,323.5 L337.1,340.6 L337.2,334.2 L337.2,332.1 L337.3,328.2 L337.3,351.2 L337.4,337.7 L337.4,342.8 L337.5,338.4 L337.5,332.4 L337.6,334.9 L337.6,325.4 L337.7,340.4 L337.7,325.1 L337.8,328.7 L337.8,343.0 L337.9,333.6 L337.9,330.6 L338.0,339.2 L338.0,335.7 L338.1,329.3 L338.1,334.3 L338.2,330.1 L338.2,335.1 L338.3,321.8 L338.3,333.3 L338.4,322.1 L338.5,347.4 L338.5,322.6 L338.6,332.4 L338.6,335.1 L338.7,326.4 L338.7,313.9 L338.8,328.3 L338.8,325.6 L338.9,334.3 L338.9,331.2 L339.0,325.4 L339.0,342.5 L339.1,317.4 L339.1,328.3 L339.2,319.0 L339.2,312.5 L339.3,321.7 L339.3,315.1 L339.4,320.6 L339.4,313.7 L339.5,327.3 L339.5,319.0 L339.6,318.2 L339.6,313.0 L339.7,322.8 L339.7,317.7 L339.8,311.4 L339.8,327.1 L339.9,313.9 L339.9,310.0 L340.0,314.4 L340.0,320.6 L340.1,324.7 L340.1,329.1 L340.2,305.0 L340.2,314.2 L340.3,304.0 L340.3,305.6 L340.4,330.4 L340.4,324.3 L340.5,319.4 L340.5,310.2 L340.6,325.9 L340.6,311.6 L340.7,313.7 L340.7,310.5 L340.8,319.9 L340.8,308.3 L340.9,305.0 L340.9,311.0 L341.0,303.2 L341.0,303.9 L341.1,301.8 L341.1,313.7 L341.2,312.0 L341.2,306.1 L341.3,308.7 L341.4,306.2 L341.4,303.1 L341.5,322.2 L341.5,310.3 L341.6,319.0 L341.6,307.7 L341.7,311.5 L341.7,322.8 L341.8,296.2 L341.8,307.0 L341.9,307.0 L341.9,313.7 L342.0,297.4 L342.0,303.5 L342.1,312.2 L342.1,319.6 L342.2,309.3 L342.2,303.0 L342.3,304.2 L342.3,312.4 L342.4,301.8 L342.4,299.8 L342.5,300.8 L342.5,308.3 L342.6,320.6 L342.6,308.7 L342.7,296.2 L342.7,300.8 L342.8,302.4 L342.8,314.0 L342.9,318.9 L342.9,309.7 L343.0,315.0 L343.0,310.5 L343.1,320.6 L343.1,323.6 L343.2,311.0 L343.2,320.5 L343.3,322.1 L343.3,313.0 L343.4,307.6 L343.4,302.6 L343.5,308.6 L343.5,322.9 L343.6,313.0 L343.6,301.7 L343.7,323.8 L343.7,315.2 L343.8,312.7 L343.8,306.3 L343.9,302.5 L343.9,316.7 L344.0,311.4 L344.0,302.6 L344.1,316.7 L344.2,325.9 L344.2,311.7 L344.3,307.1 L344.3,302.4 L344.4,304.1 L344.4,310.2 L344.5,325.0 L344.5,315.6 L344.6,308.8 L344.6,306.5 L344.7,304.1 L344.7,300.9 L344.8,320.4 L344.8,302.6 L344.9,306.5 L344.9,318.3 L345.0,312.6 L345.0,298.9 L345.1,299.2 L345.1,324.6 L345.2,309.3 L345.2,315.4 L345.3,314.8 L345.3,316.6 L345.4,319.6 L345.4,312.1 L345.5,311.0 L345.5,317.6 L345.6,305.1 L345.6,310.7 L345.7,303.3 L345.7,312.8 L345.8,322.5 L345.8,302.8 L345.9,316.3 L345.9,316.3 L346.0,307.4 L346.0,309.1 L346.1,301.1 L346.1,320.5 L346.2,320.8 L346.2,312.3 L346.3,310.3 L346.3,309.3 L346.4,306.8 L346.4,324.3 L346.5,304.1 L346.5,313.6 L346.6,296.1 L346.6,320.6 L346.7,311.3 L346.7,309.5 L346.8,307.3 L346.8,306.6 L346.9,297.1 L346.9,308.0 L347.0,309.5 L347.1,313.8 L347.1,324.0 L347.2,313.7 L347.2,316.7 L347.3,316.4 L347.3,315.7 L347.4,316.7 L347.4,309.1 L347.5,310.8 L347.5,313.4 L347.6,316.7 L347.6,303.6 L347.7,311.6 L347.7,309.7 L347.8,303.6 L347.8,313.0 L347.9,305.0 L347.9,312.3 L348.0,304.4 L348.0,302.3 L348.1,316.3 L348.1,310.9 L348.2,307.1 L348.2,305.9 L348.3,305.6 L348.3,316.1 L348.4,312.6 L348.4,296.8 L348.5,323.5 L348.5,304.3 L348.6,306.4 L348.6,311.7 L348.7,314.8 L348.7,323.3 L348.8,318.8 L348.8,308.7 L348.9,307.5 L348.9,312.5 L349.0,311.1 L349.0,303.3 L349.1,308.7 L349.1,309.3 L349.2,308.7 L349.2,307.4 L349.3,304.8 L349.3,315.3 L349.4,313.6 L349.4,305.1 L349.5,316.6 L349.5,308.5 L349.6,299.9 L349.6,306.3 L349.7,316.4 L349.7,313.6 L349.8,313.2 L349.9,315.4 L349.9,313.2 L350.0,315.3 L350.0,299.4 L350.1,314.5 L350.1,312.2 L350.2,311.5 L350.2,317.0 L350.3,310.3 L350.3,312.3 L350.4,307.1 L350.4,309.0 L350.5,324.6 L350.5,308.0 L350.6,308.2 L350.6,317.5 L350.7,307.8 L350.7,319.2 L350.8,311.2 L350.8,328.3 L350.9,313.1 L350.9,310.8 L351.0,313.4 L351.0,317.3 L351.1,317.6 L351.1,323.1 L351.2,310.3 L351.2,310.3 L351.3,315.0 L351.3,322.3 L351.4,308.6 L351.4,315.4 L351.5,318.7 L351.5,320.2 L351.6,312.1 L351.6,315.2 L351.7,317.5 L351.7,309.4 L351.8,304.6 L351.8,311.1 L351.9,316.5 L351.9,319.0 L352.0,314.5 L352.0,322.1 L352.1,314.7 L352.1,326.9 L352.2,313.6 L352.2,311.0 L352.3,311.7 L352.3,317.8 L352.4,318.2 L352.4,308.9 L352.5,321.8 L352.5,316.6 L352.6,314.0 L352.6,316.1 L352.7,316.8 L352.8,310.7 L352.8,309.2 L352.9,325.0 L352.9,314.4 L353.0,316.4 L353.0,321.0 L353.1,321.3 L353.1,321.7 L353.2,324.6 L353.2,320.7 L353.3,330.9 L353.3,315.9 L353.4,317.2 L353.4,317.6 L353.5,320.9 L353.5,326.4 L353.6,318.9 L353.6,318.6 L353.7,314.9 L353.7,314.2 L353.8,322.7 L353.8,323.8 L353.9,317.8 L353.9,317.0 L354.0,319.6 L354.0,322.0 L354.1,328.8 L354.1,330.0 L354.2,329.6 L354.2,321.8 L354.3,325.8 L354.3,318.8 L354.4,326.0 L354.4,318.9 L354.5,321.9 L354.5,328.1 L354.6,322.5 L354.6,324.5 L354.7,327.8 L354.7,323.8 L354.8,326.4 L354.8,324.8 L354.9,326.4 L354.9,321.6 L355.0,325.2 L355.0,320.2 L355.1,329.8 L355.1,339.7 L355.2,323.3 L355.2,325.6 L355.3,338.9 L355.3,331.1 L355.4,319.1 L355.4,328.7 L355.5,329.1 L355.6,324.9 L355.6,323.4 L355.7,329.1 L355.7,324.0 L355.8,331.9 L355.8,325.0 L355.9,338.5 L355.9,326.4 L356.0,330.6 L356.0,326.0 L356.1,324.6 L356.1,333.9 L356.2,323.8 L356.2,325.1 L356.3,327.2 L356.3,324.8 L356.4,332.2 L356.4,328.1 L356.5,329.8 L356.5,328.5 L356.6,330.9 L356.6,328.4 L356.7,325.8 L356.7,333.2 L356.8,320.3 L356.8,328.2 L356.9,330.4 L356.9,333.6 L357.0,330.6 L357.0,341.7 L357.1,325.8 L357.1,331.0 L357.2,326.0 L357.2,334.8 L357.3,342.4 L357.3,324.9 L357.4,333.0 L357.4,324.8 L357.5,330.4 L357.5,319.4 L357.6,319.1 L357.6,331.9 L357.7,317.9 L357.7,334.8 L357.8,331.0 L357.8,329.3 L357.9,326.1 L357.9,324.4 L358.0,331.0 L358.0,334.0 L358.1,342.8 L358.1,341.4 L358.2,325.4 L358.2,326.2 L358.3,322.9 L358.3,322.8 L358.4,333.1 L358.5,326.4 L358.5,325.6 L358.6,332.0 L358.6,334.7 L358.7,331.2 L358.7,329.7 L358.8,329.9 L358.8,335.2 L358.9,331.6 L358.9,330.7 L359.0,330.5 L359.0,335.6 L359.1,334.0 L359.1,319.3 L359.2,319.6 L359.2,332.3 L359.3,329.9 L359.3,340.8 L359.4,336.7 L359.4,333.5 L359.5,335.7 L359.5,319.6 L359.6,325.6 L359.6,328.7 L359.7,328.2 L359.7,330.0 L359.8,333.1 L359.8,328.2 L359.9,332.3 L359.9,337.0 L360.0,330.6 L360.0,330.9 L360.1,327.1 L360.1,330.0 L360.2,334.1 L360.2,332.8 L360.3,334.0 L360.3,343.9 L360.4,337.0 L360.4,336.9 L360.5,335.6 L360.5,341.1 L360.6,336.8 L360.6,342.0 L360.7,330.1 L360.7,338.3 L360.8,332.4 L360.8,323.2 L360.9,331.0 L360.9,333.5 L361.0,334.5 L361.0,335.2 L361.1,333.1 L361.1,338.1 L361.2,337.7 L361.3,332.5 L361.3,337.1 L361.4,337.2 L361.4,332.5 L361.5,341.2 L361.5,334.1 L361.6,335.7 L361.6,330.8 L361.7,325.2 L361.7,334.9 L361.8,334.8 L361.8,337.9 L361.9,338.1 L361.9,329.7 L362.0,330.1 L362.0,333.3 L362.1,338.6 L362.1,334.4 L362.2,331.9 L362.2,328.3 L362.3,337.9 L362.3,335.1 L362.4,336.4 L362.4,326.7 L362.5,336.0 L362.5,330.9 L362.6,333.2 L362.6,337.3 L362.7,328.8 L362.7,342.1 L362.8,339.8 L362.8,342.2 L362.9,339.5 L362.9,334.7 L363.0,330.8 L363.0,335.6 L363.1,335.3 L363.1,335.2 L363.2,338.0 L363.2,346.1 L363.3,330.2 L363.3,327.1 L363.4,335.9 L363.4,334.3 L363.5,334.6 L363.5,332.9 L363.6,336.0 L363.6,341.8 L363.7,335.2 L363.7,328.3 L363.8,334.0 L363.8,339.5 L363.9,331.5 L363.9,339.6 L364.0,326.8 L364.1,337.6 L364.1,336.6 L364.2,339.0 L364.2,327.7 L364.3,342.8 L364.3,333.5 L364.4,335.6 L364.4,341.0 L364.5,344.4 L364.5,338.3 L364.6,343.4 L364.6,338.5 L364.7,338.4 L364.7,340.8 L364.8,335.6 L364.8,343.0 L364.9,340.0 L364.9,330.2 L365.0,343.4 L365.0,343.0 L365.1,335.1 L365.1,339.9 L365.2,331.8 L365.2,333.1 L365.3,338.1 L365.3,340.9 L365.4,341.9 L365.4,349.4 L365.5,338.5 L365.5,335.2 L365.6,340.0 L365.6,345.8 L365.7,336.8 L365.7,349.8 L365.8,341.0 L365.8,334.9 L365.9,344.6 L365.9,347.0 L366.0,341.5 L366.0,341.4 L366.1,335.1 L366.1,331.2 L366.2,340.7 L366.2,336.0 L366.3,339.8 L366.3,352.3 L366.4,340.1 L366.4,335.9 L366.5,347.6 L366.5,343.2 L366.6,336.3 L366.6,335.3 L366.7,334.3 L366.7,337.1 L366.8,335.9 L366.8,341.5 L366.9,335.2 L367.0,342.0 L367.0,339.1 L367.1,335.1 L367.1,339.0 L367.2,350.4 L367.2,341.6 L367.3,349.2 L367.3,348.1 L367.4,334.8 L367.4,338.1 L367.5,333.2 L367.5,332.5 L367.6,332.2 L367.6,335.4 L367.7,338.3 L367.7,346.5 L367.8,333.0 L367.8,338.6 L367.9,335.0 L367.9,332.4 L368.0,329.8 L368.0,332.6 L368.1,337.7 L368.1,334.3 L368.2,333.4 L368.2,340.4 L368.3,338.1 L368.3,333.1 L368.4,336.9 L368.4,328.5 L368.5,332.3 L368.5,338.9 L368.6,333.2 L368.6,341.5 L368.7,328.2 L368.7,331.2 L368.8,334.1 L368.8,337.9 L368.9,345.1 L368.9,333.4 L369.0,332.7 L369.0,328.0 L369.1,331.3 L369.1,342.2 L369.2,329.7 L369.2,335.4 L369.3,337.0 L369.3,333.6 L369.4,332.2 L369.4,326.9 L369.5,344.8 L369.5,329.6 L369.6,327.4 L369.6,336.1 L369.7,330.9 L369.8,333.8 L369.8,333.7 L369.9,330.9 L369.9,332.4 L370.0,329.7 L370.0,342.3 L370.1,344.8 L370.1,337.1 L370.2,330.9 L370.2,334.7 L370.3,331.2 L370.3,333.0 L370.4,329.0 L370.4,331.8 L370.5,346.9 L370.5,327.9 L370.6,334.4 L370.6,331.4 L370.7,331.7 L370.7,336.6 L370.8,332.5 L370.8,332.4 L370.9,340.8 L370.9,337.5 L371.0,330.1 L371.0,329.8 L371.1,333.6 L371.1,334.8 L371.2,333.6 L371.2,338.2 L371.3,334.6 L371.3,337.7 L371.4,331.0 L371.4,335.6 L371.5,332.1 L371.5,334.5 L371.6,339.5 L371.6,330.0 L371.7,332.0 L371.7,337.4 L371.8,337.7 L371.8,332.0 L371.9,327.1 L371.9,334.2 L372.0,333.3 L372.0,339.5 L372.1,335.3 L372.1,339.9 L372.2,337.4 L372.2,334.0 L372.3,339.3 L372.3,330.2 L372.4,340.0 L372.4,330.7 L372.5,326.6 L372.5,331.1 L372.6,332.0 L372.7,333.1 L372.7,339.8 L372.8,334.3 L372.8,339.3 L372.9,329.1 L372.9,338.2 L373.0,335.0 L373.0,337.9 L373.1,336.6 L373.1,337.5 L373.2,331.1 L373.2,330.7 L373.3,330.3 L373.3,338.9 L373.4,335.6 L373.4,331.6 L373.5,324.4 L373.5,337.5 L373.6,336.5 L373.6,337.2 L373.7,341.1 L373.7,339.0 L373.8,334.6 L373.8,332.7 L373.9,340.8 L373.9,329.6 L374.0,333.6 L374.0,338.3 L374.1,336.7 L374.1,325.7 L374.2,344.9 L374.2,336.8 L374.3,339.6 L374.3,345.1 L374.4,338.5 L374.4,335.0 L374.5,341.2 L374.5,324.4 L374.6,334.0 L374.6,334.8 L374.7,324.3 L374.7,334.8 L374.8,333.5 L374.8,336.1 L374.9,332.7 L374.9,332.9 L375.0,331.0 L375.0,327.7 L375.1,330.7 L375.1,337.5 L375.2,347.8 L375.2,336.5 L375.3,336.9 L375.3,338.9 L375.4,340.1 L375.5,339.4 L375.5,340.1 L375.6,331.2 L375.6,324.0 L375.7,342.7 L375.7,337.1 L375.8,325.4 L375.8,332.6 L375.9,340.8 L375.9,329.1 L376.0,329.8 L376.0,336.3 L376.1,334.5 L376.1,337.5 L376.2,345.4 L376.2,339.4 L376.3,348.8 L376.3,336.4 L376.4,338.7 L376.4,332.8 L376.5,331.7 L376.5,345.6 L376.6,332.7 L376.6,344.9 L376.7,334.0 L376.7,337.1 L376.8,345.4 L376.8,329.5 L376.9,338.4 L376.9,346.7 L377.0,333.5 L377.0,332.2 L377.1,330.8 L377.1,330.5 L377.2,338.3 L377.2,329.8 L377.3,331.4 L377.3,336.3 L377.4,342.3 L377.4,338.6 L377.5,346.1 L377.5,329.2 L377.6,322.0 L377.6,320.8 L377.7,324.2 L377.7,338.9 L377.8,332.1 L377.8,328.5 L377.9,335.4 L377.9,337.6 L378.0,335.5 L378.0,329.1 L378.1,333.1 L378.1,342.7 L378.2,333.8 L378.2,322.8 L378.3,330.4 L378.4,328.6 L378.4,336.8 L378.5,330.3 L378.5,329.0 L378.6,326.8 L378.6,336.7 L378.7,346.7 L378.7,329.5 L378.8,327.4 L378.8,336.4 L378.9,329.3 L378.9,346.6 L379.0,346.5 L379.0,327.6 L379.1,333.0 L379.1,337.5 L379.2,336.9 L379.2,340.0 L379.3,329.3 L379.3,329.7 L379.4,327.2 L379.4,337.5 L379.5,324.5 L379.5,325.3 L379.6,327.0 L379.6,329.7 L379.7,335.9 L379.7,319.5 L379.8,333.7 L379.8,344.1 L379.9,335.7 L379.9,338.0 L380.0,327.2 L380.0,340.2 L380.1,331.7 L380.1,330.0 L380.2,335.5 L380.2,327.3 L380.3,330.8 L380.3,348.5 L380.4,331.0 L380.4,330.7 L380.5,330.0 L380.5,328.2 L380.6,344.5 L380.6,321.0 L380.7,333.8 L380.7,326.2 L380.8,322.9 L380.8,332.7 L380.9,328.9 L380.9,331.0 L381.0,338.9 L381.0,344.6 L381.1,320.4 L381.2,329.0 L381.2,318.0 L381.3,334.1 L381.3,330.4 L381.4,335.7 L381.4,324.0 L381.5,329.0 L381.5,329.4 L381.6,324.1 L381.6,339.8 L381.7,334.9 L381.7,322.3 L381.8,334.1 L381.8,335.3 L381.9,324.2 L381.9,324.6 L382.0,333.6 L382.0,334.0 L382.1,330.8 L382.1,340.4 L382.2,317.7 L382.2,327.2 L382.3,332.0 L382.3,325.9 L382.4,316.9 L382.4,317.7 L382.5,328.6 L382.5,329.9 L382.6,328.0 L382.6,327.5 L382.7,323.3 L382.7,332.2 L382.8,333.8 L382.8,333.4 L382.9,327.6 L382.9,325.8 L383.0,335.4 L383.0,329.2 L383.1,330.2 L383.1,338.6 L383.2,332.1 L383.2,317.6 L383.3,323.4 L383.3,328.1 L383.4,330.1 L383.4,316.4 L383.5,326.2 L383.5,330.3 L383.6,326.3 L383.6,336.4 L383.7,320.9 L383.7,328.3 L383.8,325.8 L383.8,342.4 L383.9,327.5 L383.9,328.7 L384.0,333.1 L384.1,332.4 L384.1,323.6 L384.2,317.6 L384.2,317.3 L384.3,331.4 L384.3,323.4 L384.4,324.1 L384.4,329.6 L384.5,333.0 L384.5,331.9 L384.6,338.7 L384.6,331.0 L384.7,327.7 L384.7,327.2 L384.8,326.3 L384.8,339.6 L384.9,336.0 L384.9,323.2 L385.0,329.3 L385.0,316.3 L385.1,328.1 L385.1,320.7 L385.2,328.9 L385.2,329.7 L385.3,324.5 L385.3,322.4 L385.4,327.6 L385.4,342.7 L385.5,328.9 L385.5,330.7 L385.6,328.3 L385.6,323.4 L385.7,324.0 L385.7,324.3 L385.8,332.8 L385.8,328.7 L385.9,315.5 L385.9,315.6 L386.0,330.5 L386.0,328.2 L386.1,323.4 L386.1,334.7 L386.2,323.7 L386.2,330.2 L386.3,330.2 L386.3,335.5 L386.4,328.8 L386.4,338.2 L386.5,337.8 L386.5,330.6 L386.6,332.6 L386.6,326.6 L386.7,332.0 L386.7,328.1 L386.8,325.2 L386.9,336.7 L386.9,337.0 L387.0,331.7 L387.0,341.7 L387.1,329.5 L387.1,329.6 L387.2,325.8 L387.2,329.1 L387.3,328.8 L387.3,327.2 L387.4,333.7 L387.4,324.5 L387.5,325.3 L387.5,330.7 L387.6,323.5 L387.6,330.2 L387.7,324.9 L387.7,334.7 L387.8,332.7 L387.8,336.1 L387.9,326.0 L387.9,328.3 L388.0,327.7 L388.0,327.3 L388.1,341.3 L388.1,317.7 L388.2,324.3 L388.2,330.9 L388.3,326.7 L388.3,324.8 L388.4,318.9 L388.4,334.4 L388.5,323.6 L388.5,337.5 L388.6,335.6 L388.6,326.4 L388.7,326.5 L388.7,326.2 L388.8,329.5 L388.8,332.6 L388.9,333.2 L388.9,330.5 L389.0,331.0 L389.0,325.3 L389.1,326.4 L389.1,327.0 L389.2,320.5 L389.2,332.7 L389.3,327.7 L389.3,324.4 L389.4,326.1 L389.4,332.4 L389.5,330.9 L389.5,325.0 L389.6,338.5 L389.7,323.9 L389.7,323.6 L389.8,326.7 L389.8,334.1 L389.9,332.2 L389.9,317.8 L390.0,342.6 L390.0,336.6 L390.1,331.3 L390.1,332.3 L390.2,327.3 L390.2,333.4 L390.3,327.7 L390.3,327.0 L390.4,343.8 L390.4,325.7 L390.5,345.5 L390.5,337.1 L390.6,328.2 L390.6,332.5 L390.7,327.8 L390.7,334.6 L390.8,333.2 L390.8,332.1 L390.9,332.7 L390.9,321.7 L391.0,339.6 L391.0,346.7 L391.1,339.2 L391.1,320.1 L391.2,334.6 L391.2,327.7 L391.3,339.4 L391.3,335.4 L391.4,335.0 L391.4,334.5 L391.5,323.6 L391.5,334.5 L391.6,331.7 L391.6,326.3 L391.7,328.2 L391.7,336.2 L391.8,334.8 L391.8,317.6 L391.9,332.5 L391.9,323.3 L392.0,328.0 L392.0,319.1 L392.1,324.1 L392.1,323.9 L392.2,321.2 L392.2,332.2 L392.3,323.2 L392.3,329.6 L392.4,324.0 L392.4,331.3 L392.5,319.9 L392.6,324.2 L392.6,329.6 L392.7,329.7 L392.7,342.5 L392.8,336.7 L392.8,331.2 L392.9,332.5 L392.9,329.3 L393.0,322.2 L393.0,326.5 L393.1,325.7 L393.1,328.0 L393.2,331.8 L393.2,330.2 L393.3,332.3 L393.3,324.3 L393.4,334.3 L393.4,345.3 L393.5,341.7 L393.5,342.3 L393.6,332.8 L393.6,330.6 L393.7,333.8 L393.7,319.8 L393.8,328.4 L393.8,330.2 L393.9,330.0 L393.9,328.0 L394.0,333.1 L394.0,327.8 L394.1,332.6 L394.1,328.1 L394.2,327.6 L394.2,334.8 L394.3,326.2 L394.3,324.3 L394.4,326.2 L394.4,325.6 L394.5,324.5 L394.5,338.0 L394.6,328.1 L394.6,330.2 L394.7,330.5 L394.7,335.7 L394.8,327.1 L394.8,337.5 L394.9,329.1 L394.9,314.7 L395.0,322.6 L395.0,330.4 L395.1,324.9 L395.1,328.4 L395.2,328.8 L395.2,329.6 L395.3,328.5 L395.4,331.9 L395.4,326.9 L395.5,337.3 L395.5,326.2 L395.6,323.4 L395.6,330.2 L395.7,331.2 L395.7,321.1 L395.8,337.3 L395.8,324.3 L395.9,322.8 L395.9,313.6 L396.0,330.2 L396.0,325.7 L396.1,324.3 L396.1,334.9 L396.2,331.5 L396.2,323.0 L396.3,319.2 L396.3,315.8 L396.4,325.8 L396.4,322.0 L396.5,324.1 L396.5,327.8 L396.6,325.6 L396.6,331.1 L396.7,323.2 L396.7,324.0 L396.8,324.8 L396.8,325.3 L396.9,331.5 L396.9,335.8 L397.0,321.2 L397.0,327.1 L397.1,322.2 L397.1,329.9 L397.2,328.6 L397.2,340.1 L397.3,328.9 L397.3,338.0 L397.4,320.6 L397.4,327.6 L397.5,312.6 L397.5,329.1 L397.6,325.0 L397.6,318.6 L397.7,323.8 L397.7,327.5 L397.8,316.6 L397.8,320.4 L397.9,325.0 L397.9,325.1 L398.0,319.4 L398.0,323.8 L398.1,319.2 L398.1,337.1 L398.2,325.1 L398.3,329.3 L398.3,321.3 L398.4,322.5 L398.4,312.4 L398.5,324.5 L398.5,326.4 L398.6,330.7 L398.6,326.6 L398.7,330.9 L398.7,323.7 L398.8,327.8 L398.8,340.1 L398.9,322.0 L398.9,325.6 L399.0,329.5 L399.0,326.9 L399.1,313.5 L399.1,318.8 L399.2,333.2 L399.2,332.8 L399.3,323.1 L399.3,325.4 L399.4,325.7 L399.4,327.1 L399.5,331.5 L399.5,333.5 L399.6,324.8 L399.6,316.5 L399.7,334.3 L399.7,334.4 L399.8,328.9 L399.8,342.0 L399.9,331.1 L399.9,332.6 L400.0,324.3 L400.0,338.0 L400.1,344.3 L400.1,330.2 L400.2,338.6 L400.2,334.0 L400.3,328.1 L400.3,330.8 L400.4,330.9 L400.4,324.4 L400.5,327.3 L400.5,326.9 L400.6,329.4 L400.6,332.8 L400.7,330.4 L400.7,329.1 L400.8,326.1 L400.8,330.3 L400.9,335.1 L400.9,323.4 L401.0,330.8 L401.1,320.6 L401.1,325.4 L401.2,327.9 L401.2,319.7 L401.3,323.1 L401.3,330.4 L401.4,327.0 L401.4,329.4 L401.5,337.9 L401.5,327.2 L401.6,327.4 L401.6,320.0 L401.7,322.2 L401.7,343.0 L401.8,335.6 L401.8,326.9 L401.9,325.0 L401.9,325.7 L402.0,329.1 L402.0,330.3 L402.1,325.7 L402.1,317.4 L402.2,317.2 L402.2,326.0 L402.3,333.5 L402.3,326.9 L402.4,321.8 L402.4,329.1 L402.5,317.1 L402.5,324.9 L402.6,343.7 L402.6,325.7 L402.7,326.1 L402.7,330.0 L402.8,327.1 L402.8,331.6 L402.9,325.7 L402.9,324.3 L403.0,322.6 L403.0,325.1 L403.1,339.5 L403.1,325.1 L403.2,322.6 L403.2,330.7 L403.3,327.1 L403.3,324.8 L403.4,324.4 L403.4,331.0 L403.5,322.1 L403.5,326.0 L403.6,316.5 L403.6,330.2 L403.7,332.4 L403.7,322.1 L403.8,327.7 L403.8,332.9 L403.9,321.2 L404.0,321.8 L404.0,324.6 L404.1,330.3 L404.1,333.7 L404.2,328.5 L404.2,329.2 L404.3,329.7 L404.3,328.5 L404.4,338.5 L404.4,333.3 L404.5,322.5 L404.5,322.2 L404.6,330.3 L404.6,329.7 L404.7,329.6 L404.7,325.1 L404.8,317.0 L404.8,322.5 L404.9,326.6 L404.9,330.6 L405.0,321.8 L405.0,341.5 L405.1,325.5 L405.1,326.0 L405.2,333.9 L405.2,321.5 L405.3,325.1 L405.3,334.0 L405.4,325.3 L405.4,328.1 L405.5,330.4 L405.5,332.3 L405.6,331.4 L405.6,325.6 L405.7,329.3 L405.7,319.3 L405.8,329.6 L405.8,335.4 L405.9,330.4 L405.9,330.1 L406.0,316.7 L406.0,329.7 L406.1,333.8 L406.1,339.2 L406.2,335.3 L406.2,332.2 L406.3,322.9 L406.3,316.0 L406.4,323.2 L406.4,329.5 L406.5,327.8 L406.5,312.1 L406.6,323.1 L406.6,338.8 L406.7,328.0 L406.8,323.6 L406.8,329.3 L406.9,329.2 L406.9,330.4 L407.0,322.0 L407.0,321.9 L407.1,321.2 L407.1,336.3 L407.2,331.8 L407.2,331.8 L407.3,330.5 L407.3,326.4 L407.4,312.9 L407.4,323.1 L407.5,320.6 L407.5,334.5 L407.6,318.4 L407.6,343.0 L407.7,316.8 L407.7,319.8 L407.8,322.0 L407.8,322.6 L407.9,331.3 L407.9,330.6 L408.0,321.9 L408.0,324.8 L408.1,322.2 L408.1,331.3 L408.2,329.5 L408.2,320.1 L408.3,324.5 L408.3,320.1 L408.4,326.9 L408.4,323.3 L408.5,332.4 L408.5,329.3 L408.6,324.2 L408.6,329.3 L408.7,313.8 L408.7,342.8 L408.8,323.6 L408.8,324.1 L408.9,326.2 L408.9,323.6 L409.0,321.1 L409.0,331.1 L409.1,327.1 L409.1,323.5 L409.2,319.3 L409.2,332.1 L409.3,313.8 L409.3,324.9 L409.4,317.8 L409.4,342.8 L409.5,325.2 L409.5,324.2 L409.6,322.1 L409.7,326.8 L409.7,339.9 L409.8,321.7 L409.8,337.3 L409.9,338.7 L409.9,326.4 L410.0,342.8 L410.0,324.3 L410.1,332.2 L410.1,317.1 L410.2,333.0 L410.2,317.4 L410.3,321.6 L410.3,334.3 L410.4,322.0 L410.4,337.8 L410.5,324.5 L410.5,327.6 L410.6,337.8 L410.6,323.6 L410.7,322.6 L410.7,325.1 L410.8,329.6 L410.8,321.2 L410.9,317.9 L410.9,339.2 L411.0,328.9 L411.0,323.3 L411.1,339.5 L411.1,317.5 L411.2,326.7 L411.2,322.5 L411.3,327.0 L411.3,334.8 L411.4,324.8 L411.4,340.1 L411.5,325.7 L411.5,328.4 L411.6,308.3 L411.6,323.3 L411.7,318.8 L411.7,311.6 L411.8,337.9 L411.8,307.6 L411.9,332.8 L411.9,307.2 L412.0,324.0 L412.0,320.0 L412.1,331.2 L412.1,326.0 L412.2,321.0 L412.2,315.9 L412.3,315.9 L412.3,316.6 L412.4,313.3 L412.5,320.4 L412.5,334.9 L412.6,317.4 L412.6,318.1 L412.7,307.6 L412.7,311.2 L412.8,331.7 L412.8,311.1 L412.9,321.0 L412.9,331.9 L413.0,324.8 L413.0,320.6 L413.1,324.6 L413.1,305.6 L413.2,313.8 L413.2,317.4 L413.3,316.1 L413.3,311.8 L413.4,315.5 L413.4,322.0 L413.5,314.7 L413.5,313.8 L413.6,311.9 L413.6,316.5 L413.7,312.6 L413.7,324.9 L413.8,322.4 L413.8,309.6 L413.9,322.5 L413.9,312.5 L414.0,314.1 L414.0,330.8 L414.1,317.8 L414.1,312.4 L414.2,331.9 L414.2,328.4 L414.3,319.8 L414.3,330.6 L414.4,314.9 L414.4,323.8 L414.5,317.0 L414.5,312.1 L414.6,321.6 L414.6,320.9 L414.7,313.2 L414.7,307.1 L414.8,316.2 L414.8,315.9 L414.9,326.2 L414.9,310.4 L415.0,323.5 L415.0,318.2 L415.1,317.6 L415.1,324.6 L415.2,320.8 L415.3,318.1 L415.3,325.3 L415.4,319.6 L415.4,316.1 L415.5,321.1 L415.5,316.2 L415.6,317.0 L415.6,324.8 L415.7,319.0 L415.7,324.5 L415.8,315.2 L415.8,336.1 L415.9,307.4 L415.9,315.6 L416.0,318.0 L416.0,311.5 L416.1,320.4 L416.1,314.9 L416.2,323.9 L416.2,314.6 L416.3,318.7 L416.3,323.7 L416.4,321.5 L416.4,321.3 L416.5,325.3 L416.5,325.3 L416.6,314.6 L416.6,316.9 L416.7,325.3 L416.7,319.4 L416.8,327.1 L416.8,319.1 L416.9,326.3 L416.9,320.9 L417.0,310.6 L417.0,326.1 L417.1,326.2 L417.1,316.8 L417.2,327.2 L417.2,321.0 L417.3,320.2 L417.3,320.1 L417.4,327.7 L417.4,314.1 L417.5,332.0 L417.5,325.5 L417.6,326.8 L417.6,327.3 L417.7,317.7 L417.7,321.8 L417.8,325.3 L417.8,314.1 L417.9,318.5 L417.9,324.3 L418.0,318.2 L418.0,320.7 L418.1,317.3 L418.2,325.9 L418.2,318.9 L418.3,329.6 L418.3,321.7 L418.4,327.9 L418.4,320.7 L418.5,318.3 L418.5,327.0 L418.6,324.5 L418.6,329.9 L418.7,320.1 L418.7,327.9 L418.8,320.0 L418.8,323.8 L418.9,319.5 L418.9,329.0 L419.0,324.0 L419.0,322.1 L419.1,323.1 L419.1,327.3 L419.2,324.9 L419.2,322.3 L419.3,325.0 L419.3,317.4 L419.4,321.3 L419.4,319.5 L419.5,319.7 L419.5,327.1 L419.6,334.3 L419.6,327.5 L419.7,318.4 L419.7,320.6 L419.8,334.6 L419.8,326.4 L419.9,323.1 L419.9,318.9 L420.0,323.4 L420.0,324.7 L420.1,322.1 L420.1,324.1 L420.2,323.6 L420.2,336.1 L420.3,317.5 L420.3,315.6 L420.4,327.6 L420.4,335.1 L420.5,332.7 L420.5,322.1 L420.6,327.5 L420.6,318.6 L420.7,327.1 L420.7,316.1 L420.8,315.8 L420.8,321.3 L420.9,316.7 L421.0,318.3 L421.0,319.9 L421.1,322.0 L421.1,321.2 L421.2,325.5 L421.2,313.8 L421.3,336.7 L421.3,310.2 L421.4,307.6 L421.4,330.3 L421.5,308.9 L421.5,321.9 L421.6,312.7 L421.6,316.0 L421.7,306.6 L421.7,314.4 L421.8,313.0 L421.8,321.7 L421.9,314.1 L421.9,311.8 L422.0,328.2 L422.0,320.1 L422.1,314.2 L422.1,326.4 L422.2,324.0 L422.2,318.3 L422.3,319.6 L422.3,324.4 L422.4,316.9 L422.4,325.8 L422.5,324.6 L422.5,320.4 L422.6,313.8 L422.6,327.3 L422.7,317.3 L422.7,338.5 L422.8,318.2 L422.8,313.5 L422.9,315.7 L422.9,320.2 L423.0,314.6 L423.0,309.9 L423.1,323.5 L423.1,323.0 L423.2,323.2 L423.2,325.6 L423.3,319.4 L423.3,322.2 L423.4,319.3 L423.4,322.2 L423.5,339.6 L423.5,314.6 L423.6,323.3 L423.6,318.7 L423.7,313.2 L423.7,326.3 L423.8,317.0 L423.9,314.1 L423.9,318.8 L424.0,318.0 L424.0,321.4 L424.1,311.1 L424.1,318.6 L424.2,322.8 L424.2,328.0 L424.3,328.3 L424.3,319.5 L424.4,327.1 L424.4,324.4 L424.5,319.5 L424.5,306.5 L424.6,317.9 L424.6,314.9 L424.7,315.2 L424.7,313.2 L424.8,314.1 L424.8,322.0 L424.9,308.0 L424.9,326.0 L425.0,326.0 L425.0,327.6 L425.1,327.1 L425.1,305.0 L425.2,315.5 L425.2,321.1 L425.3,325.5 L425.3,328.4 L425.4,328.3 L425.4,331.5 L425.5,341.3 L425.5,331.7 L425.6,321.7 L425.6,318.3 L425.7,319.2 L425.7,330.0 L425.8,311.2 L425.8,313.6 L425.9,343.1 L425.9,333.5 L426.0,326.5 L426.0,339.8 L426.1,321.4 L426.1,320.8 L426.2,325.9 L426.2,329.9 L426.3,331.4 L426.3,321.7 L426.4,331.9 L426.4,331.5 L426.5,323.6 L426.5,328.3 L426.6,324.9 L426.7,333.7 L426.7,318.6 L426.8,324.9 L426.8,327.7 L426.9,334.8 L426.9,333.9 L427.0,327.7 L427.0,309.0 L427.1,315.9 L427.1,319.0 L427.2,323.2 L427.2,344.3 L427.3,321.9 L427.3,339.2 L427.4,321.7 L427.4,323.9 L427.5,313.5 L427.5,330.2 L427.6,309.3 L427.6,329.3 L427.7,327.0 L427.7,328.8 L427.8,327.9 L427.8,328.4 L427.9,316.7 L427.9,330.8 L428.0,319.7 L428.0,317.4 L428.1,327.9 L428.1,325.1 L428.2,313.1 L428.2,329.4 L428.3,319.9 L428.3,337.2 L428.4,316.7 L428.4,325.4 L428.5,334.9 L428.5,317.0 L428.6,312.4 L428.6,323.0 L428.7,310.8 L428.7,307.4 L428.8,319.6 L428.8,322.9 L428.9,310.4 L428.9,319.7 L429.0,326.1 L429.0,313.0 L429.1,332.0 L429.1,315.1 L429.2,319.9 L429.2,323.8 L429.3,315.2 L429.3,312.1 L429.4,316.7 L429.4,319.0 L429.5,321.6 L429.6,327.3 L429.6,312.0 L429.7,306.2 L429.7,319.2 L429.8,308.1 L429.8,314.3 L429.9,318.5 L429.9,305.7 L430.0,321.5 L430.0,310.0 L430.1,319.5 L430.1,317.2 L430.2,313.5 L430.2,319.9 L430.3,317.6 L430.3,320.5 L430.4,316.3 L430.4,315.1 L430.5,319.0 L430.5,310.3 L430.6,320.5 L430.6,318.6 L430.7,325.7 L430.7,304.9 L430.8,310.3 L430.8,305.9 L430.9,308.7 L430.9,314.1 L431.0,313.5 L431.0,309.4 L431.1,315.1 L431.1,328.1 L431.2,302.8 L431.2,309.0 L431.3,308.2 L431.3,313.3 L431.4,318.2 L431.4,309.4 L431.5,307.5 L431.5,315.1 L431.6,315.5 L431.6,318.9 L431.7,321.3 L431.7,300.2 L431.8,315.3 L431.8,325.4 L431.9,316.8 L431.9,314.0 L432.0,314.5 L432.0,314.7 L432.1,300.4 L432.1,299.5 L432.2,313.4 L432.2,309.3 L432.3,308.6 L432.4,319.8 L432.4,317.6 L432.5,324.5 L432.5,318.9 L432.6,313.1 L432.6,308.7 L432.7,317.1 L432.7,305.8 L432.8,310.5 L432.8,319.2 L432.9,314.3 L432.9,315.3 L433.0,312.7 L433.0,315.0 L433.1,312.1 L433.1,301.3 L433.2,319.1 L433.2,315.3 L433.3,316.3 L433.3,309.5 L433.4,319.5 L433.4,314.4 L433.5,313.9 L433.5,312.8 L433.6,320.5 L433.6,311.3 L433.7,320.2 L433.7,311.6 L433.8,311.2 L433.8,315.9 L433.9,320.3 L433.9,321.0 L434.0,310.6 L434.0,318.0 L434.1,325.9 L434.1,312.5 L434.2,320.5 L434.2,324.1 L434.3,317.5 L434.3,317.0 L434.4,313.4 L434.4,320.0 L434.5,309.3 L434.5,302.1 L434.6,315.8 L434.6,316.8 L434.7,322.4 L434.7,320.1 L434.8,326.8 L434.8,323.7 L434.9,316.2 L434.9,318.0 L435.0,316.9 L435.0,323.1 L435.1,313.9 L435.1,316.2 L435.2,312.2 L435.3,321.1 L435.3,317.0 L435.4,313.4 L435.4,309.1 L435.5,325.5 L435.5,317.0 L435.6,318.5 L435.6,321.6 L435.7,329.5 L435.7,332.6 L435.8,313.7 L435.8,320.4 L435.9,321.9 L435.9,314.8 L436.0,317.0 L436.0,325.9 L436.1,319.5 L436.1,311.4 L436.2,323.2 L436.2,317.9 L436.3,315.7 L436.3,323.3 L436.4,314.8 L436.4,323.8 L436.5,333.9 L436.5,315.1 L436.6,313.9 L436.6,319.8 L436.7,320.4 L436.7,312.4 L436.8,326.7 L436.8,312.3 L436.9,320.0 L436.9,317.4 L437.0,325.9 L437.0,321.2 L437.1,324.7 L437.1,317.2 L437.2,323.3 L437.2,320.8 L437.3,327.9 L437.3,325.5 L437.4,335.2 L437.4,322.0 L437.5,314.6 L437.5,318.5 L437.6,328.9 L437.6,327.5 L437.7,329.0 L437.7,327.6 L437.8,325.5 L437.8,321.8 L437.9,321.5 L437.9,318.4 L438.0,335.3 L438.1,318.3 L438.1,336.1 L438.2,319.8 L438.2,324.1 L438.3,323.3 L438.3,319.3 L438.4,329.2 L438.4,320.2 L438.5,338.8 L438.5,327.1 L438.6,330.0 L438.6,327.6 L438.7,331.3 L438.7,326.6 L438.8,326.5 L438.8,331.1 L438.9,327.6 L438.9,330.4 L439.0,319.9 L439.0,324.0 L439.1,325.2 L439.1,323.1 L439.2,327.9 L439.2,331.8 L439.3,314.6 L439.3,332.3 L439.4,327.4 L439.4,329.0 L439.5,330.4 L439.5,330.1 L439.6,325.6 L439.6,327.7 L439.7,326.1 L439.7,321.7 L439.8,330.1 L439.8,323.1 L439.9,317.2 L439.9,324.6 L440.0,322.8 L440.0,325.2 L440.1,325.5 L440.1,333.7 L440.2,317.5 L440.2,318.6 L440.3,328.5 L440.3,325.9 L440.4,324.4 L440.4,327.4 L440.5,313.9 L440.5,323.3 L440.6,328.8 L440.6,319.8 L440.7,314.8 L440.7,343.1 L440.8,326.1 L440.9,323.0 L440.9,333.7 L441.0,323.2 L441.0,323.8 L441.1,340.7 L441.1,336.8 L441.2,325.1 L441.2,317.6 L441.3,315.8 L441.3,332.3 L441.4,322.5 L441.4,327.9 L441.5,342.5 L441.5,318.4 L441.6,340.0 L441.6,322.2 L441.7,330.2 L441.7,330.2 L441.8,330.5 L441.8,324.4 L441.9,334.5 L441.9,321.5 L442.0,342.9 L442.0,328.8 L442.1,331.5 L442.1,318.9 L442.2,327.2 L442.2,319.5 L442.3,335.7 L442.3,322.7 L442.4,341.7 L442.4,318.6 L442.5,328.0 L442.5,322.9 L442.6,327.9 L442.6,321.9 L442.7,323.2 L442.7,319.0 L442.8,330.2 L442.8,330.7 L442.9,333.6 L442.9,326.1 L443.0,328.3 L443.0,317.7 L443.1,335.1 L443.1,332.2 L443.2,333.7 L443.2,325.9 L443.3,323.7 L443.3,334.1 L443.4,334.1 L443.4,317.0 L443.5,333.3 L443.5,342.1 L443.6,331.6 L443.6,330.6 L443.7,325.1 L443.8,336.6 L443.8,330.3 L443.9,319.3 L443.9,327.3 L444.0,337.5 L444.0,331.5 L444.1,331.7 L444.1,337.7 L444.2,329.8 L444.2,335.5 L444.3,322.5 L444.3,327.2 L444.4,331.1 L444.4,331.1 L444.5,323.3 L444.5,331.4 L444.6,327.4 L444.6,335.0 L444.7,326.4 L444.7,327.7 L444.8,332.1 L444.8,333.4 L444.9,315.3 L444.9,322.0 L445.0,333.3 L445.0,321.9 L445.1,319.4 L445.1,321.9 L445.2,329.9 L445.2,325.6 L445.3,329.5 L445.3,328.7 L445.4,319.7 L445.4,339.7 L445.5,321.8 L445.5,327.6 L445.6,323.6 L445.6,335.6 L445.7,331.4 L445.7,325.6 L445.8,329.4 L445.8,340.1 L445.9,322.2 L445.9,321.0 L446.0,326.8 L446.0,323.8 L446.1,337.9 L446.1,326.2 L446.2,329.9 L446.2,320.1 L446.3,323.4 L446.3,329.1 L446.4,322.6 L446.4,316.5 L446.5,323.3 L446.6,320.9 L446.6,326.8 L446.7,320.2 L446.7,321.4 L446.8,322.3 L446.8,329.9 L446.9,335.4 L446.9,328.6 L447.0,335.7 L447.0,322.8 L447.1,318.1 L447.1,321.7 L447.2,329.9 L447.2,323.8 L447.3,325.6 L447.3,322.3 L447.4,319.3 L447.4,326.3 L447.5,313.4 L447.5,313.5 L447.6,320.4 L447.6,329.6 L447.7,318.1 L447.7,323.1 L447.8,326.4 L447.8,333.7 L447.9,318.9 L447.9,313.0 L448.0,329.7 L448.0,335.7 L448.1,328.3 L448.1,326.5 L448.2,318.8 L448.2,334.3 L448.3,327.9 L448.3,318.8 L448.4,325.3 L448.4,325.0 L448.5,316.5 L448.5,334.7 L448.6,310.9 L448.6,317.0 L448.7,329.5 L448.7,318.7 L448.8,316.6 L448.8,315.8 L448.9,320.5 L448.9,319.2 L449.0,316.3 L449.0,316.3 L449.1,327.0 L449.1,323.1 L449.2,308.7 L449.2,321.3 L449.3,315.8 L449.3,316.8 L449.4,317.4 L449.5,330.4 L449.5,320.7 L449.6,320.8 L449.6,319.7 L449.7,317.5 L449.7,306.9 L449.8,317.3 L449.8,330.2 L449.9,315.5 L449.9,326.8 L450.0,307.7 L450.0,324.3 L450.1,303.9 L450.1,305.8 L450.2,312.1 L450.2,328.2 L450.3,307.3 L450.3,323.0 L450.4,307.9 L450.4,306.4 L450.5,316.5 L450.5,312.6 L450.6,319.7 L450.6,318.4 L450.7,314.9 L450.7,324.3 L450.8,307.7 L450.8,322.6 L450.9,323.2 L450.9,322.3 L451.0,323.0 L451.0,326.7 L451.1,319.5 L451.1,326.1 L451.2,319.3 L451.2,323.6 L451.3,309.7 L451.3,308.3 L451.4,317.2 L451.4,336.0 L451.5,328.7 L451.5,319.4 L451.6,317.0 L451.6,315.8 L451.7,318.7 L451.7,321.0 L451.8,326.2 L451.8,322.3 L451.9,321.7 L451.9,324.6 L452.0,313.3 L452.0,315.0 L452.1,315.8 L452.1,325.5 L452.2,332.5 L452.3,315.4 L452.3,315.4 L452.4,319.9 L452.4,322.2 L452.5,316.0 L452.5,317.7 L452.6,323.0 L452.6,323.2 L452.7,315.0 L452.7,323.0 L452.8,322.1 L452.8,323.8 L452.9,320.8 L452.9,320.5 L453.0,323.8 L453.0,325.3 L453.1,321.7 L453.1,319.8 L453.2,328.4 L453.2,324.1 L453.3,310.0 L453.3,324.1 L453.4,333.8 L453.4,319.4 L453.5,324.4 L453.5,318.0 L453.6,324.4 L453.6,320.7 L453.7,325.0 L453.7,320.1 L453.8,324.2 L453.8,327.5 L453.9,320.7 L453.9,327.7 L454.0,318.9 L454.0,330.6 L454.1,325.8 L454.1,331.9 L454.2,325.9 L454.2,323.7 L454.3,328.5 L454.3,325.9 L454.4,323.5 L454.4,325.4 L454.5,330.9 L454.5,322.9 L454.6,322.3 L454.6,338.7 L454.7,329.6 L454.7,323.0 L454.8,323.8 L454.8,329.5 L454.9,321.1 L454.9,330.8 L455.0,326.1 L455.0,330.3 L455.1,331.4 L455.2,333.7 L455.2,342.7 L455.3,328.7 L455.3,325.6 L455.4,330.9 L455.4,326.1 L455.5,322.2 L455.5,326.0 L455.6,323.5 L455.6,327.6 L455.7,328.4 L455.7,343.0 L455.8,332.9 L455.8,315.2 L455.9,322.0 L455.9,323.1 L456.0,339.0 L456.0,319.3 L456.1,332.3 L456.1,323.7 L456.2,330.7 L456.2,325.9 L456.3,317.7 L456.3,323.4 L456.4,328.7 L456.4,327.4 L456.5,330.0 L456.5,325.0 L456.6,316.8 L456.6,331.5 L456.7,331.3 L456.7,331.2 L456.8,323.0 L456.8,333.7 L456.9,327.9 L456.9,318.4 L457.0,335.8 L457.0,329.4 L457.1,331.7 L457.1,322.5 L457.2,331.5 L457.2,329.4 L457.3,326.8 L457.3,326.6 L457.4,323.1 L457.4,344.1 L457.5,328.1 L457.5,331.7 L457.6,316.8 L457.6,330.1 L457.7,315.8 L457.7,331.8 L457.8,331.0 L457.8,331.8 L457.9,324.2 L458.0,334.8 L458.0,324.7 L458.1,333.5 L458.1,326.6 L458.2,325.3 L458.2,317.0 L458.3,330.2 L458.3,331.5 L458.4,331.7 L458.4,329.4 L458.5,338.3 L458.5,330.0 L458.6,326.1 L458.6,336.8 L458.7,323.7 L458.7,332.6 L458.8,333.7 L458.8,329.6 L458.9,325.4 L458.9,331.8 L459.0,333.5 L459.0,329.8 L459.1,330.9 L459.1,332.9 L459.2,324.4 L459.2,331.2 L459.3,320.1 L459.3,341.2 L459.4,317.2 L459.4,326.8 L459.5,317.4 L459.5,324.2 L459.6,323.4 L459.6,339.4 L459.7,322.0 L459.7,325.5 L459.8,331.6 L459.8,322.0 L459.9,329.4 L459.9,328.1 L460.0,323.2 L460.0,325.6 L460.1,331.6 L460.1,325.9 L460.2,329.6 L460.2,330.0 L460.3,330.3 L460.3,326.5 L460.4,325.1 L460.4,323.3 L460.5,325.1 L460.5,321.3 L460.6,325.0 L460.6,330.7 L460.7,328.8 L460.7,336.0 L460.8,315.1 L460.9,340.8 L460.9,324.8 L461.0,331.3 L461.0,328.8 L461.1,322.9 L461.1,332.1 L461.2,326.2 L461.2,323.4 L461.3,322.0 L461.3,320.1 L461.4,329.0 L461.4,323.8 L461.5,325.1 L461.5,322.0 L461.6,318.8 L461.6,328.9 L461.7,324.8 L461.7,339.3 L461.8,330.5 L461.8,322.3 L461.9,321.1 L461.9,319.5 L462.0,314.1 L462.0,320.1 L462.1,330.9 L462.1,331.0 L462.2,323.0 L462.2,327.7 L462.3,327.7 L462.3,314.9 L462.4,329.8 L462.4,314.2 L462.5,318.1 L462.5,328.5 L462.6,318.6 L462.6,327.4 L462.7,329.8 L462.7,313.4 L462.8,318.7 L462.8,322.9 L462.9,329.5 L462.9,327.6 L463.0,329.3 L463.0,322.8 L463.1,336.5 L463.1,323.4 L463.2,324.8 L463.2,325.9 L463.3,328.0 L463.3,312.2 L463.4,311.8 L463.4,320.9 L463.5,311.4 L463.5,322.6 L463.6,322.4 L463.7,314.7 L463.7,319.6 L463.8,321.2 L463.8,314.8 L463.9,321.4 L463.9,331.2 L464.0,325.4 L464.0,333.8 L464.1,319.8 L464.1,340.7 L464.2,333.6 L464.2,331.2 L464.3,323.8 L464.3,331.3 L464.4,314.1 L464.4,335.6 L464.5,324.0 L464.5,317.1 L464.6,319.7 L464.6,323.0 L464.7,317.2 L464.7,327.5 L464.8,328.7 L464.8,324.2 L464.9,317.7 L464.9,327.2 L465.0,335.0 L465.0,325.3 L465.1,316.4 L465.1,310.8 L465.2,342.4 L465.2,341.3 L465.3,319.6 L465.3,322.5 L465.4,312.8 L465.4,330.1 L465.5,328.2 L465.5,327.8 L465.6,325.9 L465.6,324.7 L465.7,321.8 L465.7,329.6 L465.8,315.7 L465.8,325.2 L465.9,323.7 L465.9,313.8 L466.0,309.8 L466.0,322.7 L466.1,327.5 L466.1,325.7 L466.2,304.5 L466.2,320.5 L466.3,329.1 L466.3,329.7 L466.4,307.5 L466.4,317.4 L466.5,331.8 L466.6,325.3 L466.6,344.9 L466.7,326.8 L466.7,315.3 L466.8,321.4 L466.8,329.9 L466.9,317.1 L466.9,317.0 L467.0,328.4 L467.0,317.3 L467.1,319.0 L467.1,329.1 L467.2,317.0 L467.2,307.0 L467.3,318.1 L467.3,330.6 L467.4,330.1 L467.4,314.8 L467.5,330.6 L467.5,340.2 L467.6,343.5 L467.6,335.0 L467.7,326.3 L467.7,314.3 L467.8,317.2 L467.8,309.6 L467.9,330.2 L467.9,338.5 L468.0,321.8 L468.0,328.1 L468.1,339.3 L468.1,326.8 L468.2,303.9 L468.2,325.8 L468.3,316.1 L468.3,324.6 L468.4,324.6 L468.4,312.7 L468.5,318.0 L468.5,315.7 L468.6,320.3 L468.6,312.1 L468.7,314.6 L468.7,322.8 L468.8,321.9 L468.8,316.2 L468.9,321.3 L468.9,316.0 L469.0,315.0 L469.0,320.8 L469.1,311.4 L469.1,315.1 L469.2,334.9 L469.2,332.8 L469.3,314.0 L469.4,321.3 L469.4,309.3 L469.5,324.4 L469.5,313.9 L469.6,302.8 L469.6,303.1 L469.7,322.7 L469.7,322.2 L469.8,315.5 L469.8,300.4 L469.9,320.5 L469.9,320.2 L470.0,314.8 L470.0,322.5 L470.1,319.3 L470.1,321.7 L470.2,317.7 L470.2,316.7 L470.3,318.3 L470.3,326.8 L470.4,333.6 L470.4,320.8 L470.5,310.6 L470.5,312.0 L470.6,309.9 L470.6,318.8 L470.7,316.7 L470.7,311.7 L470.8,323.5 L470.8,305.7 L470.9,319.3 L470.9,311.7 L471.0,320.6 L471.0,317.4 L471.1,319.8 L471.1,309.5 L471.2,321.2 L471.2,311.4 L471.3,318.8 L471.3,314.7 L471.4,308.6 L471.4,320.4 L471.5,317.4 L471.5,321.7 L471.6,319.8 L471.6,303.2 L471.7,329.3 L471.7,309.6 L471.8,314.5 L471.8,307.8 L471.9,317.3 L471.9,315.5 L472.0,305.7 L472.0,309.3 L472.1,313.3 L472.2,318.5 L472.2,303.9 L472.3,310.3 L472.3,318.8 L472.4,308.3 L472.4,324.7 L472.5,316.4 L472.5,316.0 L472.6,310.4 L472.6,313.1 L472.7,310.3 L472.7,304.5 L472.8,316.5 L472.8,316.4 L472.9,312.9 L472.9,313.1 L473.0,312.8 L473.0,313.5 L473.1,313.6 L473.1,323.5 L473.2,316.5 L473.2,312.1 L473.3,316.3 L473.3,308.0 L473.4,320.2 L473.4,321.1 L473.5,314.0 L473.5,309.6 L473.6,315.1 L473.6,316.2 L473.7,317.2 L473.7,312.6 L473.8,316.4 L473.8,310.4 L473.9,311.5 L473.9,325.2 L474.0,316.7 L474.0,320.0 L474.1,314.7 L474.1,302.3 L474.2,313.9 L474.2,310.1 L474.3,307.9 L474.3,311.0 L474.4,312.2 L474.4,309.0 L474.5,317.7 L474.5,309.2 L474.6,317.2 L474.6,307.9 L474.7,307.8 L474.7,303.1 L474.8,309.5 L474.8,315.8 L474.9,314.4 L474.9,308.7 L475.0,313.5 L475.1,306.7 L475.1,321.8 L475.2,309.1 L475.2,311.8 L475.3,316.4 L475.3,310.4 L475.4,325.9 L475.4,314.5 L475.5,313.0 L475.5,321.2 L475.6,308.6 L475.6,313.7 L475.7,316.4 L475.7,316.4 L475.8,299.8 L475.8,314.4 L475.9,316.0 L475.9,310.6 L476.0,309.0 L476.0,316.9 L476.1,310.3 L476.1,309.4 L476.2,310.1 L476.2,318.5 L476.3,323.2 L476.3,312.4 L476.4,312.1 L476.4,309.8 L476.5,311.5 L476.5,317.7 L476.6,304.6 L476.6,308.0 L476.7,303.4 L476.7,313.6 L476.8,317.0 L476.8,307.8 L476.9,310.2 L476.9,320.4 L477.0,308.3 L477.0,314.4 L477.1,313.4 L477.1,310.5 L477.2,316.1 L477.2,310.5 L477.3,309.9 L477.3,309.2 L477.4,319.4 L477.4,311.0 L477.5,310.6 L477.5,303.2 L477.6,310.2 L477.6,313.0 L477.7,302.8 L477.7,310.1 L477.8,315.4 L477.9,313.4 L477.9,302.1 L478.0,307.6 L478.0,313.7 L478.1,311.4 L478.1,303.5 L478.2,310.2 L478.2,317.9 L478.3,316.7 L478.3,312.5 L478.4,312.6 L478.4,306.3 L478.5,303.4 L478.5,311.4 L478.6,306.1 L478.6,321.6 L478.7,306.9 L478.7,307.1 L478.8,312.0 L478.8,310.5 L478.9,317.4 L478.9,312.6 L479.0,308.5 L479.0,307.1 L479.1,301.8 L479.1,305.8 L479.2,309.6 L479.2,313.3 L479.3,305.5 L479.3,310.9 L479.4,304.6 L479.4,313.0 L479.5,311.9 L479.5,313.1 L479.6,312.6 L479.6,311.6 L479.7,311.1 L479.7,307.7 L479.8,305.5 L479.8,314.0 L479.9,313.8 L479.9,307.0 L480.0,313.3 L480.0,309.0 L480.1,304.6 L480.1,304.0 L480.2,306.7 L480.2,306.8 L480.3,305.5 L480.3,306.6 L480.4,305.6 L480.4,300.8 L480.5,302.8 L480.5,310.5 L480.6,304.0 L480.6,307.2 L480.7,305.0 L480.8,309.2 L480.8,309.9 L480.9,319.1 L480.9,308.4 L481.0,310.2 L481.0,303.9 L481.1,312.5 L481.1,312.5 L481.2,307.1 L481.2,302.1 L481.3,308.7 L481.3,308.5 L481.4,306.1 L481.4,301.6 L481.5,303.4 L481.5,301.9 L481.6,305.6 L481.6,302.9 L481.7,306.6 L481.7,309.0 L481.8,309.4 L481.8,319.3 L481.9,310.7 L481.9,298.8 L482.0,304.1 L482.0,306.2 L482.1,307.3 L482.1,307.6 L482.2,301.3 L482.2,307.0 L482.3,308.3 L482.3,306.6 L482.4,312.7 L482.4,299.7 L482.5,299.4 L482.5,299.8 L482.6,295.6 L482.6,295.5 L482.7,299.9 L482.7,297.9 L482.8,304.2 L482.8,297.7 L482.9,307.3 L482.9,310.2 L483.0,298.0 L483.0,303.2 L483.1,305.2 L483.1,316.3 L483.2,303.0 L483.2,308.2 L483.3,313.3 L483.3,306.7 L483.4,316.8 L483.4,301.7 L483.5,298.7 L483.6,306.6 L483.6,308.1 L483.7,299.5 L483.7,308.4 L483.8,305.9 L483.8,299.5 L483.9,297.6 L483.9,306.9 L484.0,314.6 L484.0,303.8 L484.1,306.9 L484.1,305.4 L484.2,302.0 L484.2,303.4 L484.3,303.2 L484.3,295.1 L484.4,293.1 L484.4,296.2 L484.5,303.5 L484.5,307.9 L484.6,304.3 L484.6,300.5 L484.7,312.6 L484.7,304.9 L484.8,298.9 L484.8,303.0 L484.9,295.3 L484.9,303.6 L485.0,297.8 L485.0,305.2 L485.1,301.9 L485.1,297.2 L485.2,305.4 L485.2,301.6 L485.3,302.6 L485.3,305.3 L485.4,299.1 L485.4,302.2 L485.5,304.2 L485.5,296.0 L485.6,297.4 L485.6,291.7 L485.7,295.5 L485.7,300.0 L485.8,286.8 L485.8,302.7 L485.9,296.4 L485.9,299.5 L486.0,314.0 L486.0,298.8 L486.1,301.5 L486.1,313.7 L486.2,285.6 L486.2,285.9 L486.3,297.4 L486.3,299.7 L486.4,293.6 L486.5,291.8 L486.5,295.5 L486.6,301.2 L486.6,294.3 L486.7,299.0 L486.7,291.7 L486.8,297.6 L486.8,305.2 L486.9,304.4 L486.9,293.9 L487.0,292.4 L487.0,291.2 L487.1,297.6 L487.1,294.0 L487.2,300.1 L487.2,292.4 L487.3,298.6 L487.3,294.0 L487.4,292.0 L487.4,309.7 L487.5,300.8 L487.5,311.2 L487.6,292.4 L487.6,288.8 L487.7,293.6 L487.7,293.4 L487.8,299.8 L487.8,288.0 L487.9,296.4 L487.9,298.7 L488.0,301.5 L488.0,308.7 L488.1,294.7 L488.1,291.0 L488.2,297.8 L488.2,295.6 L488.3,295.4 L488.3,298.3 L488.4,296.5 L488.4,299.6 L488.5,295.7 L488.5,292.4 L488.6,303.9 L488.6,293.7 L488.7,290.1 L488.7,298.2 L488.8,296.6 L488.8,301.0 L488.9,295.5 L488.9,295.0 L489.0,292.0 L489.0,286.1 L489.1,301.7 L489.1,295.2 L489.2,287.8 L489.3,299.3 L489.3,293.3 L489.4,294.2 L489.4,298.4 L489.5,292.7 L489.5,291.7 L489.6,285.7 L489.6,301.4 L489.7,307.8 L489.7,302.0 L489.8,293.9 L489.8,308.5 L489.9,304.7 L489.9,300.4 L490.0,306.3 L490.0,301.0 L490.1,298.5 L490.1,293.6 L490.2,291.2 L490.2,295.8 L490.3,300.6 L490.3,283.3 L490.4,297.8 L490.4,294.5 L490.5,307.3 L490.5,298.9 L490.6,298.6 L490.6,282.6 L490.7,297.3 L490.7,297.3 L490.8,308.2 L490.8,293.0 L490.9,298.0 L490.9,292.2 L491.0,298.2 L491.0,295.6 L491.1,305.6 L491.1,295.4 L491.2,306.9 L491.2,290.9 L491.3,295.8 L491.3,293.7 L491.4,279.6 L491.4,296.7 L491.5,288.8 L491.5,290.9 L491.6,293.1 L491.6,290.5 L491.7,285.5 L491.7,290.3 L491.8,287.7 L491.8,290.8 L491.9,290.2 L491.9,291.0 L492.0,286.0 L492.0,294.1 L492.1,280.2 L492.2,290.3 L492.2,282.4 L492.3,288.8 L492.3,290.0 L492.4,287.0 L492.4,292.6 L492.5,283.0 L492.5,292.0 L492.6,287.2 L492.6,288.3 L492.7,281.5 L492.7,284.6 L492.8,291.6 L492.8,277.4 L492.9,290.2 L492.9,288.6 L493.0,292.6 L493.0,289.4 L493.1,291.8 L493.1,298.2 L493.2,282.5 L493.2,293.9 L493.3,282.8 L493.3,298.9 L493.4,308.4 L493.4,293.1 L493.5,295.9 L493.5,291.1 L493.6,294.6 L493.6,286.4 L493.7,297.2 L493.7,289.3 L493.8,299.0 L493.8,290.1 L493.9,300.7 L493.9,293.6 L494.0,297.5 L494.0,297.4 L494.1,300.6 L494.1,297.9 L494.2,298.3 L494.2,304.4 L494.3,307.3 L494.3,300.5 L494.4,303.7 L494.4,303.6 L494.5,296.2 L494.5,305.9 L494.6,294.2 L494.6,290.8 L494.7,303.9 L494.7,303.7 L494.8,313.3 L494.8,301.4 L494.9,295.3 L495.0,307.2 L495.0,305.7 L495.1,303.7 L495.1,305.5 L495.2,304.8 L495.2,319.3 L495.3,295.3 L495.3,296.7 L495.4,308.6 L495.4,304.7 L495.5,311.3 L495.5,305.4 L495.6,313.3 L495.6,312.8 L495.7,315.4 L495.7,306.3 L495.8,304.6 L495.8,301.4 L495.9,314.0 L495.9,305.7 L496.0,302.5 L496.0,311.2 L496.1,305.9 L496.1,304.5 L496.2,315.1 L496.2,306.4 L496.3,304.3 L496.3,300.5 L496.4,295.5 L496.4,305.3 L496.5,302.6 L496.5,309.8 L496.6,295.9 L496.6,304.6 L496.7,313.7 L496.7,316.2 L496.8,313.0 L496.8,317.3 L496.9,322.5 L496.9,300.1 L497.0,304.7 L497.0,308.3 L497.1,309.1 L497.1,312.7 L497.2,310.4 L497.2,307.9 L497.3,310.8 L497.3,311.3 L497.4,316.5 L497.4,314.5 L497.5,315.0 L497.5,306.7 L497.6,310.2 L497.6,322.5 L497.7,304.6 L497.8,303.9 L497.8,311.0 L497.9,320.7 L497.9,296.5 L498.0,321.6 L498.0,323.3 L498.1,300.8 L498.1,303.9 L498.2,304.9 L498.2,312.8 L498.3,302.4 L498.3,311.6 L498.4,314.7 L498.4,308.7 L498.5,311.3 L498.5,315.9 L498.6,294.8 L498.6,313.0 L498.7,310.7 L498.7,309.0 L498.8,305.4 L498.8,302.0 L498.9,301.9 L498.9,306.0 L499.0,312.2 L499.0,306.2 L499.1,320.4 L499.1,311.3 L499.2,306.4 L499.2,313.2 L499.3,312.4 L499.3,308.8 L499.4,306.3 L499.4,300.1 L499.5,306.6 L499.5,307.1 L499.6,300.5 L499.6,307.0 L499.7,309.1 L499.7,308.2 L499.8,307.9 L499.8,312.9 L499.9,303.1 L499.9,312.3 L500.0,312.6 L500.0,320.5 L500.1,306.0 L500.1,301.9 L500.2,305.0 L500.2,310.3 L500.3,311.2 L500.3,308.4 L500.4,311.7 L500.4,300.8 L500.5,307.4 L500.5,304.7 L500.6,298.1 L500.7,298.7 L500.7,304.8 L500.8,298.4 L500.8,307.0 L500.9,299.2 L500.9,303.9 L501.0,302.1 L501.0,299.4 L501.1,305.7 L501.1,301.5 L501.2,308.7 L501.2,295.6 L501.3,303.5 L501.3,306.4 L501.4,309.7 L501.4,304.2 L501.5,306.3 L501.5,298.3 L501.6,301.8 L501.6,304.2 L501.7,305.5 L501.7,306.2 L501.8,307.1 L501.8,305.5 L501.9,303.3 L501.9,307.3 L502.0,302.5 L502.0,306.8 L502.1,300.0 L502.1,299.2 L502.2,298.7 L502.2,295.5 L502.3,312.1 L502.3,306.8 L502.4,294.0 L502.4,303.8 L502.5,303.4 L502.5,304.7 L502.6,299.6 L502.6,305.5 L502.7,303.7 L502.7,303.5 L502.8,303.7 L502.8,304.7 L502.9,293.9 L502.9,308.7 L503.0,288.7 L503.0,287.7 L503.1,296.1 L503.1,300.9 L503.2,312.6 L503.2,290.1 L503.3,312.0 L503.3,285.2 L503.4,302.7 L503.5,291.3 L503.5,295.1 L503.6,300.3 L503.6,297.1 L503.7,296.1 L503.7,293.9 L503.8,301.4 L503.8,304.8 L503.9,305.2 L503.9,301.3 L504.0,297.8 L504.0,305.7 L504.1,306.7 L504.1,297.9 L504.2,305.7 L504.2,303.3 L504.3,289.8 L504.3,303.8 L504.4,305.3 L504.4,295.9 L504.5,303.7 L504.5,293.1 L504.6,301.6 L504.6,299.8 L504.7,291.9 L504.7,301.8 L504.8,303.8 L504.8,305.0 L504.9,284.8 L504.9,297.0 L505.0,301.2 L505.0,300.0 L505.1,283.8 L505.1,314.3 L505.2,305.6 L505.2,292.9 L505.3,304.9 L505.3,299.7 L505.4,293.6 L505.4,311.1 L505.5,286.4 L505.5,302.1 L505.6,301.5 L505.6,292.7 L505.7,295.1 L505.7,292.6 L505.8,303.1 L505.8,303.1 L505.9,312.2 L505.9,296.4 L506.0,305.1 L506.0,296.0 L506.1,290.6 L506.1,300.6 L506.2,298.4 L506.2,292.8 L506.3,297.5 L506.4,305.1 L506.4,301.0 L506.5,297.8 L506.5,299.2 L506.6,310.9 L506.6,295.2 L506.7,292.4 L506.7,294.7 L506.8,294.5 L506.8,303.9 L506.9,298.0 L506.9,297.4 L507.0,290.3 L507.0,301.6 L507.1,294.7 L507.1,302.5 L507.2,299.9 L507.2,305.1 L507.3,299.4 L507.3,305.5 L507.4,316.8 L507.4,295.7 L507.5,306.8 L507.5,295.7 L507.6,295.5 L507.6,288.5 L507.7,312.9 L507.7,300.6 L507.8,296.1 L507.8,301.9 L507.9,315.6 L507.9,301.5 L508.0,302.5 L508.0,297.9 L508.1,298.3 L508.1,298.9 L508.2,303.8 L508.2,288.4 L508.3,305.5 L508.3,313.8 L508.4,300.9 L508.4,301.9 L508.5,311.8 L508.5,300.4 L508.6,305.0 L508.6,305.9 L508.7,301.0 L508.7,291.0 L508.8,306.5 L508.8,299.8 L508.9,294.0 L508.9,306.1 L509.0,300.3 L509.0,294.1 L509.1,305.3 L509.2,304.3 L509.2,294.9 L509.3,308.6 L509.3,304.5 L509.4,304.8 L509.4,298.2 L509.5,299.6 L509.5,304.9 L509.6,291.8 L509.6,307.3 L509.7,306.4 L509.7,298.0 L509.8,315.3 L509.8,303.9 L509.9,305.0 L509.9,301.4 L510.0,313.7 L510.0,296.7 L510.1,314.9 L510.1,306.1 L510.2,314.4 L510.2,305.1 L510.3,290.7 L510.3,315.3 L510.4,297.9 L510.4,298.7 L510.5,298.1 L510.5,298.8 L510.6,304.2 L510.6,301.7 L510.7,304.1 L510.7,301.2 L510.8,300.1 L510.8,308.7 L510.9,301.0 L510.9,304.9 L511.0,302.5 L511.0,317.7 L511.1,295.9 L511.1,311.8 L511.2,308.2 L511.2,309.4 L511.3,308.6 L511.3,302.3 L511.4,311.0 L511.4,300.3 L511.5,311.8 L511.5,306.6 L511.6,300.3 L511.6,302.6 L511.7,305.3 L511.7,302.1 L511.8,306.8 L511.8,307.7 L511.9,311.1 L511.9,308.4 L512.0,299.3 L512.1,303.8 L512.1,298.8 L512.2,298.4 L512.2,316.6 L512.3,314.2 L512.3,297.2 L512.4,300.1 L512.4,309.2 L512.5,305.9 L512.5,310.0 L512.6,291.7 L512.6,306.6 L512.7,319.0 L512.7,301.6 L512.8,291.6 L512.8,295.5 L512.9,297.5 L512.9,305.7 L513.0,306.6 L513.0,307.4 L513.1,305.4 L513.1,310.2 L513.2,306.0 L513.2,297.1 L513.3,310.1 L513.3,307.8 L513.4,319.4 L513.4,298.4 L513.5,310.0 L513.5,312.1 L513.6,295.8 L513.6,300.2 L513.7,304.1 L513.7,312.3 L513.8,307.2 L513.8,303.9 L513.9,305.6 L513.9,291.4 L514.0,310.3 L514.0,300.6 L514.1,288.7 L514.1,304.4 L514.2,300.2 L514.2,309.6 L514.3,293.1 L514.3,321.7 L514.4,306.9 L514.4,302.5 L514.5,319.8 L514.5,290.8 L514.6,301.2 L514.6,305.2 L514.7,306.3 L514.7,302.2 L514.8,308.5 L514.9,300.0 L514.9,301.2 L515.0,305.9 L515.0,296.8 L515.1,305.3 L515.1,304.2 L515.2,308.5 L515.2,306.0 L515.3,306.2 L515.3,307.3 L515.4,305.6 L515.4,300.1 L515.5,292.3 L515.5,308.8 L515.6,309.4 L515.6,301.3 L515.7,304.7 L515.7,309.8 L515.8,296.1 L515.8,309.4 L515.9,309.8 L515.9,295.1 L516.0,296.4 L516.0,298.2 L516.1,292.2 L516.1,297.2 L516.2,311.3 L516.2,304.2 L516.3,295.6 L516.3,300.6 L516.4,306.3 L516.4,299.0 L516.5,303.4 L516.5,300.2 L516.6,313.6 L516.6,308.6 L516.7,298.3 L516.7,319.7 L516.8,303.4 L516.8,287.7 L516.9,304.1 L516.9,305.1 L517.0,315.2 L517.0,309.8 L517.1,304.0 L517.1,300.4 L517.2,308.0 L517.2,291.0 L517.3,308.4 L517.3,312.8 L517.4,314.3 L517.4,292.8 L517.5,301.5 L517.5,302.5 L517.6,308.6 L517.6,306.2 L517.7,306.6 L517.8,287.3 L517.8,297.3 L517.9,298.1 L517.9,313.9 L518.0,299.8 L518.0,304.3 L518.1,299.9 L518.1,293.5 L518.2,316.1 L518.2,296.8 L518.3,297.9 L518.3,303.0 L518.4,305.4 L518.4,302.7 L518.5,300.6 L518.5,301.6 L518.6,298.8 L518.6,291.6 L518.7,300.8 L518.7,307.3 L518.8,306.7 L518.8,299.8 L518.9,300.3 L518.9,300.0 L519.0,313.3 L519.0,297.5 L519.1,306.3 L519.1,298.7 L519.2,295.9 L519.2,305.8 L519.3,301.7 L519.3,295.9 L519.4,301.6 L519.4,291.0 L519.5,299.8 L519.5,297.0 L519.6,304.3 L519.6,294.9 L519.7,288.3 L519.7,305.4 L519.8,304.7 L519.8,304.8 L519.9,297.0 L519.9,311.1 L520.0,300.1 L520.0,300.0 L520.1,298.9 L520.1,301.9 L520.2,313.6 L520.2,304.1 L520.3,297.9 L520.3,314.0 L520.4,295.9 L520.4,308.7 L520.5,290.3" fill="none" stroke="#000" stroke-width="0.9" stroke-linejoin="round"/>
<path d="M140.5,375.5v-4.6M140.5,223.5v4.6M217.5,375.5v-4.6M217.5,223.5v4.6M294.5,375.5v-4.6M294.5,223.5v4.6M372.5,375.5v-4.6M372.5,223.5v4.6M450.5,375.5v-4.6M450.5,223.5v4.6M62.5,253.5h4.6M527.5,253.5h-4.6M62.5,284.5h4.6M527.5,284.5h-4.6M62.5,314.5h4.6M527.5,314.5h-4.6M62.5,345.5h4.6M527.5,345.5h-4.6" stroke="#262626" stroke-width="0.85" fill="none"/>
<rect x="62.5" y="223.5" width="465.0" height="152.0" fill="none" stroke="#262626" stroke-width="0.85"/>
<text class="tk" x="58.2" y="227.9" text-anchor="end">1.5</text>
<text class="tk" x="58.2" y="257.9" text-anchor="end">1</text>
<text class="tk" x="58.2" y="288.9" text-anchor="end">0.5</text>
<text class="tk" x="58.2" y="318.9" text-anchor="end">0</text>
<text class="tk" x="58.2" y="349.9" text-anchor="end">-0.5</text>
<text class="tk" x="58.2" y="379.9" text-anchor="end">-1</text>
<text class="tk" x="62.5" y="392.5" text-anchor="middle">0</text>
<text class="tk" x="140.0" y="392.5" text-anchor="middle">2000</text>
<text class="tk" x="217.5" y="392.5" text-anchor="middle">4000</text>
<text class="tk" x="295.0" y="392.5" text-anchor="middle">6000</text>
<text class="tk" x="372.5" y="392.5" text-anchor="middle">8000</text>
<text class="tk" x="450.0" y="392.5" text-anchor="middle">10,000</text>
<text class="tk" x="527.5" y="392.5" text-anchor="middle">12,000</text>
<text class="tk" x="63.0" y="221.7" style="font-size:16.5px;stroke-width:0.15px">×</text><text class="tk" x="73.8" y="219.5">10<tspan dy="-5.9" style="font-size:9.9px">-3</tspan></text>
<text class="lb" x="295" y="410.6" text-anchor="middle">time(s)</text>
<text class="lb" transform="translate(30.6,299.6) rotate(-90) scale(1,0.93)" text-anchor="middle">error(g)</text>
</svg></body></html>
